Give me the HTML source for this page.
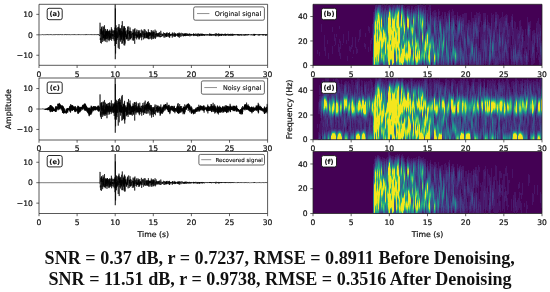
<!DOCTYPE html>
<html><head><meta charset="utf-8"><title>Denoising result</title>
<style>html,body{margin:0;padding:0;background:#fff}svg{display:block}</style></head>
<body>
<svg width="550" height="292" viewBox="0 0 550 292">
<rect width="550" height="292" fill="#fff"/>
<g font-family="'DejaVu Sans', 'Liberation Sans', sans-serif" fill="#111" stroke="#111" stroke-width="0.22" stroke-linejoin="round">
<clipPath id="cl0"><rect x="39" y="4.3" width="228.6" height="61"/></clipPath>
<path clip-path="url(#cl0)" d="M39 34.8 39.08 34.8 39.15 34.8 39.23 34.8 39.3 34.8 39.38 34.8 39.46 34.8 39.53 34.8 39.61 34.8 39.69 34.8 39.76 34.8 39.84 34.8 39.91 34.8 39.99 34.8 40.07 34.8 40.14 34.8 40.22 34.81 40.3 34.81 40.37 34.79 40.45 34.79 40.52 34.81 40.6 34.81 40.68 34.79 40.75 34.8 40.83 34.81 40.91 34.8 40.98 34.77 41.06 34.77 41.13 34.86 41.21 34.87 41.29 34.78 41.36 34.79 41.44 34.85 41.51 34.78 41.59 34.71 41.67 34.76 41.74 34.8 41.82 34.79 41.9 34.83 41.97 34.8 42.05 34.78 42.12 34.89 42.2 34.83 42.28 34.71 42.35 34.85 42.43 34.85 42.51 34.6 42.58 34.63 42.66 34.87 42.73 34.87 42.81 34.75 42.89 34.79 42.96 34.83 43.04 34.9 43.11 34.94 43.19 34.87 43.27 34.89 43.34 34.89 43.42 34.76 43.5 34.7 43.57 34.64 43.65 34.65 43.72 34.82 43.8 34.86 43.88 34.82 43.95 34.82 44.03 34.78 44.11 34.75 44.18 34.73 44.26 34.76 44.33 34.9 44.41 34.95 44.49 34.83 44.56 34.76 44.64 34.79 44.72 34.81 44.79 34.86 44.87 34.86 44.94 34.83 45.02 34.86 45.1 34.74 45.17 34.56 45.25 34.7 45.32 34.87 45.4 34.83 45.48 34.83 45.55 34.87 45.63 34.86 45.71 34.86 45.78 34.84 45.86 34.78 45.93 34.67 46.01 34.67 46.09 34.8 46.16 34.71 46.24 34.66 46.32 34.88 46.39 34.89 46.47 34.7 46.54 34.74 46.62 34.86 46.7 34.88 46.77 34.88 46.85 34.96 46.92 34.91 47 34.73 47.08 34.8 47.15 34.84 47.23 34.65 47.31 34.74 47.38 34.89 47.46 34.73 47.53 34.84 47.61 35.02 47.69 34.75 47.76 34.65 47.84 34.93 47.92 34.9 47.99 34.7 48.07 34.7 48.14 34.77 48.22 34.74 48.3 34.7 48.37 34.75 48.45 34.8 48.52 34.76 48.6 34.78 48.68 34.84 48.75 34.84 48.83 34.84 48.91 34.91 48.98 34.89 49.06 34.7 49.13 34.76 49.21 34.96 49.29 34.86 49.36 34.78 49.44 34.85 49.52 34.8 49.59 34.78 49.67 34.85 49.74 34.86 49.82 34.83 49.9 34.73 49.97 34.55 50.05 34.58 50.13 34.78 50.2 34.82 50.28 34.73 50.35 34.84 50.43 34.99 50.51 34.84 50.58 34.69 50.66 34.78 50.73 34.92 50.81 35.03 50.89 34.93 50.96 34.67 51.04 34.6 51.12 34.67 51.19 34.77 51.27 34.94 51.34 34.92 51.42 34.81 51.5 34.93 51.57 34.91 51.65 34.65 51.73 34.63 51.8 34.79 51.88 34.76 51.95 34.71 52.03 34.83 52.11 34.91 52.18 34.83 52.26 34.75 52.34 34.76 52.41 34.77 52.49 34.75 52.56 34.79 52.64 34.82 52.72 34.83 52.79 34.84 52.87 34.83 52.94 34.82 53.02 34.88 53.1 34.9 53.17 34.81 53.25 34.76 53.33 34.81 53.4 34.82 53.48 34.68 53.55 34.55 53.63 34.66 53.71 34.93 53.78 34.94 53.86 34.77 53.94 34.78 54.01 34.79 54.09 34.76 54.16 34.96 54.24 35.1 54.32 34.89 54.39 34.69 54.47 34.74 54.54 34.74 54.62 34.66 54.7 34.76 54.77 34.78 54.85 34.68 54.93 34.76 55 34.87 55.08 34.88 55.15 34.84 55.23 34.74 55.31 34.86 55.38 34.97 55.46 34.74 55.54 34.71 55.61 34.9 55.69 34.8 55.76 34.73 55.84 34.84 55.92 34.77 55.99 34.72 56.07 34.87 56.14 34.8 56.22 34.65 56.3 34.82 56.37 34.95 56.45 34.79 56.53 34.74 56.6 34.86 56.68 34.94 56.75 34.82 56.83 34.64 56.91 34.66 56.98 34.72 57.06 34.74 57.14 34.92 57.21 34.95 57.29 34.71 57.36 34.71 57.44 34.88 57.52 34.85 57.59 34.78 57.67 34.82 57.75 34.85 57.82 34.83 57.9 34.73 57.97 34.76 58.05 34.85 58.13 34.86 58.2 34.98 58.28 34.99 58.35 34.64 58.43 34.52 58.51 34.79 58.58 34.78 58.66 34.65 58.74 34.81 58.81 34.92 58.89 34.84 58.96 34.79 59.04 34.76 59.12 34.69 59.19 34.74 59.27 34.93 59.35 34.95 59.42 34.78 59.5 34.78 59.57 34.83 59.65 34.74 59.73 34.76 59.8 34.86 59.88 34.84 59.95 34.92 60.03 34.96 60.11 34.7 60.18 34.65 60.26 34.79 60.34 34.66 60.41 34.64 60.49 34.86 60.56 34.94 60.64 34.86 60.72 34.71 60.79 34.66 60.87 34.88 60.95 35 61.02 34.81 61.1 34.65 61.17 34.71 61.25 34.88 61.33 34.92 61.4 34.81 61.48 34.79 61.56 34.81 61.63 34.8 61.71 34.86 61.78 34.91 61.86 34.85 61.94 34.69 62.01 34.64 62.09 34.87 62.16 34.91 62.24 34.64 62.32 34.66 62.39 34.91 62.47 34.9 62.55 34.74 62.62 34.72 62.7 34.72 62.77 34.68 62.85 34.77 62.93 34.83 63 34.84 63.08 34.93 63.16 34.87 63.23 34.73 63.31 34.8 63.38 34.9 63.46 34.83 63.54 34.85 63.61 34.93 63.69 34.82 63.77 34.72 63.84 34.77 63.92 34.73 63.99 34.66 64.07 34.74 64.15 34.82 64.22 34.84 64.3 34.86 64.37 34.92 64.45 34.84 64.53 34.66 64.6 34.72 64.68 34.78 64.76 34.75 64.83 35.01 64.91 35.04 64.98 34.62 65.06 34.59 65.14 34.79 65.21 34.73 65.29 34.86 65.37 34.98 65.44 34.78 65.52 34.85 65.59 35.01 65.67 34.83 65.75 34.65 65.82 34.64 65.9 34.72 65.97 34.78 66.05 34.76 66.13 34.81 66.2 34.74 66.28 34.59 66.36 34.85 66.43 35.05 66.51 34.92 66.58 34.95 66.66 34.91 66.74 34.64 66.81 34.72 66.89 34.9 66.97 34.81 67.04 34.72 67.12 34.69 67.19 34.71 67.27 34.84 67.35 34.84 67.42 34.8 67.5 34.9 67.58 34.84 67.65 34.65 67.73 34.77 67.8 34.99 67.88 34.89 67.96 34.71 68.03 34.69 68.11 34.76 68.18 34.86 68.26 34.84 68.34 34.74 68.41 34.72 68.49 34.72 68.57 34.72 68.64 34.8 68.72 34.9 68.79 34.91 68.87 34.83 68.95 34.68 69.02 34.68 69.1 34.9 69.18 34.89 69.25 34.7 69.33 34.77 69.4 34.94 69.48 35 69.56 34.87 69.63 34.64 69.71 34.71 69.78 34.88 69.86 34.82 69.94 34.84 70.01 34.85 70.09 34.74 70.17 34.76 70.24 34.77 70.32 34.7 70.39 34.72 70.47 34.73 70.55 34.72 70.62 34.84 70.7 34.94 70.78 34.89 70.85 34.84 70.93 34.87 71 34.86 71.08 34.76 71.16 34.74 71.23 34.84 71.31 34.8 71.39 34.63 71.46 34.67 71.54 34.82 71.61 34.86 71.69 34.88 71.77 34.91 71.84 34.83 71.92 34.7 71.99 34.7 72.07 34.87 72.15 34.96 72.22 34.82 72.3 34.72 72.38 34.77 72.45 34.75 72.53 34.74 72.6 34.83 72.68 34.74 72.76 34.59 72.83 34.73 72.91 34.89 72.99 34.87 73.06 34.82 73.14 34.73 73.21 34.75 73.29 34.92 73.37 34.92 73.44 34.79 73.52 34.92 73.59 35.05 73.67 34.87 73.75 34.78 73.82 34.82 73.9 34.71 73.98 34.76 74.05 34.8 74.13 34.56 74.2 34.64 74.28 34.88 74.36 34.77 74.43 34.73 74.51 34.86 74.59 34.94 74.66 34.88 74.74 34.58 74.81 34.55 74.89 34.89 74.97 34.95 75.04 34.83 75.12 34.83 75.19 34.73 75.27 34.67 75.35 34.85 75.42 34.99 75.5 34.92 75.58 34.87 75.65 34.88 75.73 34.8 75.8 34.73 75.88 34.72 75.96 34.71 76.03 34.71 76.11 34.76 76.19 34.85 76.26 34.9 76.34 34.84 76.41 34.76 76.49 34.76 76.57 34.75 76.64 34.71 76.72 34.82 76.8 34.96 76.87 34.96 76.95 34.84 77.02 34.68 77.1 34.7 77.18 34.79 77.25 34.8 77.33 34.89 77.4 34.86 77.48 34.66 77.56 34.66 77.63 34.73 77.71 34.7 77.79 34.77 77.86 34.9 77.94 34.9 78.01 34.81 78.09 34.9 78.17 34.95 78.24 34.87 78.32 34.93 78.4 34.85 78.47 34.53 78.55 34.64 78.62 34.95 78.7 34.89 78.78 34.75 78.85 34.64 78.93 34.6 79 34.82 79.08 34.91 79.16 34.77 79.23 34.83 79.31 34.97 79.39 34.92 79.46 34.77 79.54 34.7 79.61 34.73 79.69 34.77 79.77 34.78 79.84 34.81 79.92 34.78 80 34.86 80.07 34.94 80.15 34.79 80.22 34.65 80.3 34.67 80.38 34.74 80.45 34.85 80.53 34.84 80.61 34.76 80.68 34.84 80.76 34.92 80.83 34.87 80.91 34.83 80.99 34.84 81.06 34.88 81.14 34.88 81.21 34.7 81.29 34.55 81.37 34.65 81.44 34.84 81.52 34.91 81.6 34.85 81.67 34.72 81.75 34.68 81.82 34.85 81.9 34.98 81.98 34.87 82.05 34.8 82.13 34.78 82.21 34.72 82.28 34.78 82.36 34.77 82.43 34.72 82.51 34.9 82.59 34.97 82.66 34.89 82.74 34.86 82.81 34.7 82.89 34.62 82.97 34.74 83.04 34.78 83.12 34.81 83.2 34.89 83.27 34.82 83.35 34.69 83.42 34.69 83.5 34.75 83.58 34.76 83.65 34.73 83.73 34.75 83.81 34.87 83.88 34.98 83.96 35.01 84.03 34.91 84.11 34.78 84.19 34.75 84.26 34.87 84.34 34.89 84.42 34.76 84.49 34.69 84.57 34.71 84.64 34.76 84.72 34.82 84.8 34.79 84.87 34.69 84.95 34.69 85.02 34.84 85.1 34.89 85.18 34.71 85.25 34.62 85.33 34.86 85.41 35.07 85.48 34.88 85.56 34.71 85.63 34.86 85.71 34.87 85.79 34.71 85.86 34.74 85.94 34.85 86.02 34.87 86.09 34.82 86.17 34.73 86.24 34.83 86.32 34.97 86.4 34.74 86.47 34.56 86.55 34.78 86.62 34.88 86.7 34.67 86.78 34.69 86.85 34.89 86.93 34.85 87.01 34.79 87.08 34.92 87.16 34.86 87.23 34.61 87.31 34.67 87.39 34.87 87.46 34.86 87.54 34.9 87.62 34.87 87.69 34.77 87.77 34.83 87.84 34.84 87.92 34.74 88 34.82 88.07 34.82 88.15 34.68 88.23 34.78 88.3 34.98 88.38 34.86 88.45 34.67 88.53 34.74 88.61 34.72 88.68 34.68 88.76 34.87 88.83 34.91 88.91 34.79 88.99 34.82 89.06 34.86 89.14 34.8 89.22 34.77 89.29 34.83 89.37 34.84 89.44 34.72 89.52 34.74 89.6 34.9 89.67 34.85 89.75 34.76 89.83 34.81 89.9 34.72 89.98 34.62 90.05 34.82 90.13 34.95 90.21 34.82 90.28 34.75 90.36 34.77 90.44 34.88 90.51 34.97 90.59 34.86 90.66 34.83 90.74 34.8 90.82 34.61 90.89 34.73 90.97 34.89 91.04 34.78 91.12 34.88 91.2 34.91 91.27 34.57 91.35 34.53 91.43 34.82 91.5 34.91 91.58 34.84 91.65 34.81 91.73 34.85 91.81 34.91 91.88 34.86 91.96 34.74 92.04 34.79 92.11 34.88 92.19 34.72 92.26 34.58 92.34 34.71 92.42 34.9 92.49 34.87 92.57 34.85 92.64 34.9 92.72 34.82 92.8 34.74 92.87 34.75 92.95 34.83 93.03 34.89 93.1 34.68 93.18 34.6 93.25 34.87 93.33 34.89 93.41 34.76 93.48 34.86 93.56 34.85 93.64 34.8 93.71 34.93 93.79 34.9 93.86 34.74 93.94 34.74 94.02 34.8 94.09 34.76 94.17 34.73 94.25 34.86 94.32 34.92 94.4 34.77 94.47 34.82 94.55 34.85 94.63 34.56 94.7 34.6 94.78 34.9 94.85 34.88 94.93 34.83 95.01 34.9 95.08 34.79 95.16 34.62 95.24 34.74 95.31 34.88 95.39 34.72 95.46 34.68 95.54 34.93 95.62 34.94 95.69 34.75 95.77 34.77 95.85 34.86 95.92 34.8 96 34.78 96.07 34.8 96.15 34.82 96.23 34.88 96.3 34.95 96.38 34.85 96.45 34.64 96.53 34.61 96.61 34.74 96.68 34.85 96.76 34.95 96.84 34.96 96.91 34.74 96.99 34.66 97.06 34.8 97.14 34.9 97.22 34.86 97.29 34.7 97.37 34.66 97.45 34.79 97.52 34.85 97.6 34.78 97.67 34.88 97.75 34.82 97.83 34.64 97.9 34.8 97.98 34.96 98.06 34.57 98.13 34.49 98.21 34.94 98.28 34.96 98.36 34.67 98.44 34.77 98.51 34.98 98.59 34.74 98.66 34.67 98.74 34.8 98.82 35.02 98.89 35.09 98.97 35.11 99.05 35.03 99.12 35.09 99.2 35.24 99.27 35.23 99.35 35.14 99.43 34.83 99.5 35.56 99.58 35.48 99.66 35.2 99.73 35.67 99.81 35.28 99.88 34.78 99.96 30.3 100.04 22.74 100.11 24.25 100.19 34.29 100.26 40 100.34 39.32 100.42 38.3 100.49 37.97 100.57 38.49 100.65 42.93 100.72 41.79 100.8 31 100.87 29.18 100.95 34.17 101.03 33.68 101.1 34.17 101.18 31.64 101.26 28.91 101.33 34.9 101.41 43.51 101.48 37.95 101.56 26.73 101.64 33.77 101.71 32.84 101.79 27.61 101.87 35.63 101.94 36.49 102.02 37.1 102.09 39.91 102.17 37.85 102.25 37.85 102.32 37.07 102.4 32.21 102.47 30.74 102.55 33.76 102.63 41.94 102.7 40.09 102.78 32.15 102.86 34.92 102.93 28.62 103.01 26.21 103.08 34.39 103.16 36.4 103.24 38.25 103.31 36.01 103.39 30.86 103.47 30.11 103.54 37.62 103.62 37.7 103.69 27.13 103.77 35.49 103.85 38.26 103.92 34.46 104 41.08 104.07 36.79 104.15 40.44 104.23 39.26 104.3 34.85 104.38 37.09 104.46 25.28 104.53 25.69 104.61 33.37 104.68 35.06 104.76 39.18 104.84 39.59 104.91 35.28 104.99 32.1 105.07 31.05 105.14 30.74 105.22 32.21 105.29 40.29 105.37 41.64 105.45 28.93 105.52 35.17 105.6 39.36 105.68 33.84 105.75 37.93 105.83 33.02 105.9 32.07 105.98 36.12 106.06 36.22 106.13 35.13 106.21 32.26 106.28 31.02 106.36 37.11 106.44 39.02 106.51 31.4 106.59 30.75 106.67 34.63 106.74 35.75 106.82 31.16 106.89 35.48 106.97 42.25 107.05 38.74 107.12 37.35 107.2 30.43 107.28 29.21 107.35 39.36 107.43 35.75 107.5 29.49 107.58 34.73 107.66 33.36 107.73 31.64 107.81 37.42 107.88 36.97 107.96 37.86 108.04 38.19 108.11 32.49 108.19 33.23 108.27 35.8 108.34 36.59 108.42 34.66 108.49 31.95 108.57 31.57 108.65 30.91 108.72 35.86 108.8 40.1 108.88 36.94 108.95 30.8 109.03 33.37 109.1 41.2 109.18 38.05 109.26 32.37 109.33 32.87 109.41 37.73 109.49 39.55 109.56 33.43 109.64 30.91 109.71 33.73 109.79 32.15 109.87 29.71 109.94 30.74 110.02 34.91 110.09 38.23 110.17 33.94 110.25 33.87 110.32 37.79 110.4 36.45 110.48 37.27 110.55 33.6 110.63 33.25 110.7 39.86 110.78 36.15 110.86 30.87 110.93 32.73 111.01 36.81 111.09 37.73 111.16 38.64 111.24 38.06 111.31 32.18 111.39 27.29 111.47 28.57 111.54 36.28 111.62 40.74 111.69 39.39 111.77 31.86 111.85 28.9 111.92 34.57 112 34.92 112.08 35.57 112.15 35.47 112.23 33.99 112.3 36.41 112.38 36.28 112.46 35.84 112.53 35.27 112.61 33.81 112.69 38.88 112.76 37.55 112.84 30.32 112.91 33.14 112.99 32.58 113.07 30.98 113.14 34.83 113.22 36.1 113.3 35.96 113.37 34.84 113.45 35.03 113.52 34.45 113.6 35.11 113.68 39.38 113.75 38.18 113.83 32.31 113.9 30.46 113.98 31.68 114.06 32.9 114.13 36.9 114.21 41.14 114.29 38 114.36 36.18 114.44 36.94 114.51 31.43 114.59 32.49 114.67 33.45 114.74 30.06 114.82 35.68 114.9 30.26 114.97 27.58 115.05 46.02 115.12 17.84 115.2 4.3 115.28 59.2 115.35 55.63 115.43 8.5 115.5 36.49 115.58 53.47 115.66 36.39 115.73 32.5 115.81 40.06 115.89 37.61 115.96 25.25 116.04 27.32 116.11 32.16 116.19 40.05 116.27 40.72 116.34 32.93 116.42 44 116.5 42.71 116.57 28.64 116.65 28.17 116.72 30.49 116.8 33.22 116.88 31.09 116.95 32.17 117.03 39.98 117.11 37.76 117.18 33.03 117.26 36.04 117.33 38.21 117.41 36.86 117.49 35.31 117.56 35.33 117.64 31.25 117.71 27.31 117.79 35.56 117.87 37.79 117.94 36.38 118.02 36.22 118.1 31.78 118.17 44.44 118.25 47.85 118.32 32.26 118.4 29.05 118.48 26.92 118.55 26.75 118.63 31.58 118.71 30.1 118.78 29.49 118.86 36.73 118.93 36.44 119.01 24.13 119.09 32.76 119.16 49.11 119.24 49.05 119.31 42.22 119.39 31.3 119.47 30 119.54 34.77 119.62 32.58 119.7 27.8 119.77 33.36 119.85 35.27 119.92 30.52 120 40.29 120.08 38.26 120.15 29.09 120.23 34.96 120.31 33.61 120.38 31.58 120.46 41.65 120.53 37.77 120.61 28.22 120.69 32.78 120.76 36.66 120.84 37.52 120.92 35.42 120.99 35.4 121.07 33.2 121.14 34.69 121.22 39.57 121.3 30.8 121.37 32.65 121.45 39.41 121.52 36.97 121.6 31.94 121.68 25.33 121.75 35.6 121.83 43.76 121.91 36.73 121.98 35.23 122.06 31.08 122.13 34.25 122.21 34.37 122.29 21.18 122.36 27.26 122.44 36.84 122.52 40.52 122.59 43.39 122.67 40.71 122.74 35.24 122.82 32.87 122.9 36.58 122.97 32.54 123.05 32.13 123.12 37.56 123.2 34.74 123.28 29.39 123.35 32.67 123.43 32.8 123.51 34.44 123.58 40.75 123.66 28.35 123.73 35.49 123.81 39.38 123.89 26.46 123.96 45.22 124.04 41.58 124.12 26.06 124.19 31.4 124.27 30.04 124.34 38.51 124.42 41.95 124.5 32.65 124.57 26.8 124.65 30.62 124.73 45.48 124.8 40.6 124.88 31.25 124.95 37.54 125.03 43.59 125.11 42.64 125.18 29.72 125.26 27.99 125.33 35.02 125.41 34.73 125.49 31.78 125.56 32.64 125.64 37.21 125.72 32.6 125.79 32.52 125.87 34.47 125.94 31.13 126.02 32.59 126.1 34.64 126.17 35.82 126.25 38.16 126.33 39.15 126.4 35.06 126.48 35.51 126.55 39.31 126.63 35.88 126.71 34.01 126.78 37.13 126.86 37.14 126.93 36.11 127.01 36.61 127.09 33.5 127.16 30.1 127.24 32.37 127.32 29.49 127.39 33.14 127.47 38.46 127.54 26.66 127.62 33.09 127.7 35.35 127.77 30.31 127.85 39.36 127.93 37.5 128 40.99 128.08 40.84 128.15 40.55 128.23 40.53 128.31 32.32 128.38 33.84 128.46 32.45 128.54 29.6 128.61 27.51 128.69 26.45 128.76 29.32 128.84 33.21 128.92 37.69 128.99 38.48 129.07 38.43 129.14 39.12 129.22 40.38 129.3 40.15 129.37 32.54 129.45 31.69 129.53 36.55 129.6 30.87 129.68 33.82 129.75 35.84 129.83 31.37 129.91 39.16 129.98 36.93 130.06 27.47 130.14 32.15 130.21 38.42 130.29 37.19 130.36 37.87 130.44 39.35 130.52 35.01 130.59 31.26 130.67 31.21 130.74 31.87 130.82 31.13 130.9 32.37 130.97 37.51 131.05 37.46 131.13 34.08 131.2 34.7 131.28 35.88 131.35 36.67 131.43 38.18 131.51 37.19 131.58 33.75 131.66 33.77 131.74 33.34 131.81 31.63 131.89 33.95 131.96 34.72 132.04 34.15 132.12 33.53 132.19 34.54 132.27 39.49 132.35 40.39 132.42 37.4 132.5 34.5 132.57 33.28 132.65 34.08 132.73 33.34 132.8 33.34 132.88 33.88 132.95 31.98 133.03 29.35 133.11 31.64 133.18 35.16 133.26 33.53 133.34 37.62 133.41 37.64 133.49 32.55 133.56 40.75 133.64 38.01 133.72 32.86 133.79 39.82 133.87 32.22 133.95 30.19 134.02 37.96 134.1 35.1 134.17 35.49 134.25 36.04 134.33 28.98 134.4 31 134.48 38.23 134.55 37.5 134.63 40.46 134.71 43.83 134.78 35.95 134.86 29.7 134.94 28.22 135.01 28.73 135.09 35.2 135.16 36.11 135.24 34.33 135.32 34.96 135.39 32.38 135.47 32.39 135.55 33.75 135.62 35.26 135.7 36.48 135.77 36.75 135.85 38.2 135.93 38.31 136 36.42 136.08 33.88 136.16 32.16 136.23 31.9 136.31 31.28 136.38 32.65 136.46 35.73 136.54 34.6 136.61 36.46 136.69 39.45 136.76 31.71 136.84 29.56 136.92 37.51 136.99 36.23 137.07 34.46 137.15 36.5 137.22 35.78 137.3 35.6 137.37 34.67 137.45 37.35 137.53 37.43 137.6 34.97 137.68 36.92 137.76 35.16 137.83 32.1 137.91 33.69 137.98 37.32 138.06 35.65 138.14 30 138.21 30.54 138.29 35.68 138.36 35.69 138.44 32.8 138.52 33.24 138.59 32.82 138.67 31.38 138.75 33.3 138.82 39.25 138.9 38.08 138.97 31.54 139.05 36.63 139.13 38.11 139.2 34.1 139.28 39.41 139.36 38.53 139.43 34.81 139.51 36.88 139.58 33.42 139.66 31.28 139.74 31.11 139.81 30.25 139.89 37.3 139.97 38.06 140.04 33.79 140.12 36.49 140.19 34.55 140.27 33.08 140.35 34.92 140.42 33.5 140.5 34.45 140.57 35.7 140.65 34.93 140.73 34.23 140.8 33.97 140.88 36.19 140.96 37.34 141.03 33.4 141.11 33.44 141.18 36.34 141.26 33.05 141.34 31.46 141.41 29.59 141.49 30.38 141.57 38.34 141.64 40.24 141.72 39.9 141.79 37.72 141.87 34.65 141.95 35.74 142.02 35.53 142.1 36.58 142.17 37.1 142.25 36.02 142.33 33.51 142.4 31.36 142.48 32.57 142.56 32.86 142.63 34.73 142.71 34.72 142.78 30.44 142.86 30.87 142.94 32.59 143.01 33.6 143.09 36.4 143.17 36.27 143.24 36.21 143.32 37.55 143.39 37.94 143.47 38.77 143.55 39.36 143.62 35.63 143.7 31.56 143.78 31.47 143.85 33.8 143.93 35.36 144 34.02 144.08 36.73 144.16 31.91 144.23 29.12 144.31 35.17 144.38 33.35 144.46 37.71 144.54 37.84 144.61 34.8 144.69 38.39 144.77 36.37 144.84 35.56 144.92 33.67 144.99 33.21 145.07 34.33 145.15 29.71 145.22 30.33 145.3 35.66 145.38 35.78 145.45 35.75 145.53 37.81 145.6 38.18 145.68 36.96 145.76 35.24 145.83 34.17 145.91 33.25 145.98 34.37 146.06 34.03 146.14 35.09 146.21 36.03 146.29 31.15 146.37 33.89 146.44 34.15 146.52 32.32 146.59 37.75 146.67 33.66 146.75 32.92 146.82 38.16 146.9 35.28 146.98 35.08 147.05 38.17 147.13 35.9 147.2 35.38 147.28 36.75 147.36 33.73 147.43 32.87 147.51 33.15 147.59 33.6 147.66 32.26 147.74 33.78 147.81 38.36 147.89 33.54 147.97 33.83 148.04 37.1 148.12 33.55 148.19 38.09 148.27 38.94 148.35 29.33 148.42 31.6 148.5 36.69 148.58 33.48 148.65 32.54 148.73 33.25 148.8 36.74 148.88 39.32 148.96 36.47 149.03 32.82 149.11 35.1 149.19 35.87 149.26 32.17 149.34 34.81 149.41 34.22 149.49 33.36 149.57 35.74 149.64 32.54 149.72 33.3 149.79 36.41 149.87 36.69 149.95 38.87 150.02 39.03 150.1 36.6 150.18 34.1 150.25 32.38 150.33 32.36 150.4 32.96 150.48 34.54 150.56 35.35 150.63 33.24 150.71 33 150.79 35.35 150.86 33.28 150.94 35.11 151.01 38.13 151.09 35.92 151.17 36.07 151.24 33 151.32 30.03 151.4 32.05 151.47 36.34 151.55 39.53 151.62 37.86 151.7 33.79 151.78 31.8 151.85 34.58 151.93 37.43 152 37.2 152.08 35.92 152.16 34.7 152.23 33.43 152.31 32.28 152.39 31.43 152.46 33.02 152.54 35.69 152.61 36.23 152.69 34.12 152.77 33.15 152.84 36.54 152.92 39.12 153 38.61 153.07 33.67 153.15 30.36 153.22 35.33 153.3 38.78 153.38 35.94 153.45 33.23 153.53 31.95 153.6 33.54 153.68 35.59 153.76 32.91 153.83 32.42 153.91 35.93 153.99 36.97 154.06 32.94 154.14 31.72 154.21 35.4 154.29 37.05 154.37 37.77 154.44 38.09 154.52 37.51 154.6 35.35 154.67 33.28 154.75 32.85 154.82 32.82 154.9 32.53 154.98 31.59 155.05 29.62 155.13 31.02 155.2 36.8 155.28 38.98 155.36 38.05 155.43 37.8 155.51 37.92 155.59 35.34 155.66 33.58 155.74 35.66 155.81 37.72 155.89 36.18 155.97 34.19 156.04 34.99 156.12 31.09 156.2 30.85 156.27 35.37 156.35 35.76 156.42 35.5 156.5 33.77 156.58 32.85 156.65 33.84 156.73 34.38 156.81 35.52 156.88 36.99 156.96 36.29 157.03 34.6 157.11 33.5 157.19 33.71 157.26 35.79 157.34 35.87 157.41 34.21 157.49 33.58 157.57 33.27 157.64 34.05 157.72 35.94 157.8 35.77 157.87 34.88 157.95 36.21 158.02 37.11 158.1 35.76 158.18 34.33 158.25 33.11 158.33 33.68 158.41 35.54 158.48 35.47 158.56 35.01 158.63 33.82 158.71 33.12 158.79 35.04 158.86 36.43 158.94 35.94 159.02 34.33 159.09 32.54 159.17 32.61 159.24 34.82 159.32 36.6 159.4 35.71 159.47 34.3 159.55 33.63 159.62 32.25 159.7 32.69 159.78 33.64 159.85 34.61 159.93 36.98 160.01 36.94 160.08 36.39 160.16 37.36 160.23 37.14 160.31 36.08 160.39 36.83 160.46 36.98 160.54 34.02 160.62 34.22 160.69 34.88 160.77 30.8 160.84 31.1 160.92 34.26 161 33.64 161.07 33.79 161.15 34.36 161.22 34.4 161.3 34.94 161.38 35.24 161.45 36.49 161.53 36.97 161.61 35.68 161.68 34.72 161.76 34.85 161.83 34.59 161.91 33.83 161.99 33.91 162.06 33.68 162.14 34.11 162.22 35.64 162.29 35.75 162.37 35.31 162.44 34.57 162.52 34.49 162.6 36.24 162.67 35.82 162.75 34.02 162.82 34.34 162.9 34.86 162.98 34.54 163.05 35 163.13 35.83 163.21 35.24 163.28 34.28 163.36 34.05 163.43 33.47 163.51 32.48 163.59 32.76 163.66 34.1 163.74 35.32 163.82 37.08 163.89 37.51 163.97 36.53 164.04 36.08 164.12 35.24 164.2 35.37 164.27 34.75 164.35 33.31 164.43 33.92 164.5 34.04 164.58 34.26 164.65 33.81 164.73 33.17 164.81 35.78 164.88 37.58 164.96 35.8 165.03 33.5 165.11 33.44 165.19 33.29 165.26 33.59 165.34 36.13 165.42 35.96 165.49 34.02 165.57 34.59 165.64 35.15 165.72 34.58 165.8 35.97 165.87 36.59 165.95 34.1 166.03 33.72 166.1 34.83 166.18 34.2 166.25 35.06 166.33 36.84 166.41 34.71 166.48 33.23 166.56 36.59 166.64 36.54 166.71 32.81 166.79 33.68 166.86 36.24 166.94 35.13 167.02 32.75 167.09 32.46 167.17 34.21 167.24 35.49 167.32 35.3 167.4 35.08 167.47 34.93 167.55 34.81 167.63 35.03 167.7 35.27 167.78 35.8 167.85 36.54 167.93 35.43 168.01 33.42 168.08 33.2 168.16 33.39 168.24 34.92 168.31 36.7 168.39 36.34 168.46 36.05 168.54 35.26 168.62 33.75 168.69 33.11 168.77 33.89 168.84 34.94 168.92 34.9 169 34.24 169.07 33.46 169.15 33.13 169.23 33.63 169.3 35.66 169.38 37.66 169.45 36.06 169.53 32.42 169.61 32.76 169.68 36.33 169.76 37.42 169.84 35.77 169.91 34.5 169.99 34.96 170.06 35.52 170.14 34.87 170.22 34.4 170.29 34.56 170.37 34.8 170.44 35.18 170.52 34.34 170.6 34.05 170.67 34.4 170.75 34.22 170.83 36.01 170.9 35.97 170.98 33.9 171.05 34.64 171.13 35.43 171.21 34.77 171.28 34.78 171.36 35.07 171.44 34.99 171.51 34.26 171.59 33.98 171.66 34.31 171.74 33.86 171.82 33.99 171.89 33.97 171.97 34.06 172.05 35.07 172.12 35.31 172.2 36.42 172.27 37.62 172.35 35.23 172.43 32.5 172.5 33.83 172.58 34.9 172.65 34.56 172.73 36.04 172.81 36.26 172.88 34.11 172.96 33.45 173.04 34.48 173.11 33.98 173.19 33.6 173.26 34.88 173.34 35.12 173.42 35.51 173.49 36.38 173.57 36.14 173.65 35.58 173.72 35.37 173.8 35.47 173.87 34.69 173.95 34.35 174.03 35.77 174.1 35.73 174.18 33.68 174.26 32.44 174.33 33.09 174.41 34.25 174.48 33.94 174.56 33.98 174.64 35.3 174.71 34.57 174.79 35.39 174.86 36.97 174.94 34.01 175.02 35.01 175.09 36.78 175.17 33.22 175.25 34.12 175.32 36.04 175.4 34.9 175.47 35.04 175.55 34.31 175.63 33.61 175.7 35.08 175.78 35.84 175.86 34.83 175.93 34.15 176.01 34.66 176.08 35.02 176.16 34.47 176.24 34.41 176.31 35.05 176.39 35.36 176.46 35.58 176.54 35.87 176.62 35.72 176.69 35.13 176.77 34.6 176.85 34.08 176.92 34.03 177 34.01 177.07 33.85 177.15 34.18 177.23 34.26 177.3 33.62 177.38 33.55 177.46 35.8 177.53 36.07 177.61 33.69 177.68 34.83 177.76 36.25 177.84 35.58 177.91 36.41 177.99 36.53 178.06 34.63 178.14 33.08 178.22 33.72 178.29 34.99 178.37 34.57 178.45 34.02 178.52 35.37 178.6 36.78 178.67 34.79 178.75 34.44 178.83 35.7 178.9 33.81 178.98 34.01 179.06 34.33 179.13 32.56 179.21 34.47 179.28 37.77 179.36 37.03 179.44 34.9 179.51 34.45 179.59 33.75 179.67 33.42 179.74 34.31 179.82 34.27 179.89 34.45 179.97 35.98 180.05 35.43 180.12 34.34 180.2 35.11 180.27 34.85 180.35 33.61 180.43 33.36 180.5 33.98 180.58 34.29 180.66 34.57 180.73 35.89 180.81 37.03 180.88 36.85 180.96 36.25 181.04 35.76 181.11 35.65 181.19 35.06 181.27 33.35 181.34 32.81 181.42 33.09 181.49 33.22 181.57 33.87 181.65 34.65 181.72 35.54 181.8 35.65 181.88 35.27 181.95 35.58 182.03 35.86 182.1 35.56 182.18 34.99 182.26 34.86 182.33 34.84 182.41 34.51 182.48 33.84 182.56 33.19 182.64 33.99 182.71 35.15 182.79 35.09 182.87 35.07 182.94 35.06 183.02 35.28 183.09 35.54 183.17 34.23 183.25 34.78 183.32 36.44 183.4 34.8 183.48 33.78 183.55 34.18 183.63 33.82 183.7 34.12 183.78 34.58 183.86 34.58 183.93 34.85 184.01 35.94 184.08 35.94 184.16 34.52 184.24 34.89 184.31 35.64 184.39 34.42 184.47 34.1 184.54 35.81 184.62 35.22 184.69 33.34 184.77 34.84 184.85 35.4 184.92 33.73 185 34.8 185.08 35.92 185.15 34.5 185.23 34.63 185.3 36.18 185.38 35.1 185.46 34.42 185.53 35.21 185.61 33.86 185.69 33.27 185.76 34.43 185.84 34.75 185.91 35.13 185.99 35.22 186.07 33.89 186.14 33.5 186.22 34.41 186.29 34.8 186.37 35.33 186.45 35.91 186.52 36.01 186.6 35.69 186.68 35.28 186.75 35.83 186.83 35.23 186.9 33.4 186.98 34.12 187.06 35.12 187.13 34.03 187.21 34.31 187.29 35.67 187.36 35.09 187.44 34.52 187.51 35.18 187.59 34.7 187.67 33.77 187.74 34.28 187.82 34.57 187.89 34.11 187.97 34.72 188.05 35 188.12 35.06 188.2 36.02 188.28 35.3 188.35 34.61 188.43 35.6 188.5 35.61 188.58 34.66 188.66 34.29 188.73 34.72 188.81 34.99 188.89 34.93 188.96 34.5 189.04 33.89 189.11 34.39 189.19 34.43 189.27 33.45 189.34 34.25 189.42 35.15 189.5 34.4 189.57 34.83 189.65 35.16 189.72 34.73 189.8 35.65 189.88 36.38 189.95 35.77 190.03 34.41 190.1 33.75 190.18 34.8 190.26 35.78 190.33 35.58 190.41 35.09 190.49 34.49 190.56 34.73 190.64 35 190.71 34.28 190.79 34.15 190.87 34.03 190.94 34.35 191.02 34.98 191.1 35.11 191.17 35.16 191.25 34.26 191.32 33.99 191.4 35.09 191.48 35.67 191.55 35.25 191.63 34.99 191.7 34.9 191.78 33.94 191.86 34.01 191.93 34.77 192.01 34.35 192.09 34.51 192.16 35.11 192.24 35.44 192.31 35.45 192.39 35.27 192.47 35.19 192.54 34.72 192.62 34.86 192.7 34.99 192.77 34.92 192.85 35.05 192.92 34.81 193 34.87 193.08 34.6 193.15 34.02 193.23 34.11 193.31 35.12 193.38 35.31 193.46 33.92 193.53 33.56 193.61 35.06 193.69 36.09 193.76 34.63 193.84 33.65 193.91 34.75 193.99 35.49 194.07 35.56 194.14 35.19 194.22 34.64 194.3 34.15 194.37 34.67 194.45 35.37 194.52 34.37 194.6 34.1 194.68 34.88 194.75 34.99 194.83 34.94 194.91 35.1 194.98 34.97 195.06 34.53 195.13 35.2 195.21 35.83 195.29 35.1 195.36 34.6 195.44 34.76 195.51 35.32 195.59 35.49 195.67 34.69 195.74 34.07 195.82 33.42 195.9 33.5 195.97 34.64 196.05 34.79 196.12 34.71 196.2 35.14 196.28 35.33 196.35 34.85 196.43 34.82 196.51 35.89 196.58 35.82 196.66 34.8 196.73 34.22 196.81 34.46 196.89 34.69 196.96 34.07 197.04 33.99 197.12 33.96 197.19 34.51 197.27 36 197.34 35.8 197.42 34.98 197.5 34.63 197.57 34.14 197.65 33.76 197.72 34.44 197.8 36.14 197.88 36.57 197.95 35.93 198.03 34.86 198.11 33.75 198.18 33.64 198.26 34.04 198.33 34.96 198.41 35.56 198.49 35.28 198.56 35.3 198.64 35.24 198.72 34.3 198.79 33.66 198.87 34.14 198.94 34.43 199.02 34.69 199.1 34.77 199.17 34.1 199.25 34.91 199.32 36.08 199.4 35.17 199.48 34 199.55 35.08 199.63 36.08 199.71 34.82 199.78 35.09 199.86 36.02 199.93 34.83 200.01 34.16 200.09 34.51 200.16 34.38 200.24 33.68 200.32 33.62 200.39 34.37 200.47 34.72 200.54 35.14 200.62 35.51 200.7 35.49 200.77 35.5 200.85 35.09 200.93 34.49 201 34.33 201.08 35.1 201.15 35.26 201.23 33.96 201.31 34.28 201.38 34.87 201.46 33.99 201.53 34.77 201.61 35.49 201.69 34.49 201.76 34.81 201.84 35.51 201.92 33.85 201.99 33.45 202.07 35.42 202.14 35.78 202.22 35.64 202.3 35.81 202.37 35.98 202.45 35.54 202.53 34.26 202.6 34.43 202.68 34.87 202.75 34.38 202.83 34.14 202.91 34.83 202.98 35.11 203.06 34.16 203.13 33.98 203.21 34.86 203.29 35.09 203.36 34.34 203.44 34.75 203.52 35.27 203.59 34.34 203.67 34.52 203.74 34.39 203.82 34.05 203.9 34.53 203.97 34.02 204.05 34.96 204.13 35.94 204.2 34.83 204.28 34.83 204.35 35.59 204.43 35.47 204.51 35.29 204.58 35.11 204.66 34.76 204.74 35.05 204.81 34.82 204.89 34.31 204.96 34.96 205.04 34.7 205.12 34.61 205.19 35.29 205.27 34.95 205.34 35.15 205.42 35.26 205.5 34.83 205.57 34.8 205.65 34.64 205.73 34.59 205.8 34.37 205.88 33.96 205.95 34.07 206.03 34.19 206.11 34.21 206.18 34.44 206.26 34.71 206.34 35.28 206.41 34.99 206.49 34.52 206.56 35.11 206.64 35.2 206.72 35.33 206.79 35.34 206.87 34.88 206.94 34.74 207.02 34.64 207.1 35.11 207.17 35.2 207.25 34.89 207.33 35.05 207.4 34.85 207.48 34.73 207.55 34.79 207.63 34.42 207.71 34.01 207.78 34.59 207.86 35.47 207.94 35.13 208.01 34.54 208.09 34.32 208.16 34.36 208.24 34.7 208.32 34.83 208.39 34.73 208.47 34.56 208.55 34.69 208.62 34.8 208.7 34.77 208.77 34.95 208.85 35.16 208.93 35.41 209 35.12 209.08 35.09 209.15 35.37 209.23 34.85 209.31 35.26 209.38 35.25 209.46 33.74 209.54 33.55 209.61 34.67 209.69 35.1 209.76 34.79 209.84 35.36 209.92 35.08 209.99 33.84 210.07 34.56 210.15 35.37 210.22 35.21 210.3 35.4 210.37 34.84 210.45 33.93 210.53 34.38 210.6 35.19 210.68 34.73 210.75 33.99 210.83 35.2 210.91 35.41 210.98 34.08 211.06 34.39 211.14 34.04 211.21 33.9 211.29 35.07 211.36 35.32 211.44 35.41 211.52 35.76 211.59 35.12 211.67 34.49 211.75 35.26 211.82 35.34 211.9 34.76 211.97 34.53 212.05 34.34 212.13 34.38 212.2 34.41 212.28 34.72 212.36 35.21 212.43 35.44 212.51 35.24 212.58 34.93 212.66 34.56 212.74 34.28 212.81 34.51 212.89 34.91 212.96 35.2 213.04 34.39 213.12 34.04 213.19 35.26 213.27 35.09 213.35 34.37 213.42 34.57 213.5 34.36 213.57 34.52 213.65 35.33 213.73 35.46 213.8 34.99 213.88 34.99 213.96 35.09 214.03 34.66 214.11 34.76 214.18 35.12 214.26 35.03 214.34 34.72 214.41 34.83 214.49 35.29 214.56 34.66 214.64 34.21 214.72 35.04 214.79 35.28 214.87 34.49 214.95 34.09 215.02 34 215.1 33.92 215.17 33.66 215.25 34.07 215.33 35.25 215.4 35.39 215.48 35.38 215.56 35.84 215.63 36 215.71 34.84 215.78 34.36 215.86 35.62 215.94 36.24 216.01 35.27 216.09 33.37 216.17 33.02 216.24 33.99 216.32 35.04 216.39 35.16 216.47 35.04 216.55 35.1 216.62 34.9 216.7 35.29 216.77 35.2 216.85 35.07 216.93 34.48 217 34.23 217.08 34.91 217.16 34.13 217.23 33.97 217.31 35.39 217.38 35.26 217.46 34.47 217.54 34.61 217.61 34.57 217.69 34.72 217.77 35.23 217.84 35.29 217.92 34.9 217.99 34.5 218.07 33.88 218.15 33.68 218.22 35.08 218.3 36.17 218.37 36.34 218.45 35.81 218.53 34.29 218.6 33.57 218.68 33.54 218.76 34.25 218.83 35.27 218.91 35.29 218.98 35.34 219.06 35.33 219.14 34.92 219.21 34.2 219.29 34.52 219.37 36.06 219.44 35.9 219.52 34.57 219.59 33.88 219.67 33.87 219.75 34.59 219.82 34.87 219.9 34.29 219.98 34.68 220.05 35.52 220.13 35.07 220.2 34.36 220.28 34.68 220.36 35.34 220.43 35 220.51 34.21 220.58 33.93 220.66 34.12 220.74 34.54 220.81 34.9 220.89 35.33 220.97 35.26 221.04 34.93 221.12 35.24 221.19 35.01 221.27 34.4 221.35 35.4 221.42 35.47 221.5 34.62 221.58 35.63 221.65 34.63 221.73 33.87 221.8 35.63 221.88 35.13 221.96 34.5 222.03 34.6 222.11 33.87 222.18 34.25 222.26 34.81 222.34 34.56 222.41 34.89 222.49 35.01 222.57 34.45 222.64 34.3 222.72 34.66 222.79 34.92 222.87 34.71 222.95 34.92 223.02 35.28 223.1 35.38 223.18 35.13 223.25 34.44 223.33 34.9 223.4 35.54 223.48 35.27 223.56 35.05 223.63 34.48 223.71 34.6 223.79 35.21 223.86 34.5 223.94 34.09 224.01 34.36 224.09 34.64 224.17 35.07 224.24 34.85 224.32 34.7 224.39 34.47 224.47 34.12 224.55 34.61 224.62 35.23 224.7 35.45 224.78 35.6 224.85 35.28 224.93 34.01 225 33.83 225.08 35.31 225.16 35.2 225.23 33.71 225.31 33.95 225.39 35.17 225.46 35.6 225.54 35.5 225.61 34.91 225.69 34.51 225.77 35.05 225.84 35.46 225.92 35.24 225.99 34.91 226.07 34.42 226.15 34.11 226.22 34.83 226.3 35.14 226.38 34.21 226.45 34.19 226.53 34.75 226.6 34.59 226.68 35.07 226.76 35.52 226.83 34.8 226.91 34.69 226.99 35.09 227.06 34.89 227.14 34.79 227.21 34.74 227.29 34.44 227.37 34.56 227.44 34.83 227.52 34.76 227.59 34.67 227.67 34.96 227.75 35.1 227.82 33.83 227.9 33.73 227.98 35.31 228.05 35.4 228.13 35.1 228.2 34.74 228.28 34.63 228.36 35.44 228.43 35.67 228.51 35.38 228.59 34.53 228.66 34 228.74 34.31 228.81 34.64 228.89 34.9 228.97 34.91 229.04 34.88 229.12 34.86 229.2 34.9 229.27 35.39 229.35 35.49 229.42 34.37 229.5 34.24 229.58 35.29 229.65 34.65 229.73 33.99 229.8 34.9 229.88 35.18 229.96 34.75 230.03 34.43 230.11 34.26 230.19 34.43 230.26 34.37 230.34 34.66 230.41 35.36 230.49 35.36 230.57 35.56 230.64 35.7 230.72 34.55 230.8 33.8 230.87 34.67 230.95 34.89 231.02 34.75 231.1 35.37 231.18 34.73 231.25 34.08 231.33 34.57 231.41 34.73 231.48 35.15 231.56 35.28 231.63 34.4 231.71 34.31 231.79 34.7 231.86 34.6 231.94 35.16 232.01 35.36 232.09 35.03 232.17 35.6 232.24 34.89 232.32 33.77 232.4 34.68 232.47 34.73 232.55 34.59 232.62 35.49 232.7 35.06 232.78 34.77 232.85 35.05 232.93 34.46 233.01 34.34 233.08 34.84 233.16 34.69 233.23 33.95 233.31 34.22 233.39 35.4 233.46 35.34 233.54 34.83 233.61 34.98 233.69 34.97 233.77 34.89 233.84 35.07 233.92 35.31 234 35.01 234.07 34.35 234.15 34.25 234.22 34.55 234.3 34.97 234.38 34.92 234.45 34.31 234.53 34.64 234.61 35.17 234.68 34.87 234.76 34.54 234.83 34.64 234.91 35.04 234.99 34.84 235.06 34.65 235.14 34.89 235.22 34.88 235.29 34.83 235.37 34.8 235.44 35.18 235.52 35.15 235.6 34.42 235.67 34.57 235.75 34.92 235.82 34.91 235.9 34.9 235.98 34.53 236.05 34.46 236.13 34.68 236.21 34.82 236.28 34.89 236.36 34.93 236.43 35.07 236.51 34.67 236.59 34.42 236.66 34.8 236.74 34.68 236.82 34.41 236.89 34.77 236.97 35.2 237.04 35.2 237.12 35.34 237.2 35.3 237.27 34.92 237.35 35.05 237.42 34.7 237.5 34.4 237.58 35.01 237.65 34.47 237.73 34.26 237.81 35.18 237.88 34.38 237.96 34.18 238.03 35.3 238.11 34.8 238.19 34.51 238.26 34.75 238.34 34.31 238.42 34.7 238.49 35.32 238.57 35.14 238.64 34.8 238.72 34.91 238.8 35.31 238.87 34.99 238.95 34.34 239.03 34.06 239.1 34.27 239.18 34.48 239.25 34.41 239.33 35.03 239.41 35.5 239.48 35.68 239.56 35.59 239.63 35.09 239.71 35.19 239.79 34.88 239.86 34.58 239.94 34.91 240.02 34.58 240.09 34.17 240.17 34.44 240.24 34.78 240.32 34.82 240.4 34.61 240.47 34.28 240.55 34.16 240.63 34.48 240.7 34.98 240.78 35.22 240.85 35.44 240.93 35.65 241.01 35.31 241.08 34.61 241.16 34.05 241.23 34.08 241.31 34.12 241.39 34.45 241.46 35.16 241.54 34.72 241.62 34.56 241.69 35.12 241.77 35.17 241.84 35.21 241.92 35.15 242 35.36 242.07 35.57 242.15 35.15 242.23 34.78 242.3 34.73 242.38 34.79 242.45 34.72 242.53 34.61 242.61 34.5 242.68 34.31 242.76 34.24 242.84 34.28 242.91 34.22 242.99 34.35 243.06 34.88 243.14 35.31 243.22 34.97 243.29 34.7 243.37 35.15 243.44 35.32 243.52 35.23 243.6 34.86 243.67 34.37 243.75 34.59 243.83 34.76 243.9 34.61 243.98 34.5 244.05 34.6 244.13 35.16 244.21 35.27 244.28 35.01 244.36 35.17 244.44 35.35 244.51 35.48 244.59 35.03 244.66 34.14 244.74 34.06 244.82 34.39 244.89 34.45 244.97 34.59 245.04 35.12 245.12 35.42 245.2 34.99 245.27 34.61 245.35 34.42 245.43 34.74 245.5 35.05 245.58 34.28 245.65 34.05 245.73 34.76 245.81 34.88 245.88 34.85 245.96 35.37 246.04 35.37 246.11 34.74 246.19 34.82 246.26 35.21 246.34 35.03 246.42 34.88 246.49 34.53 246.57 34.3 246.65 34.4 246.72 34.21 246.8 34.46 246.87 34.98 246.95 35.1 247.03 34.66 247.1 34.37 247.18 34.87 247.25 35.16 247.33 35.24 247.41 35.36 247.48 35.27 247.56 35.13 247.64 34.96 247.71 34.7 247.79 34.57 247.86 34.9 247.94 35.1 248.02 34.6 248.09 34.14 248.17 34.43 248.25 35.1 248.32 35.14 248.4 34.48 248.47 34.18 248.55 34.56 248.63 34.93 248.7 34.94 248.78 34.7 248.85 34.65 248.93 34.92 249.01 34.84 249.08 34.85 249.16 35.05 249.24 34.84 249.31 34.81 249.39 34.89 249.46 35 249.54 35.06 249.62 34.81 249.69 34.75 249.77 34.64 249.85 34.43 249.92 34.53 250 34.67 250.07 34.72 250.15 34.76 250.23 34.72 250.3 34.78 250.38 35.01 250.46 35.2 250.53 35.24 250.61 35.15 250.68 34.85 250.76 34.6 250.84 34.53 250.91 34.49 250.99 34.73 251.06 34.9 251.14 34.86 251.22 34.56 251.29 34.43 251.37 34.92 251.45 34.82 251.52 34.44 251.6 34.6 251.67 34.95 251.75 35.27 251.83 35.27 251.9 35.16 251.98 35.06 252.06 35.18 252.13 35.23 252.21 34.91 252.28 34.66 252.36 34.42 252.44 34.33 252.51 34.38 252.59 34.41 252.66 34.31 252.74 34.37 252.82 34.71 252.89 34.72 252.97 35.16 253.05 35.41 253.12 34.76 253.2 34.69 253.27 34.95 253.35 35.08 253.43 34.96 253.5 34.67 253.58 35 253.66 34.93 253.73 34.3 253.81 34.72 253.88 35.35 253.96 34.51 254.04 33.87 254.11 34.82 254.19 35.42 254.27 34.91 254.34 34.84 254.42 35.4 254.49 34.83 254.57 34.03 254.65 34.93 254.72 35.46 254.8 34.68 254.87 34.5 254.95 35.05 255.03 34.93 255.1 34.41 255.18 34.7 255.26 34.94 255.33 34.59 255.41 34.67 255.48 35.06 255.56 34.84 255.64 34.48 255.71 34.73 255.79 34.99 255.87 35.06 255.94 34.93 256.02 34.44 256.09 34.55 256.17 34.85 256.25 34.64 256.32 34.82 256.4 34.94 256.47 34.82 256.55 34.89 256.63 34.92 256.7 34.92 256.78 34.74 256.86 34.87 256.93 35.06 257.01 34.9 257.08 34.98 257.16 34.76 257.24 34.35 257.31 34.51 257.39 34.64 257.47 34.61 257.54 34.61 257.62 34.68 257.69 34.83 257.77 34.8 257.85 34.9 257.92 35.14 258 35.35 258.08 35.18 258.15 34.51 258.23 34.2 258.3 34.43 258.38 35.01 258.46 35.27 258.53 35.09 258.61 35.24 258.68 35.19 258.76 34.7 258.84 34.31 258.91 34.27 258.99 34.6 259.07 34.92 259.14 35.03 259.22 34.76 259.29 34.56 259.37 34.78 259.45 34.49 259.52 34.29 259.6 34.88 259.68 35.41 259.75 35.59 259.83 35.05 259.9 34.37 259.98 34.62 260.06 35.05 260.13 34.94 260.21 34.44 260.28 34.34 260.36 34.7 260.44 34.82 260.51 34.91 260.59 34.83 260.67 34.65 260.74 34.72 260.82 34.84 260.89 34.94 260.97 34.94 261.05 34.82 261.12 34.85 261.2 35 261.28 34.77 261.35 34.63 261.43 34.86 261.5 34.9 261.58 34.84 261.66 34.68 261.73 34.62 261.81 34.97 261.88 35.15 261.96 34.6 262.04 34.41 262.11 34.96 262.19 34.85 262.27 34.46 262.34 34.67 262.42 34.96 262.49 34.78 262.57 34.58 262.65 35.01 262.72 35.29 262.8 35.05 262.88 34.78 262.95 34.36 263.03 34.44 263.1 35.22 263.18 35.4 263.26 34.67 263.33 34.26 263.41 34.68 263.49 34.86 263.56 34.88 263.64 34.88 263.71 34.43 263.79 34.9 263.87 35.27 263.94 34.74 264.02 34.82 264.09 34.89 264.17 34.64 264.25 34.58 264.32 34.74 264.4 34.99 264.48 34.91 264.55 34.5 264.63 34.45 264.7 34.82 264.78 34.7 264.86 34.51 264.93 34.82 265.01 35.18 265.09 35.03 265.16 34.77 265.24 34.71 265.31 34.71 265.39 35.14 265.47 35.54 265.54 35.08 265.62 34.48 265.7 34.92 265.77 35.45 265.85 34.85 265.92 34.29 266 34.39 266.08 34.44 266.15 34.26 266.23 34.52 266.3 35.21 266.38 35.33 266.46 34.79 266.53 34.39 266.61 34.31 266.69 34.41 266.76 34.71 266.84 35.2 266.91 35.42 266.99 35.32 267.07 34.96 267.14 34.47 267.22 34.32 267.3 34.24 267.37 34.21 267.45 34.48 267.52 34.77" fill="none" stroke="#000" stroke-width="0.62" stroke-linejoin="round"/>
<rect x="39" y="4.3" width="228.6" height="61" fill="none" stroke="#222" stroke-width="0.75"/>
<line x1="39" x2="39" y1="65.3" y2="68" stroke="#222" stroke-width="0.7"/>
<text x="39" y="76.7" font-size="7.6" text-anchor="middle">0</text>
<line x1="77.1" x2="77.1" y1="65.3" y2="68" stroke="#222" stroke-width="0.7"/>
<text x="77.1" y="76.7" font-size="7.6" text-anchor="middle">5</text>
<line x1="115.2" x2="115.2" y1="65.3" y2="68" stroke="#222" stroke-width="0.7"/>
<text x="115.2" y="76.7" font-size="7.6" text-anchor="middle">10</text>
<line x1="153.3" x2="153.3" y1="65.3" y2="68" stroke="#222" stroke-width="0.7"/>
<text x="153.3" y="76.7" font-size="7.6" text-anchor="middle">15</text>
<line x1="191.4" x2="191.4" y1="65.3" y2="68" stroke="#222" stroke-width="0.7"/>
<text x="191.4" y="76.7" font-size="7.6" text-anchor="middle">20</text>
<line x1="229.5" x2="229.5" y1="65.3" y2="68" stroke="#222" stroke-width="0.7"/>
<text x="229.5" y="76.7" font-size="7.6" text-anchor="middle">25</text>
<line x1="267.6" x2="267.6" y1="65.3" y2="68" stroke="#222" stroke-width="0.7"/>
<text x="267.6" y="76.7" font-size="7.6" text-anchor="middle">30</text>
<line x1="36.3" x2="39" y1="14.35" y2="14.35" stroke="#222" stroke-width="0.7"/>
<text x="32.8" y="17.05" font-size="7.6" text-anchor="end">10</text>
<line x1="36.3" x2="39" y1="34.8" y2="34.8" stroke="#222" stroke-width="0.7"/>
<text x="32.8" y="37.5" font-size="7.6" text-anchor="end">0</text>
<line x1="36.3" x2="39" y1="55.25" y2="55.25" stroke="#222" stroke-width="0.7"/>
<text x="32.8" y="57.95" font-size="7.6" text-anchor="end">−10</text>
<rect x="47.2" y="8.3" width="15" height="11.4" rx="1.9" fill="#fff" stroke="#111" stroke-width="0.9"/>
<text x="54.7" y="16.3" font-size="6.7" font-weight="bold" stroke-width="0.1" text-anchor="middle">(a)</text>
<rect x="193.7" y="6.9" width="70.7" height="13.3" rx="1.5" fill="#fff" fill-opacity="0.85" stroke="#333" stroke-width="0.75"/>
<line x1="197" x2="209.4" y1="13.55" y2="13.55" stroke="#222" stroke-width="0.5"/>
<text x="261.4" y="15.89" font-size="6.5" stroke-width="0.12" text-anchor="end">Original signal</text>
<clipPath id="cl1"><rect x="39" y="78" width="228.6" height="62"/></clipPath>
<path clip-path="url(#cl1)" d="M39 109 39.08 109 39.15 109 39.23 109 39.3 109 39.38 109 39.46 109 39.53 109 39.61 109 39.69 109 39.76 109 39.84 109 39.91 109 39.99 109 40.07 109 40.14 109 40.22 109.01 40.3 109.01 40.37 108.99 40.45 108.99 40.52 109.01 40.6 109.01 40.68 108.99 40.75 109 40.83 109.01 40.91 109 40.98 108.97 41.06 108.97 41.13 109.06 41.21 109.07 41.29 108.98 41.36 108.99 41.44 109.05 41.51 108.98 41.59 108.91 41.67 108.96 41.74 109 41.82 108.99 41.9 109.03 41.97 109 42.05 108.98 42.12 109.09 42.2 109.03 42.28 108.91 42.35 109.05 42.43 109.05 42.51 108.8 42.58 108.83 42.66 109.07 42.73 109.07 42.81 108.95 42.89 108.99 42.96 109.03 43.04 109.1 43.11 109.14 43.19 109.07 43.27 109.09 43.34 109.09 43.42 108.96 43.5 108.9 43.57 108.84 43.65 108.85 43.72 109.02 43.8 109.06 43.88 109.02 43.95 109.02 44.03 108.98 44.11 108.95 44.18 108.93 44.26 108.96 44.33 109.1 44.41 109.2 44.49 109.12 44.56 108.98 44.64 109.06 44.72 109.23 44.79 109.34 44.87 109.03 44.94 109.03 45.02 109.6 45.1 109.04 45.17 108.67 45.25 109.25 45.32 109.52 45.4 109.13 45.48 108.98 45.55 109.77 45.63 109.33 45.71 109.03 45.78 109.51 45.86 109.26 45.93 108.99 46.01 108.74 46.09 109.43 46.16 109.26 46.24 108.51 46.32 109.7 46.39 109.81 46.47 108.76 46.54 108.98 46.62 109.45 46.7 109.23 46.77 108.97 46.85 109.11 46.92 109.16 47 109.25 47.08 109.25 47.15 108.85 47.23 108.33 47.31 109.07 47.38 109.71 47.46 108.11 47.53 108.24 47.61 110.05 47.69 110.02 47.76 107.87 47.84 108.19 47.92 110.26 47.99 108.97 48.07 108.51 48.14 109.53 48.22 109.42 48.3 107.42 48.37 108.2 48.45 109.84 48.52 107.7 48.6 107.9 48.68 109.32 48.75 109.08 48.83 107.21 48.91 108.52 48.98 109.77 49.06 107.99 49.13 108.54 49.21 108.78 49.29 109.55 49.36 108.88 49.44 107.3 49.52 108.1 49.59 110.17 49.67 109.8 49.74 106.62 49.82 109.12 49.9 111.44 49.97 107.36 50.05 105.91 50.13 110.24 50.2 110.23 50.28 105.15 50.35 108.1 50.43 112.16 50.51 107.08 50.58 105.23 50.66 110.36 50.73 109.23 50.81 105.45 50.89 108.92 50.96 110.26 51.04 106.06 51.12 107.64 51.19 111.93 51.27 107.75 51.34 105.5 51.42 109.71 51.5 110.43 51.57 106.96 51.65 108.66 51.73 111.14 51.8 106.86 51.88 108.34 51.95 110.41 52.03 108.25 52.11 106.72 52.18 109.21 52.26 111.33 52.34 106.31 52.41 108.6 52.49 111.95 52.56 107.92 52.64 107.38 52.72 111.11 52.79 111.44 52.87 107.77 52.94 107.37 53.02 110.93 53.1 109.53 53.17 107.3 53.25 110.74 53.33 110.67 53.4 109.4 53.48 108.02 53.55 109.29 53.63 110.88 53.71 108.53 53.78 109.37 53.86 110.53 53.94 110.17 54.01 108.46 54.09 109.02 54.16 110.53 54.24 110.39 54.32 108.97 54.39 109.64 54.47 111.07 54.54 109.4 54.62 110.44 54.7 110.02 54.77 109.48 54.85 109.71 54.93 109.77 55 111.01 55.08 109.12 55.15 108.97 55.23 111.71 55.31 110.43 55.38 107.35 55.46 108.89 55.54 111.66 55.61 109.71 55.69 106.48 55.76 109.69 55.84 111.83 55.92 107.62 55.99 106.64 56.07 110.68 56.14 111.73 56.22 107.52 56.3 106.19 56.37 109.32 56.45 110.47 56.53 107.77 56.6 108.02 56.68 109.79 56.75 108.57 56.83 107.84 56.91 107.44 56.98 108.4 57.06 108.87 57.14 107.92 57.21 107.1 57.29 106.81 57.36 108.27 57.44 108.29 57.52 107.25 57.59 107.04 57.67 108.82 57.75 108.48 57.82 103.87 57.9 105.69 57.97 110.31 58.05 106.95 58.13 103.72 58.2 108.15 58.28 109.8 58.35 105.07 58.43 104.07 58.51 107.88 58.58 108.47 58.66 105.63 58.74 104.84 58.81 105.25 58.89 107.22 58.96 106.67 59.04 103.77 59.12 104.96 59.19 108.64 59.27 107.57 59.35 102.93 59.42 105.62 59.5 108.91 59.57 106.54 59.65 104.02 59.73 107.13 59.8 109.62 59.88 103.91 59.95 104.77 60.03 109.1 60.11 106.39 60.18 104.63 60.26 106.98 60.34 108.18 60.41 105.22 60.49 105.13 60.56 107.77 60.64 106.76 60.72 105.14 60.79 105.72 60.87 107.35 60.95 107.14 61.02 105.21 61.1 107.07 61.17 108.25 61.25 106.95 61.33 106.39 61.4 106.46 61.48 109.08 61.56 107.75 61.63 105.81 61.71 107.24 61.78 108.92 61.86 110.02 61.94 107.9 62.01 106.27 62.09 108.29 62.16 111 62.24 107.89 62.32 105.32 62.39 110.51 62.47 112.75 62.55 106.15 62.62 106.16 62.7 112.81 62.77 110.58 62.85 107.19 62.93 108.91 63 112.21 63.08 110.96 63.16 106.88 63.23 108.7 63.31 112.86 63.38 111 63.46 106.46 63.54 110.25 63.61 113.58 63.69 109.6 63.77 107.75 63.84 111.54 63.92 113.3 63.99 109.58 64.07 108.03 64.15 111.43 64.22 113.06 64.3 109.12 64.37 109.7 64.45 112.64 64.53 111.86 64.6 110.47 64.68 109.59 64.76 111.95 64.83 112.57 64.91 111.76 64.98 111.65 65.06 111.4 65.14 112.24 65.21 111.43 65.29 110.93 65.37 111.43 65.44 111.72 65.52 112.55 65.59 111.54 65.67 111.44 65.75 112.65 65.82 111.36 65.9 110.49 65.97 111.68 66.05 113.49 66.13 111.26 66.2 108.83 66.28 112.36 66.36 113.51 66.43 109.58 66.51 109.49 66.58 112.59 66.66 112.89 66.74 110.08 66.81 109.13 66.89 112.78 66.97 111.83 67.04 108.18 67.12 109.6 67.19 112.29 67.27 110.64 67.35 108.67 67.42 110.64 67.5 111.61 67.58 110.06 67.65 107.98 67.73 110.85 67.8 112.44 67.88 108.83 67.96 108.76 68.03 110.13 68.11 109.18 68.18 109.16 68.26 110.49 68.34 109.94 68.41 109.02 68.49 108.93 68.57 109.59 68.64 109.32 68.72 108.34 68.79 109.43 68.87 108.84 68.95 107.86 69.02 109.03 69.1 108.54 69.18 108.47 69.25 109.47 69.33 108.34 69.4 108.6 69.48 110.82 69.56 109.08 69.63 106.98 69.71 109.29 69.78 109.66 69.86 106.04 69.94 107.68 70.01 111.94 70.09 107.81 70.17 105.71 70.24 109.75 70.32 109.7 70.39 106.28 70.47 108.06 70.55 112.69 70.62 107.02 70.7 104.09 70.78 111.32 70.85 109.92 70.93 105.95 71 109 71.08 110.34 71.16 107.03 71.23 104.91 71.31 109.31 71.39 109.03 71.46 105.54 71.54 109.49 71.61 109.11 71.69 106.11 71.77 108.33 71.84 109.71 71.92 106.48 71.99 105.95 72.07 110.86 72.15 108.1 72.22 105.52 72.3 110.72 72.38 109.11 72.45 105.1 72.53 107.83 72.6 110.08 72.68 106.73 72.76 106.54 72.83 110.3 72.91 108.12 72.99 105.76 73.06 109.17 73.14 110.01 73.21 106.45 73.29 107.88 73.37 109.79 73.44 107.22 73.52 107.92 73.59 109.77 73.67 107.96 73.75 106.81 73.82 108.43 73.9 109.33 73.98 109.43 74.05 107.49 74.13 107.01 74.2 109.77 74.28 109.35 74.36 108.05 74.43 107.68 74.51 109.89 74.59 110.8 74.66 106.92 74.74 108.15 74.81 111.5 74.89 109.88 74.97 106.32 75.04 107.49 75.12 112.14 75.19 109.46 75.27 106.23 75.35 109.79 75.42 111.67 75.5 109.24 75.58 107.77 75.65 109.64 75.73 109.94 75.8 108.23 75.88 108.66 75.96 110.51 76.03 109.57 76.11 107.14 76.19 109.23 76.26 111.61 76.34 109.4 76.41 109.49 76.49 110.62 76.57 108.73 76.64 108.74 76.72 109.09 76.8 109.31 76.87 109.74 76.95 109.25 77.02 109.36 77.1 109.96 77.18 109.89 77.25 109.04 77.33 109.36 77.4 110.91 77.48 110.61 77.56 107.35 77.63 109.39 77.71 112.75 77.79 108.44 77.86 105.68 77.94 111.7 78.01 113.87 78.09 106.14 78.17 107.09 78.24 113.58 78.32 110.72 78.4 106.23 78.47 109.54 78.55 113.18 78.62 109.04 78.7 106.9 78.78 109.37 78.85 110.38 78.93 110.07 79 109.55 79.08 108.9 79.16 110.53 79.23 111.67 79.31 108.64 79.39 107.96 79.46 111.61 79.54 112.33 79.61 107.2 79.69 107.31 79.77 112.27 79.84 110.72 79.92 106.73 80 108.06 80.07 111.94 80.15 109.91 80.22 107.16 80.3 109.93 80.38 111.01 80.45 108.51 80.53 107.82 80.61 108.23 80.68 110.09 80.76 110.73 80.83 107.02 80.91 107.49 80.99 110.75 81.06 109.94 81.14 107.68 81.21 108.17 81.29 108.44 81.37 108.56 81.44 108.08 81.52 106.86 81.6 109.01 81.67 109.36 81.75 107.96 81.82 106.87 81.9 108 81.98 109.07 82.05 107.53 82.13 107.06 82.21 107.18 82.28 108.68 82.36 107.37 82.43 105.71 82.51 108.36 82.59 108.5 82.66 105.38 82.74 106.08 82.81 110.09 82.89 107.76 82.97 105.07 83.04 107.38 83.12 108.11 83.2 106.6 83.27 104.49 83.35 108.04 83.42 108.53 83.5 104.93 83.58 106.18 83.65 107.4 83.73 108.41 83.81 106.62 83.88 105.86 83.96 107.59 84.03 108.33 84.11 105.94 84.19 104.68 84.26 109.25 84.34 108.61 84.42 103.75 84.49 105.04 84.57 109.61 84.64 106.97 84.72 103.77 84.8 107.6 84.87 110.78 84.95 106.09 85.02 103.54 85.1 109.82 85.18 108.97 85.25 104.96 85.33 107.55 85.41 110.51 85.48 107.21 85.56 104.12 85.63 108.89 85.71 110.28 85.79 105.5 85.86 106.49 85.94 110.47 86.02 107.53 86.09 105.66 86.17 109.56 86.24 110.01 86.32 106.54 86.4 107.21 86.47 109.95 86.55 108.18 86.62 106.49 86.7 110.04 86.78 111.55 86.85 108.32 86.93 107.3 87.01 109.77 87.08 111.28 87.16 107.49 87.23 107.37 87.31 111.39 87.39 111.41 87.46 109.95 87.54 108.81 87.62 111.1 87.69 112.37 87.77 108.75 87.84 108.6 87.92 112.91 88 111.82 88.07 107.9 88.15 109.62 88.23 113.46 88.3 111.34 88.38 108.17 88.45 112.66 88.53 112.71 88.61 108.46 88.68 111.63 88.76 113.93 88.83 109.63 88.91 110.2 88.99 115.53 89.06 111.98 89.14 107.47 89.22 113.26 89.29 116.2 89.37 109.19 89.44 108.1 89.52 114.74 89.6 114.17 89.67 108.5 89.75 110.38 89.83 115.06 89.9 112.59 89.98 108.49 90.05 109.04 90.13 112.96 90.21 112.6 90.28 109.09 90.36 108.92 90.44 112.09 90.51 114.39 90.59 110.16 90.66 108.65 90.74 113.05 90.82 113.84 90.89 108.45 90.97 106.84 91.04 114.67 91.12 114.14 91.2 105.69 91.27 106.9 91.35 112.46 91.43 111.77 91.5 106.32 91.58 107.55 91.65 113.33 91.73 110.29 91.81 106.95 91.88 110.27 91.96 112.31 92.04 109.23 92.11 106.74 92.19 109.64 92.26 111.25 92.34 109.16 92.42 107.23 92.49 108.73 92.57 109.83 92.64 108.71 92.72 109.45 92.8 108.41 92.87 107.89 92.95 109.78 93.03 109.85 93.1 107.93 93.18 107.2 93.25 110.03 93.33 109.21 93.41 106.02 93.48 108.8 93.56 111.16 93.64 107.36 93.71 106.46 93.79 109.62 93.86 109.52 93.94 108.55 94.02 109.03 94.09 109.12 94.17 108.06 94.25 108.69 94.32 108.21 94.4 107.47 94.47 109.74 94.55 108.1 94.63 106.19 94.7 108.65 94.78 109.96 94.85 107.28 94.93 106.6 95.01 110.56 95.08 109.37 95.16 106.92 95.24 110.02 95.31 110.05 95.39 106.32 95.46 107.34 95.54 109.67 95.62 106.85 95.69 106.75 95.77 110.01 95.85 110.08 95.92 107.66 96 108.02 96.07 109.92 96.15 108.06 96.23 107.52 96.3 108.78 96.38 108.54 96.45 107.9 96.53 107.94 96.61 107.19 96.68 107.48 96.76 108.84 96.84 109.29 96.91 108.66 96.99 106.75 97.06 109.2 97.14 109.65 97.22 106.82 97.29 108.2 97.37 110.2 97.45 108.89 97.52 107.03 97.6 108.26 97.67 109.03 97.75 108.64 97.83 106.12 97.9 106.62 97.98 110.78 98.06 108.57 98.13 105.58 98.21 107.86 98.28 111.22 98.36 109.42 98.44 105.87 98.51 109.04 98.59 111.2 98.66 107.1 98.74 105.92 98.82 110.51 98.89 111.44 98.97 106.61 99.05 107.27 99.12 111.37 99.2 109.43 99.27 106.96 99.35 108.78 99.43 110.04 99.5 109.36 99.58 109.14 99.66 109.22 99.73 109.82 99.81 110.76 99.88 109.83 99.96 102.51 100.04 94.39 100.11 99.44 100.19 109.57 100.26 112.5 100.34 113.77 100.42 115.55 100.49 113.1 100.57 111.41 100.65 117.18 100.72 116.67 100.8 105.49 100.87 102.75 100.95 107.9 101.03 109.45 101.1 109.1 101.18 105.16 101.26 103.68 101.33 111.76 101.41 119.03 101.48 110.8 101.56 102.67 101.64 110.78 101.71 106.9 101.79 102.25 101.87 110.96 101.94 111.74 102.02 112.8 102.09 114.73 102.17 112.31 102.25 113.56 102.32 113.14 102.4 106.31 102.47 105.71 102.55 111.11 102.63 116.83 102.7 113.56 102.78 107.96 102.86 110.58 102.93 102.91 103.01 101.72 103.08 110.41 103.16 111.85 103.24 112.92 103.31 111.54 103.39 108.12 103.47 105.31 103.54 113.49 103.62 114.4 103.69 101.64 103.77 110.75 103.85 113.74 103.92 109.44 104 115.32 104.07 110.96 104.15 115.74 104.23 114.18 104.3 109.66 104.38 112.41 104.46 100.19 104.53 99.98 104.61 108.35 104.68 110.44 104.76 113.87 104.84 113.98 104.91 109.71 104.99 106.21 105.07 105.6 105.14 106.15 105.22 107.63 105.29 115.49 105.37 115.77 105.45 102.66 105.52 110.12 105.6 114.05 105.68 107.49 105.75 113.16 105.83 109.85 105.9 106.76 105.98 109.1 106.06 111.54 106.13 111.28 106.21 106.22 106.28 104.91 106.36 113.35 106.44 114.58 106.51 104.3 106.59 105.88 106.67 111.64 106.74 109.03 106.82 103.93 106.89 112.89 106.97 118.22 107.05 110.31 107.12 110.99 107.2 107.62 107.28 103.62 107.35 110.75 107.43 111.2 107.5 106.26 107.58 107.35 107.66 105.78 107.73 108.59 107.81 112.47 107.88 106.99 107.96 111.67 108.04 114.74 108.11 106.49 108.19 106.14 108.27 109.65 108.34 111.43 108.42 109.15 108.49 104.92 108.57 103.01 108.65 105.65 108.72 111.35 108.8 111.22 108.88 109.91 108.95 106.45 109.03 107.01 109.1 112.29 109.18 111.51 109.26 108.83 109.33 105.4 109.41 109.35 109.49 114.39 109.56 107.07 109.64 102.41 109.71 106.82 109.79 106.98 109.87 103.04 109.94 103.26 110.02 108.35 110.09 111.64 110.17 106.87 110.25 107.36 110.32 112.03 110.4 109.03 110.48 109.77 110.55 108.88 110.63 106.69 110.7 110.74 110.78 108.67 110.86 105.63 110.93 107.02 111.01 107.81 111.09 109.95 111.16 114.09 111.24 112.07 111.31 103.98 111.39 100.35 111.47 104.24 111.54 108.82 111.62 111.24 111.69 112.49 111.77 106.89 111.85 103.82 111.92 105.15 112 107.54 112.08 111.5 112.15 109.02 112.23 107.43 112.3 109.05 112.38 109.83 112.46 109.85 112.53 107.92 112.61 106.82 112.69 111.73 112.76 112.44 112.84 104.31 112.91 103.26 112.99 107.16 113.07 108.64 113.14 105.86 113.22 106.43 113.3 113.14 113.37 110.48 113.45 104.29 113.52 106.83 113.6 112.04 113.68 112.4 113.75 107.74 113.83 106.2 113.9 107.13 113.98 103.66 114.06 103.97 114.13 111.25 114.21 115.98 114.29 110.68 114.36 109.21 114.44 111.97 114.51 105.13 114.59 105.37 114.67 106.83 114.74 103.53 114.82 108.95 114.9 104.19 114.97 102.13 115.05 119.48 115.12 91.91 115.2 78 115.28 132.74 115.35 128.1 115.43 84.11 115.5 111.61 115.58 126.32 115.66 110.5 115.73 107.84 115.81 113.2 115.89 110.67 115.96 99.69 116.04 100.56 116.11 105.95 116.19 115.23 116.27 113.71 116.34 104.82 116.42 119.61 116.5 118.47 116.57 100.51 116.65 101.31 116.72 107.37 116.8 107.46 116.88 103.14 116.95 107.9 117.03 117.03 117.11 110.13 117.18 105.61 117.26 112.66 117.33 112.82 117.41 111.1 117.49 109.87 117.56 110.43 117.64 106.14 117.71 101.17 117.79 108.69 117.87 110.45 117.94 112.51 118.02 110.41 118.1 102.86 118.17 119.31 118.25 125.63 118.32 105.3 118.4 99.53 118.48 103.33 118.55 103.76 118.63 102.8 118.71 102.3 118.78 105.3 118.86 109.53 118.93 108.23 119.01 99 119.09 107.05 119.16 121.25 119.24 122.3 119.31 115.83 119.39 102.18 119.47 102.59 119.54 111.65 119.62 106.2 119.7 98.03 119.77 108.32 119.85 111.62 119.92 102.1 120 112.01 120.08 112.64 120.15 102.36 120.23 106.23 120.31 105.22 120.38 105.75 120.46 115.65 120.53 109.63 120.61 99.67 120.69 106.39 120.76 112.08 120.84 109.81 120.92 107.06 120.99 110.88 121.07 107.79 121.14 105.22 121.22 112.54 121.3 107.84 121.37 105.45 121.45 110.53 121.52 112.59 121.6 106.99 121.68 96.35 121.75 109.26 121.83 120.71 121.91 108.93 121.98 107.19 122.06 107.93 122.13 110.18 122.21 105.39 122.29 94.95 122.36 105.9 122.44 110.82 122.52 113.27 122.59 119.87 122.67 117.09 122.74 108.31 122.82 106.85 122.9 113.68 122.97 108.02 123.05 107.11 123.12 111.78 123.2 108.79 123.28 105.66 123.35 107.33 123.43 106.2 123.51 110.93 123.58 118.73 123.66 103.86 123.73 109.28 123.81 116.79 123.89 104.49 123.96 119.02 124.04 116.25 124.12 104.09 124.19 108.19 124.27 102.64 124.34 113.14 124.42 120.52 124.5 108.65 124.57 100.85 124.65 108.19 124.73 123.56 124.8 114.48 124.88 106.02 124.95 116.4 125.03 119.59 125.11 116.23 125.18 107.81 125.26 105.38 125.33 109.11 125.41 109.88 125.49 108.89 125.56 107.79 125.64 112 125.72 110.48 125.79 107.75 125.87 107.61 125.94 107.44 126.02 110.72 126.1 107.53 126.17 108.33 126.25 116.3 126.33 115.87 126.4 108.08 126.48 108.59 126.55 115.19 126.63 111.01 126.71 106.83 126.78 109.9 126.86 112.1 126.93 112.93 127.01 110.39 127.09 105.35 127.16 105.6 127.24 108.89 127.32 101.9 127.39 105.64 127.47 115.17 127.54 102.8 127.62 104.09 127.7 107.6 127.77 106.57 127.85 113.89 127.93 108.32 128 112.56 128.08 116.95 128.15 115.53 128.23 111.29 128.31 103.93 128.38 110.46 128.46 107.21 128.54 98.98 128.61 101.25 128.69 104.11 128.76 103.36 128.84 104.1 128.92 111.38 128.99 113.7 129.07 111.46 129.14 113.24 129.22 114.8 129.3 112.91 129.37 105.58 129.45 106.1 129.53 110.14 129.6 103.38 129.68 108.37 129.75 111.1 129.83 104.25 129.91 113.31 129.98 113.83 130.06 100.54 130.14 105.05 130.21 114.66 130.29 111.71 130.36 111.62 130.44 114.26 130.52 110.92 130.59 105.68 130.67 105.15 130.74 108.48 130.82 106.19 130.9 106.44 130.97 114.62 131.05 112.05 131.13 106.87 131.2 111.36 131.28 112.34 131.35 110.43 131.43 113.02 131.51 114.59 131.58 108.46 131.66 106.75 131.74 109.9 131.81 107.91 131.89 107.18 131.96 109.61 132.04 112.24 132.12 107.73 132.19 106.28 132.27 115.82 132.35 115.5 132.42 108.45 132.5 109.17 132.57 111.86 132.65 109.28 132.73 105.91 132.8 110.55 132.88 111.53 132.95 103.92 133.03 103.38 133.11 109.46 133.18 109.37 133.26 105.9 133.34 113.47 133.41 114.77 133.49 106.09 133.56 113.48 133.64 114.07 133.72 106.23 133.79 112.56 133.87 108.98 133.95 104.36 134.02 111.15 134.1 110.98 134.17 110.86 134.25 107.33 134.33 102.03 134.4 108.47 134.48 111.13 134.55 107.7 134.63 116.69 134.71 120.59 134.78 106.81 134.86 102.49 134.94 104.01 135.01 102.48 135.09 107.66 135.16 110.54 135.24 108.26 135.32 107.86 135.39 108.22 135.47 106.35 135.55 105.24 135.62 108.75 135.7 112.66 135.77 109.17 135.85 108.01 135.93 114.51 136 111.72 136.08 103.5 136.16 105.17 136.23 110.15 136.31 104.91 136.38 101.8 136.46 110.07 136.54 112.44 136.61 109.75 136.69 108.61 136.76 106.6 136.84 106.96 136.92 109.66 136.99 107.78 137.07 108.59 137.15 111.84 137.22 108.84 137.3 107.8 137.37 108.77 137.45 112.51 137.53 110.8 137.6 107.61 137.68 110.6 137.76 108.92 137.83 107.36 137.91 105.91 137.98 109.45 138.06 112.12 138.14 105.24 138.21 103.11 138.29 108.63 138.36 111.96 138.44 107.56 138.52 104.32 138.59 107.02 138.67 107.68 138.75 107.44 138.82 113.51 138.9 113.05 138.97 105.8 139.05 110.2 139.13 112.24 139.2 108.05 139.28 113.51 139.36 115.22 139.43 109.61 139.51 109.28 139.58 108.03 139.66 107.08 139.74 104.63 139.81 102.68 139.89 113.51 139.97 114.12 140.04 106.64 140.12 110.57 140.19 111.04 140.27 108.87 140.35 108.3 140.42 108.71 140.5 111.62 140.57 110.48 140.65 107.71 140.73 109.27 140.8 110.3 140.88 110.89 140.96 111.88 141.03 108.51 141.11 110.09 141.18 111.26 141.26 105.95 141.34 106.87 141.41 106.42 141.49 105.89 141.57 111.59 141.64 114.67 141.72 115.68 141.79 111.48 141.87 108.67 141.95 112.92 142.02 111.33 142.1 109.69 142.17 112.09 142.25 110.89 142.33 106.49 142.4 105.3 142.48 108.33 142.56 106.75 142.63 108.26 142.71 110.42 142.78 104.31 142.86 102.98 142.94 107.3 143.01 109.19 143.09 108.52 143.17 109.63 143.24 112.09 143.32 111.15 143.39 110.3 143.47 115 143.55 114.85 143.62 106.99 143.7 105.44 143.78 107.3 143.85 107.32 143.93 106.51 144 109.48 144.08 112.84 144.16 102.99 144.23 102.32 144.31 111.34 144.38 107.15 144.46 108.9 144.54 113.3 144.61 110.1 144.69 109.59 144.77 109.91 144.84 110.13 144.92 106.07 144.99 104.92 145.07 109.02 145.15 102.37 145.22 100.63 145.3 109.55 145.38 110.06 145.45 107.2 145.53 109.34 145.6 113.42 145.68 109.89 145.76 105.23 145.83 105.97 145.91 106.37 145.98 107.03 146.06 105.76 146.14 107.75 146.21 108.86 146.29 104.75 146.37 104.52 146.44 104.73 146.52 107.18 146.59 110.53 146.67 103.99 146.75 105.14 146.82 113.99 146.9 106.45 146.98 103.41 147.05 113.21 147.13 110.05 147.2 104.49 147.28 108.5 147.36 108.7 147.43 103.2 147.51 101.98 147.59 107.98 147.66 104.94 147.74 102.29 147.81 110.74 147.89 108.03 147.97 104.42 148.04 106.59 148.12 106.87 148.19 111.5 148.27 109.47 148.35 101.25 148.42 105.01 148.5 108.93 148.58 104.39 148.65 105.37 148.73 106.71 148.8 108.85 148.88 113.49 148.96 109.34 149.03 104.4 149.11 108.92 149.19 109.26 149.26 102.9 149.34 106.64 149.41 109.98 149.49 105.89 149.57 105.95 149.64 106.89 149.72 108.52 149.79 107.68 149.87 108.51 149.95 115.49 150.02 113.82 150.1 108.39 150.18 108.21 150.25 107.68 150.33 104.86 150.4 107.07 150.48 110.33 150.56 108.82 150.63 107.4 150.71 109.64 150.79 110.35 150.86 105.5 150.94 111.91 151.01 114.47 151.09 109.09 151.17 111.28 151.24 109.51 151.32 105.27 151.4 105.17 151.47 113.32 151.55 117.59 151.62 111.87 151.7 107.35 151.78 110.01 151.85 111.73 151.93 110.62 152 113.73 152.08 114.27 152.16 111.17 152.23 107.35 152.31 108.51 152.39 109.34 152.46 108.68 152.54 110.53 152.61 111.57 152.69 110.24 152.77 108.96 152.84 113.67 152.92 114.9 153 114.69 153.07 112.25 153.15 107.06 153.22 111.85 153.3 116.94 153.38 113.84 153.45 108.78 153.53 107.41 153.6 110.75 153.68 112.61 153.76 108.97 153.83 108.57 153.91 112.81 153.99 113.65 154.06 109.54 154.14 107.85 154.21 111.59 154.29 113.77 154.37 113.46 154.44 112.88 154.52 113.87 154.6 113.3 154.67 108.41 154.75 106.44 154.82 109.82 154.9 109.33 154.98 104.95 155.05 104.46 155.13 108.99 155.2 111.92 155.28 111.63 155.36 114.81 155.43 115.21 155.51 112 155.59 110.03 155.66 110.25 155.74 111.45 155.81 111 155.89 110.33 155.97 110.1 156.04 110.02 156.12 105 156.2 104.92 156.27 111.03 156.35 110.73 156.42 107.94 156.5 107.31 156.58 108.45 156.65 107.98 156.73 107.41 156.81 109.49 156.88 112.36 156.96 111.33 157.03 108.11 157.11 106.79 157.19 108.54 157.26 111.5 157.34 108.1 157.41 106.44 157.49 109.5 157.57 108.48 157.64 105.57 157.72 108.14 157.8 112.7 157.87 110.35 157.95 107.93 158.02 111.43 158.1 112.45 158.18 107.38 158.25 105.72 158.33 109.78 158.41 111.28 158.48 108.18 158.56 108.05 158.63 109.04 158.71 107.68 158.79 108.28 158.86 110.13 158.94 110.64 159.02 107.46 159.09 106.5 159.17 108.39 159.24 109.62 159.32 111.19 159.4 110.79 159.47 107.55 159.55 107.12 159.62 109.45 159.7 107.84 159.78 106.58 159.85 109.94 159.93 113.27 160.01 109.7 160.08 109.78 160.16 115.77 160.23 113.14 160.31 108.25 160.39 111.67 160.46 114.69 160.54 107.08 160.62 106.85 160.69 112.88 160.77 107.43 160.84 104.51 160.92 109.05 161 111.39 161.07 108.85 161.15 107.28 161.22 110.47 161.3 113.33 161.38 111.93 161.45 110.2 161.53 113.23 161.61 113.09 161.68 110.86 161.76 110.11 161.83 109.11 161.91 111.09 161.99 110.33 162.06 107.81 162.14 108 162.22 112.49 162.29 113.98 162.37 108.01 162.44 108.55 162.52 112.63 162.6 112.42 162.67 108.22 162.75 107.27 162.82 111.98 162.9 110.01 162.98 106.68 163.05 108.79 163.13 112.38 163.21 110.44 163.28 106.32 163.36 108.03 163.43 108.9 163.51 106.53 163.59 104.72 163.66 107.12 163.74 110.31 163.82 111.19 163.89 109.73 163.97 108.71 164.04 110.15 164.12 108.5 164.2 106.73 164.27 105.96 164.35 107.64 164.43 108.08 164.5 104.96 164.58 108.06 164.65 108.44 164.73 105.08 164.81 107.26 164.88 110.64 164.96 109.18 165.03 104.75 165.11 106.17 165.19 107.12 165.26 104.04 165.34 106.08 165.42 109.58 165.49 105.33 165.57 104.07 165.64 108.49 165.72 107.24 165.8 107.19 165.87 107.39 165.95 106.83 166.03 106.2 166.1 104.39 166.18 106.64 166.25 107.84 166.33 108.24 166.41 107.99 166.48 105.94 166.56 108.27 166.64 109.26 166.71 106.06 166.79 105.97 166.86 107.15 166.94 107.86 167.02 105.35 167.09 102.59 167.17 107.08 167.24 108.97 167.32 107.08 167.4 108.43 167.47 109.98 167.55 108.15 167.63 106.2 167.7 109.01 167.78 109.39 167.85 108.2 167.93 110.45 168.01 108.72 168.08 105.45 168.16 107.68 168.24 111.77 168.31 109.88 168.39 107.28 168.46 112.04 168.54 111.26 168.62 104.96 168.69 106.93 168.77 111.91 168.84 109.61 168.92 106.3 169 110.19 169.07 109.72 169.15 104.79 169.23 107.66 169.3 112.34 169.38 110.55 169.45 108.1 169.53 108.95 169.61 108.99 169.68 108.25 169.76 111.72 169.84 114.11 169.91 107.52 169.99 106.47 170.06 112.78 170.14 111.08 170.22 106.19 170.29 106.72 170.37 110.24 170.44 110.68 170.52 107.24 170.6 107.48 170.67 109.55 170.75 108.26 170.83 109.02 170.9 109.54 170.98 108.43 171.05 109.75 171.13 108.01 171.21 107.85 171.28 110.21 171.36 108.07 171.44 107.07 171.51 105.84 171.59 108.07 171.66 109.26 171.74 106.18 171.82 107.19 171.89 107.67 171.97 107.92 172.05 107.92 172.12 109.24 172.2 110.56 172.27 111.08 172.35 109.2 172.43 105.98 172.5 108.6 172.58 110.26 172.65 108.81 172.73 108.61 172.81 110.36 172.88 109.33 172.96 105.92 173.04 106.89 173.11 109.87 173.19 108.54 173.26 106.83 173.34 108.11 173.42 110.54 173.49 111.92 173.57 108.62 173.65 108.42 173.72 110.98 173.8 110.89 173.87 108.96 173.95 107.63 174.03 111.01 174.1 110.94 174.18 106.52 174.26 105.83 174.33 109.37 174.41 109.75 174.48 106.4 174.56 109.07 174.64 111.63 174.71 108.23 174.79 109.31 174.86 113.21 174.94 109.5 175.02 108.04 175.09 111.79 175.17 110.02 175.25 108.89 175.32 109.93 175.4 110.2 175.47 110.54 175.55 108.94 175.63 108.34 175.7 110.19 175.78 110.33 175.86 108 175.93 108.9 176.01 110.15 176.08 108.52 176.16 109.29 176.24 110.74 176.31 109.13 176.39 109.87 176.46 111.88 176.54 110.1 176.62 109.66 176.69 110.54 176.77 108.97 176.85 107.24 176.92 109.69 177 109.26 177.07 106.47 177.15 109.64 177.23 110.69 177.3 106.64 177.38 105.86 177.46 112.91 177.53 112.06 177.61 104.2 177.68 109.64 177.76 113.11 177.84 108.07 177.91 108.8 177.99 113.16 178.06 110.72 178.14 103.01 178.22 107.15 178.29 112.99 178.37 108.68 178.45 106.16 178.52 111.06 178.6 113.94 178.67 107.36 178.75 106.76 178.83 110.39 178.9 109.48 178.98 108.53 179.06 107.6 179.13 107.68 179.21 111.32 179.28 113.26 179.36 108.54 179.44 108.65 179.51 112.2 179.59 108.38 179.67 104.14 179.74 108.69 179.82 112.79 179.89 109.49 179.97 107.21 180.05 109.99 180.12 112.33 180.2 109.16 180.27 106.5 180.35 107.95 180.43 109.97 180.5 107.97 180.58 106.07 180.66 108.94 180.73 112.24 180.81 111.68 180.88 108.31 180.96 110.27 181.04 112.39 181.11 109.84 181.19 107.85 181.27 108.91 181.34 109.91 181.42 106.18 181.49 106.06 181.57 110.36 181.65 110.8 181.72 109.38 181.8 110.16 181.88 110.48 181.95 109.7 182.03 111.04 182.1 111.84 182.18 109.96 182.26 109.89 182.33 110.74 182.41 108.25 182.48 108.05 182.56 109.39 182.64 109.11 182.71 109.97 182.79 110.97 182.87 111.08 182.94 108.44 183.02 108.89 183.09 114.24 183.17 110.62 183.25 106.42 183.32 112.17 183.4 112.72 183.48 108.51 183.55 107.01 183.63 108.97 183.7 111.65 183.78 109.03 183.86 108.23 183.93 112.43 184.01 113.56 184.08 108.71 184.16 107.11 184.24 112.31 184.31 112.4 184.39 106.98 184.47 108.24 184.54 114.18 184.62 110.27 184.69 104.4 184.77 109.25 184.85 112.52 184.92 108.03 185 107.37 185.08 111.75 185.15 109.6 185.23 107.6 185.3 109.86 185.38 109.45 185.46 108.95 185.53 108.34 185.61 106.38 185.69 105.8 185.76 108.22 185.84 108.76 185.91 106.86 185.99 108.07 186.07 109.16 186.14 106 186.22 104.93 186.29 107.99 186.37 109.86 186.45 107.04 186.52 106.72 186.6 108.94 186.68 106.39 186.75 107.12 186.83 107.19 186.9 105.27 186.98 106.09 187.06 107.55 187.13 106.1 187.21 103.94 187.29 107.7 187.36 107.84 187.44 105.09 187.51 104.84 187.59 106.32 187.67 106.95 187.74 104.18 187.82 104.09 187.89 106.98 187.97 107.79 188.05 104.43 188.12 104.21 188.2 110.98 188.28 109.29 188.35 103.31 188.43 107.06 188.5 109.4 188.58 105.8 188.66 103.9 188.73 107.53 188.81 107.99 188.89 106.56 188.96 108.44 189.04 106.98 189.11 104.58 189.19 106.55 189.27 108.3 189.34 104.69 189.42 105.94 189.5 109.92 189.57 108.56 189.65 105.08 189.72 106.81 189.8 112.27 189.88 109.84 189.95 105.78 190.03 107.74 190.1 110.06 190.18 108.14 190.26 107.91 190.33 110.62 190.41 110.22 190.49 107.3 190.56 107.6 190.64 110.17 190.71 109.2 190.79 108.96 190.87 108.94 190.94 107.37 191.02 109.41 191.1 112.51 191.17 109.85 191.25 106.31 191.32 109.35 191.4 113.73 191.48 110.82 191.55 108.12 191.63 113.44 191.7 113.31 191.78 107.44 191.86 107.97 191.93 112.9 192.01 111.68 192.09 108.63 192.16 110.98 192.24 112.7 192.31 112.19 192.39 110.27 192.47 111.24 192.54 111.81 192.62 111.05 192.7 111.48 192.77 111.2 192.85 112.25 192.92 112.37 193 110.12 193.08 110.52 193.15 112.36 193.23 109.8 193.31 111.88 193.38 114.28 193.46 110.64 193.53 109.42 193.61 112.04 193.69 114.03 193.76 110.47 193.84 110.51 193.91 113.71 193.99 113 194.07 112.19 194.14 111.63 194.22 112.01 194.3 110.5 194.37 109.7 194.45 112.12 194.52 112.03 194.6 110.45 194.68 109.49 194.75 111.54 194.83 113.51 194.91 111.34 194.98 109.52 195.06 110.87 195.13 113.3 195.21 112.17 195.29 110.16 195.36 111.83 195.44 111.77 195.51 108.83 195.59 109.63 195.67 111.97 195.74 110.11 195.82 107.85 195.9 108.97 195.97 110.94 196.05 111.44 196.12 109.15 196.2 109.01 196.28 111.42 196.35 109.53 196.43 108.81 196.51 111.76 196.58 110.95 196.66 108.6 196.73 108.41 196.81 109.7 196.89 110.43 196.96 107.56 197.04 107.13 197.12 109.21 197.19 108.91 197.27 108.99 197.34 110.54 197.42 111.26 197.5 107.96 197.57 106.91 197.65 109.82 197.72 108.81 197.8 108.22 197.88 111.24 197.95 111.73 198.03 107.89 198.11 107.05 198.18 109.26 198.26 107.84 198.33 109.22 198.41 109.9 198.49 107.44 198.56 108.47 198.64 110.42 198.72 109.2 198.79 104.75 198.87 107.74 198.94 110.69 199.02 107.69 199.1 107.28 199.17 109.3 199.25 111.57 199.32 108.67 199.4 108.02 199.48 109.46 199.55 110.12 199.63 110.26 199.71 106.43 199.78 108.12 199.86 111.13 199.93 108.7 200.01 106.21 200.09 107.95 200.16 109.4 200.24 106.08 200.32 105.42 200.39 109.79 200.47 109.37 200.54 105.88 200.62 108.44 200.7 109.96 200.77 108.43 200.85 107.25 200.93 106.87 201 108.18 201.08 110.28 201.15 109.36 201.23 105.79 201.31 106.89 201.38 109.07 201.46 106.98 201.53 106.07 201.61 109.38 201.69 109.38 201.76 107.16 201.84 107.97 201.92 108.09 201.99 106.76 202.07 106.78 202.14 108.96 202.22 110.42 202.3 108.59 202.37 106.8 202.45 109.13 202.53 109.86 202.6 108.12 202.68 107.45 202.75 108.43 202.83 108.77 202.91 106.05 202.98 108.09 203.06 110.56 203.13 106.96 203.21 105.84 203.29 109.8 203.36 110.02 203.44 106.25 203.52 108.22 203.59 111.1 203.67 107.64 203.74 105.4 203.82 109.1 203.9 110.31 203.97 105.81 204.05 106.71 204.13 112.68 204.2 109.71 204.28 106.6 204.35 108.73 204.43 108.74 204.51 109.46 204.58 108.19 204.66 108.46 204.74 110.1 204.81 109.38 204.89 108.11 204.96 108.93 205.04 109.87 205.12 108.14 205.19 108.27 205.27 108.66 205.34 109.19 205.42 109.02 205.5 107.75 205.57 108.33 205.65 108.6 205.73 108.39 205.8 108.48 205.88 106.72 205.95 108.57 206.03 109.13 206.11 107.1 206.18 109.29 206.26 108.7 206.34 109.31 206.41 108.58 206.49 108.18 206.56 110.59 206.64 107.89 206.72 108.91 206.79 111.41 206.87 109.21 206.94 108.33 207.02 110.11 207.1 109.51 207.17 107.7 207.25 109.92 207.33 110.54 207.4 107.01 207.48 107.06 207.55 111.1 207.63 109.41 207.71 104.61 207.78 108.97 207.86 113.4 207.94 108.23 208.01 105.93 208.09 110.07 208.16 110.98 208.24 107.89 208.32 107.78 208.39 110.72 208.47 109.4 208.55 106.14 208.62 108.66 208.7 110.46 208.77 107.95 208.85 109.26 208.93 110.78 209 109.57 209.08 109.53 209.15 109.14 209.23 108.72 209.31 109.11 209.38 108.9 209.46 107.74 209.54 106.63 209.61 107.46 209.69 110.61 209.76 108.09 209.84 106.94 209.92 110.85 209.99 107.48 210.07 106.97 210.15 110.33 210.22 110.13 210.3 108.05 210.37 107.68 210.45 109.03 210.53 107.31 210.6 108.22 210.68 108.9 210.75 105.97 210.83 107.5 210.91 110.87 210.98 107.63 211.06 104.06 211.14 107.62 211.21 110.22 211.29 106.86 211.36 106.7 211.44 112.1 211.52 110.86 211.59 104.37 211.67 106.62 211.75 111.83 211.82 108.09 211.9 105.96 211.97 109.64 212.05 108.48 212.13 106.35 212.2 107.37 212.28 107.56 212.36 109.04 212.43 110.21 212.51 107.5 212.58 106.59 212.66 109.77 212.74 110.22 212.81 106.38 212.89 105.94 212.96 111.63 213.04 109.27 213.12 102.81 213.19 108.53 213.27 111.83 213.35 106.89 213.42 105.61 213.5 109.61 213.57 110.38 213.65 107.31 213.73 108.03 213.8 109.78 213.88 110.47 213.96 108.86 214.03 107.25 214.11 108.24 214.18 109.97 214.26 109.83 214.34 106.8 214.41 107.71 214.49 111.47 214.56 108.86 214.64 104.35 214.72 109.7 214.79 113.55 214.87 106.68 214.95 105.71 215.02 111.15 215.1 110.63 215.17 106.07 215.25 107.82 215.33 112.73 215.4 109.32 215.48 107.09 215.56 111.24 215.63 111.9 215.71 108.5 215.78 108.87 215.86 111.87 215.94 110.74 216.01 108.75 216.09 108.97 216.17 108.98 216.24 107.42 216.32 108.77 216.39 109.97 216.47 109.05 216.55 109.18 216.62 108.94 216.7 111.68 216.77 111.59 216.85 108.5 216.93 108.7 217 111.25 217.08 112.28 217.16 107.15 217.23 106.26 217.31 113.48 217.38 112.29 217.46 105.49 217.54 109.08 217.61 112.96 217.69 108.86 217.77 107.09 217.84 111.79 217.92 112.54 217.99 107.2 218.07 106.77 218.15 110.92 218.22 111.67 218.3 108.37 218.37 111.23 218.45 114.43 218.53 109.6 218.6 106.77 218.68 110.43 218.76 112.35 218.83 108.13 218.91 108.45 218.98 112.38 219.06 110.51 219.14 107.26 219.21 110.54 219.29 112.5 219.37 108.49 219.44 109.45 219.52 111.69 219.59 108.91 219.67 105.78 219.75 108.08 219.82 111.63 219.9 108.56 219.98 107.46 220.05 111.05 220.13 111.37 220.2 107.51 220.28 107.77 220.36 112.64 220.43 109.97 220.51 106.9 220.58 109.78 220.66 110.6 220.74 107.87 220.81 107.84 220.89 112.3 220.97 111.87 221.04 108.06 221.12 109.98 221.19 112.27 221.27 107.87 221.35 107.99 221.42 111.76 221.5 110.1 221.58 108.7 221.65 108.5 221.73 109.34 221.8 109.62 221.88 108.17 221.96 109.25 222.03 110.63 222.11 108.25 222.18 107.1 222.26 109.17 222.34 110.26 222.41 108.42 222.49 106.81 222.57 110.25 222.64 110.89 222.72 106.35 222.79 107.62 222.87 112.66 222.95 110.17 223.02 106.51 223.1 110.57 223.18 112.33 223.25 108.95 223.33 107.9 223.4 110.25 223.48 111.63 223.56 109.91 223.63 107.49 223.71 109.03 223.79 111.65 223.86 109.71 223.94 107.47 224.01 108.49 224.09 112.14 224.17 109.86 224.24 106.49 224.32 109.88 224.39 109.08 224.47 106.82 224.55 108.44 224.62 110.97 224.7 110.49 224.78 109.48 224.85 110.91 224.93 109.05 225 107.92 225.08 110.56 225.16 111.6 225.23 106.18 225.31 105.3 225.39 111.4 225.46 110.53 225.54 108.5 225.61 108.91 225.69 110.87 225.77 110.29 225.84 107.04 225.92 110.32 225.99 112 226.07 107.73 226.15 106.29 226.22 110.86 226.3 111.85 226.38 105.42 226.45 107.07 226.53 113.09 226.6 109.21 226.68 106.12 226.76 109.93 226.83 111.81 226.91 106.94 226.99 106.51 227.06 112.78 227.14 110.52 227.21 105.9 227.29 108.28 227.37 112.03 227.44 109.38 227.52 105.99 227.59 109.6 227.67 110.34 227.75 107.19 227.82 108.05 227.9 109.51 227.98 108.36 228.05 108.72 228.13 110.16 228.2 109.38 228.28 106.78 228.36 110.06 228.43 112.31 228.51 106.85 228.59 106.96 228.66 109.68 228.74 108.61 228.81 105.93 228.89 107.58 228.97 110.79 229.04 107.9 229.12 106.83 229.2 108.79 229.27 109.05 229.35 107.61 229.42 107.35 229.5 107.58 229.58 107.84 229.65 110.08 229.73 108.93 229.8 106.63 229.88 108.39 229.96 111.09 230.03 108.29 230.11 103.82 230.19 108.66 230.26 112.16 230.34 107.14 230.41 105.69 230.49 110.04 230.57 111.93 230.64 107.49 230.72 105.86 230.8 109.58 230.87 109.2 230.95 106.88 231.02 107.21 231.1 109.57 231.18 109.77 231.25 107.24 231.33 107.14 231.41 109.04 231.48 110.02 231.56 107.75 231.63 106.55 231.71 108.23 231.79 109.03 231.86 107.36 231.94 107.75 232.01 109.96 232.09 108.98 232.17 108.79 232.24 108.93 232.32 107.2 232.4 107.09 232.47 109.87 232.55 109.29 232.62 107.57 232.7 108.22 232.78 109.85 232.85 109.24 232.93 105.82 233.01 109.26 233.08 111.18 233.16 106.71 233.23 106.21 233.31 110.42 233.39 110.39 233.46 105.83 233.54 106.76 233.61 109.5 233.69 108.84 233.77 106.91 233.84 108.31 233.92 110.75 234 109.09 234.07 106.75 234.15 107.64 234.22 110.98 234.3 109.1 234.38 106.15 234.45 108.33 234.53 110.24 234.61 108.15 234.68 105.83 234.76 110.39 234.83 111.24 234.91 105.95 234.99 107.14 235.06 110.14 235.14 108.72 235.22 106.65 235.29 107.86 235.37 110.18 235.44 108.69 235.52 107.18 235.6 108.03 235.67 107.24 235.75 107.81 235.82 108.86 235.9 107.33 235.98 108.38 236.05 110.44 236.13 107.24 236.21 106.65 236.28 111.42 236.36 110.08 236.43 105.46 236.51 107.14 236.59 111.37 236.66 109 236.74 105.92 236.82 109.47 236.89 111.15 236.97 107.83 237.04 108.55 237.12 111.76 237.2 110.11 237.27 108.59 237.35 109.15 237.42 109.54 237.5 108.59 237.58 108.23 237.65 109.07 237.73 109.52 237.81 110.27 237.88 109.32 237.96 109.61 238.03 110.78 238.11 109.77 238.19 109.08 238.26 110.58 238.34 110.83 238.42 109.15 238.49 109.9 238.57 110.52 238.64 109.53 238.72 109.93 238.8 111.93 238.87 111.27 238.95 109.99 239.03 111.09 239.1 111.38 239.18 110.78 239.25 109.77 239.33 111.38 239.41 112.35 239.48 112.04 239.56 111.81 239.63 110.05 239.71 112.61 239.79 113.9 239.86 111.23 239.94 111.02 240.02 111.69 240.09 112.16 240.17 111.16 240.24 110.6 240.32 113.44 240.4 113.34 240.47 109.24 240.55 109.14 240.63 113.7 240.7 113.38 240.78 110.1 240.85 111.4 240.93 114.38 241.01 113.37 241.08 109.03 241.16 111.17 241.23 113.07 241.31 110.13 241.39 109.53 241.46 111.03 241.54 111.82 241.62 112.2 241.69 111.03 241.77 107.46 241.84 112.47 241.92 114.41 242 107.91 242.07 108.45 242.15 113.48 242.23 113.6 242.3 107.96 242.38 109.41 242.45 114.09 242.53 110.28 242.61 106.01 242.68 109.47 242.76 111.9 242.84 108.35 242.91 107.93 242.99 110 243.06 109.79 243.14 108.55 243.22 108.44 243.29 108.18 243.37 108.9 243.44 109.02 243.52 107.81 243.6 108.59 243.67 107.72 243.75 107.54 243.83 107.92 243.9 107.14 243.98 107.15 244.05 107.94 244.13 108.72 244.21 106.22 244.28 106.77 244.36 110.14 244.44 108.17 244.51 105.16 244.59 107.03 244.66 108.39 244.74 104.52 244.82 104.44 244.89 108.74 244.97 107.6 245.04 104.81 245.12 107.51 245.2 110.25 245.27 107.85 245.35 104.31 245.43 106.33 245.5 108.51 245.58 106.02 245.65 105.1 245.73 105.19 245.81 106.81 245.88 108.67 245.96 106.97 246.04 104.23 246.11 106.56 246.19 109.37 246.26 105.34 246.34 105.27 246.42 109.77 246.49 107.98 246.57 102.61 246.65 104.65 246.72 109.4 246.8 106.69 246.87 105.49 246.95 108.02 247.03 107.37 247.1 107.08 247.18 106.88 247.25 107.03 247.33 108.78 247.41 108.89 247.48 107.2 247.56 105.69 247.64 109.46 247.71 109.59 247.79 105.55 247.86 107.23 247.94 109.78 248.02 108.07 248.09 104.37 248.17 107.95 248.25 110.15 248.32 106.48 248.4 107.55 248.47 108.98 248.55 106.52 248.63 106.2 248.7 109.7 248.78 108.66 248.85 105.85 248.93 108.68 249.01 110.77 249.08 107.12 249.16 106.38 249.24 110.45 249.31 109.38 249.39 106.98 249.46 109.42 249.54 111.23 249.62 109.67 249.69 108.79 249.77 109.37 249.85 110.13 249.92 108.52 250 107.16 250.07 111.45 250.15 111.06 250.23 107.51 250.3 108.78 250.38 110.62 250.46 111.02 250.53 108.69 250.61 109.1 250.68 111.99 250.76 110.73 250.84 107.71 250.91 108.88 250.99 110.96 251.06 110.26 251.14 109.84 251.22 107.39 251.29 109.31 251.37 111.57 251.45 106.87 251.52 107.55 251.6 111.72 251.67 110 251.75 106.61 251.83 110.45 251.9 113.31 251.98 108.36 252.06 107.87 252.13 112.34 252.21 111.2 252.28 107.24 252.36 108.88 252.44 111.15 252.51 109.42 252.59 108.05 252.66 110.69 252.74 109.81 252.82 107.76 252.89 111.3 252.97 109.52 253.05 107.7 253.12 109.92 253.2 110.43 253.27 108.49 253.35 109.23 253.43 111.98 253.5 107.61 253.58 106.69 253.66 109.79 253.73 109.32 253.81 108.74 253.88 108.98 253.96 109.55 254.04 109.14 254.11 108.02 254.19 109.09 254.27 110.46 254.34 109.1 254.42 109.17 254.49 108.27 254.57 108.36 254.65 110.7 254.72 108.66 254.8 107.67 254.87 110.2 254.95 110.24 255.03 107.56 255.1 107.97 255.18 110.12 255.26 108.82 255.33 108.45 255.41 108.68 255.48 108.9 255.56 109.33 255.64 107.91 255.71 109.26 255.79 109.73 255.87 109.2 255.94 108.09 256.02 106.85 256.09 110.46 256.17 108.42 256.25 105.44 256.32 109.68 256.4 110.25 256.47 107.16 256.55 106.31 256.63 110.1 256.7 110.2 256.78 105.92 256.86 108.35 256.93 110.59 257.01 107.33 257.08 107.07 257.16 110.17 257.24 108.13 257.31 106.25 257.39 107.64 257.47 108.27 257.54 109 257.62 107.3 257.69 107.58 257.77 110.39 257.85 109.05 257.92 105.11 258 107.08 258.08 112.09 258.15 107.58 258.23 102.83 258.3 109.73 258.38 113.37 258.46 105.76 258.53 104.89 258.61 112.55 258.68 110.59 258.76 104.24 258.84 105.55 258.91 109.56 258.99 108.36 259.07 105.89 259.14 108.58 259.22 108.72 259.29 107.55 259.37 107.03 259.45 106.79 259.52 109.45 259.6 109.17 259.68 107.93 259.75 108.53 259.83 109.76 259.9 107.58 259.98 106.42 260.06 110.23 260.13 109.1 260.21 105.84 260.28 107.13 260.36 109.13 260.44 108.41 260.51 107.83 260.59 109.76 260.67 109.48 260.74 106.84 260.82 109.01 260.89 109.94 260.97 106.84 261.05 108.11 261.12 110.44 261.2 108.36 261.28 107.41 261.35 110.72 261.43 109.42 261.5 107.43 261.58 109.51 261.66 109.61 261.73 108.88 261.81 109.51 261.88 109.95 261.96 108.18 262.04 108.67 262.11 109.65 262.19 108.87 262.27 109.01 262.34 109.13 262.42 108.91 262.49 109.09 262.57 111.35 262.65 109.97 262.72 108.36 262.8 110.12 262.88 110.41 262.95 109.5 263.03 108.49 263.1 110.19 263.18 110.7 263.26 110.37 263.33 109.88 263.41 109.4 263.49 110.77 263.56 110.56 263.64 110.26 263.71 109.54 263.79 111.01 263.87 112.16 263.94 108.61 264.02 108.71 264.09 112.43 264.17 111.48 264.25 107.45 264.32 108.96 264.4 113.97 264.48 111.35 264.55 106.51 264.63 111.48 264.7 113.69 264.78 108.21 264.86 108.11 264.93 112.41 265.01 113.02 265.09 107.34 265.16 107.96 265.24 113.1 265.31 110.45 265.39 108.31 265.47 111.07 265.54 112.16 265.62 109.16 265.7 108.11 265.77 110.05 265.85 110.79 265.92 109.28 266 108.87 266.08 109.59 266.15 110.14 266.23 110.75 266.3 110.43 266.38 109.59 266.46 110.62 266.53 111.82 266.61 107.13 266.69 107.62 266.76 112.23 266.84 110.42 266.91 106.82 266.99 108.71 267.07 113.33 267.14 107.42 267.22 103.89 267.3 111.2 267.37 110.46 267.45 104.63 267.52 109.08" fill="none" stroke="#000" stroke-width="0.62" stroke-linejoin="round"/>
<rect x="39" y="78" width="228.6" height="62" fill="none" stroke="#222" stroke-width="0.75"/>
<line x1="39" x2="39" y1="140" y2="142.7" stroke="#222" stroke-width="0.7"/>
<text x="39" y="150.8" font-size="7.6" text-anchor="middle">0</text>
<line x1="77.1" x2="77.1" y1="140" y2="142.7" stroke="#222" stroke-width="0.7"/>
<text x="77.1" y="150.8" font-size="7.6" text-anchor="middle">5</text>
<line x1="115.2" x2="115.2" y1="140" y2="142.7" stroke="#222" stroke-width="0.7"/>
<text x="115.2" y="150.8" font-size="7.6" text-anchor="middle">10</text>
<line x1="153.3" x2="153.3" y1="140" y2="142.7" stroke="#222" stroke-width="0.7"/>
<text x="153.3" y="150.8" font-size="7.6" text-anchor="middle">15</text>
<line x1="191.4" x2="191.4" y1="140" y2="142.7" stroke="#222" stroke-width="0.7"/>
<text x="191.4" y="150.8" font-size="7.6" text-anchor="middle">20</text>
<line x1="229.5" x2="229.5" y1="140" y2="142.7" stroke="#222" stroke-width="0.7"/>
<text x="229.5" y="150.8" font-size="7.6" text-anchor="middle">25</text>
<line x1="267.6" x2="267.6" y1="140" y2="142.7" stroke="#222" stroke-width="0.7"/>
<text x="267.6" y="150.8" font-size="7.6" text-anchor="middle">30</text>
<line x1="36.3" x2="39" y1="88.55" y2="88.55" stroke="#222" stroke-width="0.7"/>
<text x="32.8" y="91.25" font-size="7.6" text-anchor="end">10</text>
<line x1="36.3" x2="39" y1="109" y2="109" stroke="#222" stroke-width="0.7"/>
<text x="32.8" y="111.7" font-size="7.6" text-anchor="end">0</text>
<line x1="36.3" x2="39" y1="129.45" y2="129.45" stroke="#222" stroke-width="0.7"/>
<text x="32.8" y="132.15" font-size="7.6" text-anchor="end">−10</text>
<rect x="47.2" y="82" width="15" height="11.4" rx="1.9" fill="#fff" stroke="#111" stroke-width="0.9"/>
<text x="54.7" y="90" font-size="6.7" font-weight="bold" stroke-width="0.1" text-anchor="middle">(c)</text>
<rect x="201.4" y="80.9" width="63" height="13.3" rx="1.5" fill="#fff" fill-opacity="0.85" stroke="#333" stroke-width="0.75"/>
<line x1="204.3" x2="217" y1="87.55" y2="87.55" stroke="#222" stroke-width="0.5"/>
<text x="261.4" y="89.85" font-size="6.4" stroke-width="0.12" text-anchor="end">Noisy signal</text>
<clipPath id="cl2"><rect x="39" y="151.5" width="228.6" height="62"/></clipPath>
<path clip-path="url(#cl2)" d="M39 182.7 39.08 182.7 39.15 182.7 39.23 182.7 39.3 182.7 39.38 182.7 39.46 182.7 39.53 182.7 39.61 182.7 39.69 182.7 39.76 182.7 39.84 182.7 39.91 182.7 39.99 182.7 40.07 182.7 40.14 182.7 40.22 182.7 40.3 182.7 40.37 182.7 40.45 182.7 40.52 182.7 40.6 182.7 40.68 182.7 40.75 182.7 40.83 182.7 40.91 182.7 40.98 182.7 41.06 182.7 41.13 182.7 41.21 182.7 41.29 182.7 41.36 182.7 41.44 182.7 41.51 182.7 41.59 182.7 41.67 182.7 41.74 182.7 41.82 182.7 41.9 182.7 41.97 182.7 42.05 182.7 42.12 182.7 42.2 182.7 42.28 182.7 42.35 182.7 42.43 182.7 42.51 182.7 42.58 182.7 42.66 182.7 42.73 182.7 42.81 182.7 42.89 182.7 42.96 182.7 43.04 182.7 43.11 182.7 43.19 182.7 43.27 182.7 43.34 182.7 43.42 182.7 43.5 182.7 43.57 182.7 43.65 182.7 43.72 182.7 43.8 182.7 43.88 182.7 43.95 182.7 44.03 182.7 44.11 182.7 44.18 182.7 44.26 182.7 44.33 182.7 44.41 182.7 44.49 182.7 44.56 182.7 44.64 182.7 44.72 182.7 44.79 182.7 44.87 182.7 44.94 182.7 45.02 182.7 45.1 182.7 45.17 182.7 45.25 182.7 45.32 182.7 45.4 182.7 45.48 182.7 45.55 182.7 45.63 182.7 45.71 182.7 45.78 182.7 45.86 182.7 45.93 182.7 46.01 182.7 46.09 182.7 46.16 182.7 46.24 182.7 46.32 182.7 46.39 182.7 46.47 182.7 46.54 182.7 46.62 182.7 46.7 182.7 46.77 182.7 46.85 182.7 46.92 182.7 47 182.7 47.08 182.7 47.15 182.7 47.23 182.7 47.31 182.7 47.38 182.7 47.46 182.7 47.53 182.7 47.61 182.7 47.69 182.7 47.76 182.7 47.84 182.7 47.92 182.7 47.99 182.7 48.07 182.7 48.14 182.7 48.22 182.7 48.3 182.7 48.37 182.7 48.45 182.7 48.52 182.7 48.6 182.7 48.68 182.7 48.75 182.7 48.83 182.7 48.91 182.7 48.98 182.7 49.06 182.7 49.13 182.7 49.21 182.7 49.29 182.7 49.36 182.7 49.44 182.7 49.52 182.7 49.59 182.7 49.67 182.7 49.74 182.7 49.82 182.7 49.9 182.7 49.97 182.7 50.05 182.7 50.13 182.7 50.2 182.7 50.28 182.7 50.35 182.7 50.43 182.7 50.51 182.7 50.58 182.7 50.66 182.7 50.73 182.7 50.81 182.7 50.89 182.7 50.96 182.7 51.04 182.7 51.12 182.7 51.19 182.7 51.27 182.7 51.34 182.7 51.42 182.7 51.5 182.7 51.57 182.7 51.65 182.7 51.73 182.7 51.8 182.7 51.88 182.7 51.95 182.7 52.03 182.7 52.11 182.7 52.18 182.7 52.26 182.7 52.34 182.7 52.41 182.7 52.49 182.7 52.56 182.7 52.64 182.7 52.72 182.7 52.79 182.7 52.87 182.7 52.94 182.7 53.02 182.7 53.1 182.7 53.17 182.7 53.25 182.7 53.33 182.7 53.4 182.7 53.48 182.7 53.55 182.7 53.63 182.7 53.71 182.7 53.78 182.7 53.86 182.7 53.94 182.7 54.01 182.7 54.09 182.7 54.16 182.7 54.24 182.7 54.32 182.7 54.39 182.7 54.47 182.7 54.54 182.7 54.62 182.7 54.7 182.7 54.77 182.7 54.85 182.7 54.93 182.7 55 182.7 55.08 182.7 55.15 182.7 55.23 182.7 55.31 182.7 55.38 182.7 55.46 182.7 55.54 182.7 55.61 182.7 55.69 182.7 55.76 182.7 55.84 182.7 55.92 182.7 55.99 182.7 56.07 182.7 56.14 182.7 56.22 182.7 56.3 182.7 56.37 182.7 56.45 182.7 56.53 182.7 56.6 182.7 56.68 182.7 56.75 182.7 56.83 182.7 56.91 182.7 56.98 182.7 57.06 182.7 57.14 182.7 57.21 182.7 57.29 182.7 57.36 182.7 57.44 182.7 57.52 182.7 57.59 182.7 57.67 182.7 57.75 182.7 57.82 182.7 57.9 182.7 57.97 182.7 58.05 182.7 58.13 182.7 58.2 182.7 58.28 182.7 58.35 182.7 58.43 182.7 58.51 182.7 58.58 182.7 58.66 182.7 58.74 182.7 58.81 182.7 58.89 182.7 58.96 182.7 59.04 182.7 59.12 182.7 59.19 182.7 59.27 182.7 59.35 182.7 59.42 182.7 59.5 182.7 59.57 182.7 59.65 182.7 59.73 182.7 59.8 182.7 59.88 182.7 59.95 182.7 60.03 182.7 60.11 182.7 60.18 182.7 60.26 182.7 60.34 182.7 60.41 182.7 60.49 182.7 60.56 182.7 60.64 182.7 60.72 182.7 60.79 182.7 60.87 182.7 60.95 182.7 61.02 182.7 61.1 182.7 61.17 182.7 61.25 182.7 61.33 182.7 61.4 182.7 61.48 182.7 61.56 182.7 61.63 182.7 61.71 182.7 61.78 182.7 61.86 182.7 61.94 182.7 62.01 182.7 62.09 182.7 62.16 182.7 62.24 182.7 62.32 182.7 62.39 182.7 62.47 182.7 62.55 182.7 62.62 182.7 62.7 182.7 62.77 182.7 62.85 182.7 62.93 182.7 63 182.7 63.08 182.7 63.16 182.7 63.23 182.7 63.31 182.7 63.38 182.7 63.46 182.7 63.54 182.7 63.61 182.7 63.69 182.7 63.77 182.7 63.84 182.7 63.92 182.7 63.99 182.7 64.07 182.7 64.15 182.7 64.22 182.7 64.3 182.7 64.37 182.7 64.45 182.7 64.53 182.7 64.6 182.7 64.68 182.7 64.76 182.7 64.83 182.7 64.91 182.7 64.98 182.7 65.06 182.7 65.14 182.7 65.21 182.7 65.29 182.7 65.37 182.7 65.44 182.7 65.52 182.7 65.59 182.7 65.67 182.7 65.75 182.7 65.82 182.7 65.9 182.7 65.97 182.7 66.05 182.7 66.13 182.7 66.2 182.7 66.28 182.7 66.36 182.7 66.43 182.7 66.51 182.7 66.58 182.7 66.66 182.7 66.74 182.7 66.81 182.7 66.89 182.7 66.97 182.7 67.04 182.7 67.12 182.7 67.19 182.7 67.27 182.7 67.35 182.7 67.42 182.7 67.5 182.7 67.58 182.7 67.65 182.7 67.73 182.7 67.8 182.7 67.88 182.7 67.96 182.7 68.03 182.7 68.11 182.7 68.18 182.7 68.26 182.7 68.34 182.7 68.41 182.7 68.49 182.7 68.57 182.7 68.64 182.7 68.72 182.7 68.79 182.7 68.87 182.7 68.95 182.7 69.02 182.7 69.1 182.7 69.18 182.7 69.25 182.7 69.33 182.7 69.4 182.7 69.48 182.7 69.56 182.7 69.63 182.7 69.71 182.7 69.78 182.7 69.86 182.7 69.94 182.7 70.01 182.7 70.09 182.7 70.17 182.7 70.24 182.7 70.32 182.7 70.39 182.7 70.47 182.7 70.55 182.7 70.62 182.7 70.7 182.7 70.78 182.7 70.85 182.7 70.93 182.7 71 182.7 71.08 182.7 71.16 182.7 71.23 182.7 71.31 182.7 71.39 182.7 71.46 182.7 71.54 182.7 71.61 182.7 71.69 182.7 71.77 182.7 71.84 182.7 71.92 182.7 71.99 182.7 72.07 182.7 72.15 182.7 72.22 182.7 72.3 182.7 72.38 182.7 72.45 182.7 72.53 182.7 72.6 182.7 72.68 182.7 72.76 182.7 72.83 182.7 72.91 182.7 72.99 182.7 73.06 182.7 73.14 182.7 73.21 182.7 73.29 182.7 73.37 182.7 73.44 182.7 73.52 182.7 73.59 182.7 73.67 182.7 73.75 182.7 73.82 182.7 73.9 182.7 73.98 182.7 74.05 182.7 74.13 182.7 74.2 182.7 74.28 182.7 74.36 182.7 74.43 182.7 74.51 182.7 74.59 182.7 74.66 182.7 74.74 182.7 74.81 182.7 74.89 182.7 74.97 182.7 75.04 182.7 75.12 182.7 75.19 182.7 75.27 182.7 75.35 182.7 75.42 182.7 75.5 182.7 75.58 182.7 75.65 182.7 75.73 182.7 75.8 182.7 75.88 182.7 75.96 182.7 76.03 182.7 76.11 182.7 76.19 182.7 76.26 182.7 76.34 182.7 76.41 182.7 76.49 182.7 76.57 182.7 76.64 182.7 76.72 182.7 76.8 182.7 76.87 182.7 76.95 182.7 77.02 182.7 77.1 182.7 77.18 182.7 77.25 182.7 77.33 182.7 77.4 182.7 77.48 182.7 77.56 182.7 77.63 182.7 77.71 182.7 77.79 182.7 77.86 182.7 77.94 182.7 78.01 182.7 78.09 182.7 78.17 182.7 78.24 182.7 78.32 182.7 78.4 182.7 78.47 182.7 78.55 182.7 78.62 182.7 78.7 182.7 78.78 182.7 78.85 182.7 78.93 182.7 79 182.7 79.08 182.7 79.16 182.7 79.23 182.7 79.31 182.7 79.39 182.7 79.46 182.7 79.54 182.7 79.61 182.7 79.69 182.7 79.77 182.7 79.84 182.7 79.92 182.7 80 182.7 80.07 182.7 80.15 182.7 80.22 182.7 80.3 182.7 80.38 182.7 80.45 182.7 80.53 182.7 80.61 182.7 80.68 182.7 80.76 182.7 80.83 182.7 80.91 182.7 80.99 182.7 81.06 182.7 81.14 182.7 81.21 182.7 81.29 182.7 81.37 182.7 81.44 182.7 81.52 182.7 81.6 182.7 81.67 182.7 81.75 182.7 81.82 182.7 81.9 182.7 81.98 182.7 82.05 182.7 82.13 182.7 82.21 182.7 82.28 182.7 82.36 182.7 82.43 182.7 82.51 182.7 82.59 182.7 82.66 182.7 82.74 182.7 82.81 182.7 82.89 182.7 82.97 182.7 83.04 182.7 83.12 182.7 83.2 182.7 83.27 182.7 83.35 182.7 83.42 182.7 83.5 182.7 83.58 182.7 83.65 182.7 83.73 182.7 83.81 182.7 83.88 182.7 83.96 182.7 84.03 182.7 84.11 182.7 84.19 182.7 84.26 182.7 84.34 182.7 84.42 182.7 84.49 182.7 84.57 182.7 84.64 182.7 84.72 182.7 84.8 182.7 84.87 182.7 84.95 182.7 85.02 182.7 85.1 182.7 85.18 182.7 85.25 182.7 85.33 182.7 85.41 182.7 85.48 182.7 85.56 182.7 85.63 182.7 85.71 182.7 85.79 182.7 85.86 182.7 85.94 182.7 86.02 182.7 86.09 182.7 86.17 182.7 86.24 182.7 86.32 182.7 86.4 182.7 86.47 182.7 86.55 182.7 86.62 182.7 86.7 182.7 86.78 182.7 86.85 182.7 86.93 182.7 87.01 182.7 87.08 182.7 87.16 182.7 87.23 182.7 87.31 182.7 87.39 182.7 87.46 182.7 87.54 182.7 87.62 182.7 87.69 182.7 87.77 182.7 87.84 182.7 87.92 182.7 88 182.7 88.07 182.7 88.15 182.7 88.23 182.7 88.3 182.7 88.38 182.7 88.45 182.7 88.53 182.7 88.61 182.7 88.68 182.7 88.76 182.7 88.83 182.7 88.91 182.7 88.99 182.7 89.06 182.7 89.14 182.7 89.22 182.7 89.29 182.7 89.37 182.7 89.44 182.7 89.52 182.7 89.6 182.7 89.67 182.7 89.75 182.7 89.83 182.7 89.9 182.7 89.98 182.7 90.05 182.7 90.13 182.7 90.21 182.7 90.28 182.7 90.36 182.7 90.44 182.7 90.51 182.7 90.59 182.7 90.66 182.7 90.74 182.7 90.82 182.7 90.89 182.7 90.97 182.7 91.04 182.7 91.12 182.7 91.2 182.7 91.27 182.7 91.35 182.7 91.43 182.7 91.5 182.7 91.58 182.7 91.65 182.7 91.73 182.7 91.81 182.7 91.88 182.7 91.96 182.7 92.04 182.7 92.11 182.7 92.19 182.7 92.26 182.7 92.34 182.7 92.42 182.7 92.49 182.7 92.57 182.7 92.64 182.7 92.72 182.7 92.8 182.7 92.87 182.7 92.95 182.7 93.03 182.7 93.1 182.7 93.18 182.7 93.25 182.7 93.33 182.7 93.41 182.7 93.48 182.7 93.56 182.7 93.64 182.7 93.71 182.7 93.79 182.7 93.86 182.7 93.94 182.7 94.02 182.7 94.09 182.7 94.17 182.7 94.25 182.7 94.32 182.7 94.4 182.7 94.47 182.7 94.55 182.7 94.63 182.7 94.7 182.7 94.78 182.7 94.85 182.7 94.93 182.7 95.01 182.7 95.08 182.7 95.16 182.7 95.24 182.7 95.31 182.7 95.39 182.7 95.46 182.7 95.54 182.7 95.62 182.7 95.69 182.7 95.77 182.7 95.85 182.7 95.92 182.7 96 182.7 96.07 182.7 96.15 182.7 96.23 182.7 96.3 182.7 96.38 182.7 96.45 182.7 96.53 182.7 96.61 182.7 96.68 182.7 96.76 182.7 96.84 182.7 96.91 182.7 96.99 182.7 97.06 182.7 97.14 182.7 97.22 182.7 97.29 182.7 97.37 182.7 97.45 182.7 97.52 182.7 97.6 182.7 97.67 182.7 97.75 182.7 97.83 182.7 97.9 182.7 97.98 182.7 98.06 182.7 98.13 182.7 98.21 182.7 98.28 182.7 98.36 182.7 98.44 182.7 98.51 182.7 98.59 182.7 98.66 182.7 98.74 182.7 98.82 182.7 98.89 182.7 98.97 182.7 99.05 182.7 99.12 182.7 99.2 182.7 99.27 182.7 99.35 182.7 99.43 182.7 99.5 182.7 99.58 182.7 99.66 182.7 99.73 183.4 99.81 183.19 99.88 182.69 99.96 178.56 100.04 171.92 100.11 173.23 100.19 182.18 100.26 187.4 100.34 186.75 100.42 185.9 100.49 185.49 100.57 186.03 100.65 190.14 100.72 188.75 100.8 179.44 100.87 177.74 100.95 181.83 101.03 182.06 101.1 181.85 101.18 179.99 101.26 177.4 101.33 182.7 101.41 190.84 101.48 184.91 101.56 176.2 101.64 181.3 101.71 180.83 101.79 176.8 101.87 182.79 101.94 184.64 102.02 184.7 102.09 187.15 102.17 185.61 102.25 185.43 102.32 184.56 102.4 180.68 102.47 178.71 102.55 181.99 102.63 189.2 102.7 186.96 102.78 181.11 102.86 182.1 102.93 177.42 103.01 175.19 103.08 181.79 103.16 184.74 103.24 185.32 103.31 184.08 103.39 179.06 103.47 178.32 103.54 185.79 103.62 184.37 103.69 176.76 103.77 182.9 103.85 185.41 103.92 183.52 104 186.94 104.07 185.67 104.15 187.25 104.23 186.43 104.3 183.7 104.38 183.54 104.46 175.09 104.53 174.09 104.61 181.33 104.68 183.24 104.76 186.36 104.84 187.14 104.91 183.14 104.99 180.18 105.07 179.43 105.14 179.01 105.22 180.18 105.29 188.22 105.37 187.92 105.45 178.31 105.52 182.69 105.6 186.41 105.68 182.74 105.75 184.54 105.83 181.8 105.9 179.95 105.98 183.89 106.06 184.07 106.13 182.93 106.21 180.4 106.28 179.32 106.36 184.9 106.44 186.16 106.51 180.08 106.59 178.63 106.67 182.94 106.74 183.23 106.82 179.53 106.89 183.57 106.97 188.83 107.05 186.87 107.12 184.59 107.2 178.78 107.28 178 107.35 186.44 107.43 183.62 107.5 178.16 107.58 182.39 107.66 181.39 107.73 180.16 107.81 184.65 107.88 184.91 107.96 185.51 108.04 185.43 108.11 181.04 108.19 180.95 108.27 183.78 108.34 184.29 108.42 182.44 108.49 180.4 108.57 179.46 108.65 179.51 108.72 183.45 108.8 187.55 108.88 184.61 108.95 179 109.03 181.68 109.1 188.13 109.18 185.85 109.26 180.45 109.33 180.92 109.41 185.47 109.49 186.8 109.56 181.55 109.64 179.27 109.71 181.59 109.79 180.4 109.87 178.15 109.94 178.89 110.02 183.05 110.09 185.53 110.17 182.01 110.25 182.07 110.32 184.95 110.4 184.67 110.48 184.6 110.55 181.62 110.63 181.61 110.7 186.83 110.78 184.24 110.86 178.98 110.93 180.96 111.01 184.42 111.09 185.36 111.16 186.23 111.24 185.48 111.31 180.53 111.39 175.72 111.47 177.36 111.54 183.77 111.62 188.23 111.69 186.77 111.77 179.91 111.85 177.77 111.92 182.05 112 183.13 112.08 183.3 112.15 183.16 112.23 182.23 112.3 183.92 112.38 184.1 112.46 183.76 112.53 182.84 112.61 182.08 112.69 186.34 112.76 184.87 112.84 179.16 112.91 180.79 112.99 180.84 113.07 179.39 113.14 182.46 113.22 184.15 113.3 183.51 113.37 182.89 113.45 182.86 113.52 182.31 113.6 183.14 113.68 186.69 113.75 185.77 113.83 180.49 113.9 178.76 113.98 179.93 114.06 180.91 114.13 184.74 114.21 188.29 114.29 185.53 114.36 184.22 114.44 184.25 114.51 179.91 114.59 180.69 114.67 181.16 114.74 178.74 114.82 183.61 114.9 177.89 114.97 177.29 115.05 192.18 115.12 167.06 115.2 154.07 115.28 205.19 115.35 201.89 115.43 161.46 115.5 182.25 115.58 200.45 115.66 183.98 115.73 180.38 115.81 188 115.89 184.35 115.96 175.08 116.04 175.24 116.11 180.57 116.19 187.79 116.27 187.11 116.34 182.1 116.42 190.29 116.5 189.82 116.57 177.67 116.65 176.08 116.72 179.38 116.8 180.96 116.88 179.36 116.95 180.6 117.03 187.05 117.11 185.49 117.18 181.19 117.26 183.65 117.33 185.91 117.41 184.47 117.49 183.15 117.56 183.38 117.64 179.06 117.71 176.51 117.79 183.03 117.87 185.29 117.94 184.7 118.02 183.1 118.1 180.75 118.17 191.17 118.25 193.98 118.32 181.21 118.4 176.84 118.48 175.95 118.55 175.44 118.63 179.63 118.71 178.67 118.78 177.68 118.86 184.87 118.93 183.54 119.01 173.63 119.09 180.78 119.16 195.22 119.24 196.09 119.31 188.8 119.39 180.01 119.47 178.12 119.54 182.82 119.62 180.57 119.7 176.43 119.77 181.69 119.85 182.46 119.92 179.64 120 187.16 120.08 185.72 120.15 178.02 120.23 182.46 120.31 181.6 120.38 180.18 120.46 188.51 120.53 185.35 120.61 177.18 120.69 180.32 120.76 184.93 120.84 184.68 120.92 183.57 120.99 183.19 121.07 180.91 121.14 183.35 121.22 186.07 121.3 179.79 121.37 180.61 121.45 186.48 121.52 185.34 121.6 179.35 121.68 174.72 121.75 183.43 121.83 190.15 121.91 185.35 121.98 182.28 122.06 179.7 122.13 182.51 122.21 181.43 122.29 171.48 122.36 175.18 122.44 184.82 122.52 187.91 122.59 190.17 122.67 188.38 122.74 182.63 122.82 181.52 122.9 183.79 122.97 180.98 123.05 180.19 123.12 185.23 123.2 182.51 123.28 177.95 123.35 180.97 123.43 180.16 123.51 183.67 123.58 186.61 123.66 177.76 123.73 183.67 123.81 185.23 123.89 177.31 123.96 190.53 124.04 189.09 124.12 175.73 124.19 178.21 124.27 179.73 124.34 185.31 124.42 189.18 124.5 181.25 124.57 174.67 124.65 179.93 124.73 191.52 124.8 188.16 124.88 179.84 124.95 184.51 125.03 191.4 125.11 188.98 125.18 178.67 125.26 176.43 125.33 182.71 125.41 183 125.49 179.49 125.56 181.38 125.64 184.25 125.72 181.12 125.79 180.6 125.87 182.16 125.94 179.75 126.02 180.4 126.1 182.77 126.17 183.45 126.25 185.88 126.33 186.48 126.4 182.96 126.48 183.48 126.55 186.53 126.63 183.82 126.71 181.98 126.78 184.73 126.86 184.87 126.93 183.8 127.01 184.51 127.09 181.18 127.16 178.89 127.24 180.27 127.32 177.66 127.39 182.14 127.47 184.58 127.54 176.67 127.62 180.6 127.7 182.74 127.77 179.93 127.85 185.22 127.93 186.54 128 187.38 128.08 188.36 128.15 188.29 128.23 186.98 128.31 181.47 128.38 181.01 128.46 181.07 128.54 177.86 128.61 176.05 128.69 175.42 128.76 177.48 128.84 181.55 128.92 185.09 128.99 186.09 129.07 186.03 129.14 186.4 129.22 187.98 129.3 187.33 129.37 180.58 129.45 180.38 129.53 183.58 129.6 179.69 129.68 181.77 129.75 183.17 129.83 180.31 129.91 186.11 129.98 184.72 130.06 176.27 130.14 180.16 130.21 185.99 130.29 184.84 130.36 185.54 130.44 186.65 130.52 183.01 130.59 179.46 130.67 179.47 130.74 180.1 130.82 179.28 130.9 180.68 130.97 185.02 131.05 185.09 131.13 182.15 131.2 182.52 131.28 183.73 131.35 184.34 131.43 185.82 131.51 184.74 131.58 181.85 131.66 181.78 131.74 181.24 131.81 180.07 131.89 181.73 131.96 182.73 132.04 182.14 132.12 181.42 132.19 182.68 132.27 186.73 132.35 187.82 132.42 185.05 132.5 182.34 132.57 181.48 132.65 181.89 132.73 181.51 132.8 181.34 132.88 181.88 132.95 180.21 133.03 177.65 133.11 180.14 133.18 182.68 133.26 181.75 133.34 185.43 133.41 184.64 133.49 181.44 133.56 187.6 133.64 185.42 133.72 181.68 133.79 186.38 133.87 180.85 133.95 178.64 134.02 185.12 134.1 183.35 134.17 183.21 134.25 183.7 134.33 177.58 134.4 179.34 134.48 185.6 134.55 185.24 134.63 187.9 134.71 190.57 134.78 183.91 134.86 178.16 134.94 176.52 135.01 177.6 135.09 182.78 135.16 183.93 135.24 182.46 135.32 182.54 135.39 180.82 135.47 180.34 135.55 181.83 135.62 183.14 135.7 184.11 135.77 184.58 135.85 185.67 135.93 185.9 136 184.16 136.08 181.83 136.16 180.37 136.23 180.07 136.31 179.47 136.38 180.89 136.46 183.43 136.54 182.5 136.61 184.39 136.69 186.66 136.76 179.93 136.84 178.27 136.92 184.74 136.99 184.23 137.07 182.42 137.15 183.99 137.22 183.93 137.3 183.06 137.37 182.85 137.45 184.91 137.53 184.93 137.6 183.14 137.68 184.33 137.76 183.19 137.83 180.2 137.91 181.73 137.98 184.99 138.06 183.4 138.14 178.44 138.21 178.87 138.29 183.47 138.36 183.44 138.44 181.03 138.52 181.15 138.59 181.03 138.67 179.55 138.75 181.35 138.82 186.86 138.9 185.29 138.97 180.15 139.05 184.22 139.13 185.44 139.2 182.52 139.28 186.51 139.36 186.07 139.43 182.98 139.51 184.22 139.58 181.65 139.66 179.63 139.74 179.05 139.81 179 139.89 184.75 139.97 185.49 140.04 182.18 140.12 183.82 140.19 182.67 140.27 181.21 140.35 182.59 140.42 181.76 140.5 182.25 140.57 183.54 140.65 182.85 140.73 182.14 140.8 181.95 140.88 184.02 140.96 184.89 141.03 181.43 141.11 181.68 141.18 183.75 141.26 181.41 141.34 179.6 141.41 177.84 141.49 179.13 141.57 185.44 141.64 187.92 141.72 187.19 141.79 185.19 141.87 182.85 141.95 183.21 142.02 183.63 142.1 184.14 142.17 184.82 142.25 183.87 142.33 181.37 142.4 179.84 142.48 180.48 142.56 181.06 142.63 182.7 142.71 182.43 142.78 179 142.86 179.05 142.94 180.67 143.01 181.77 143.09 183.96 143.17 184.14 143.24 183.93 143.32 185.19 143.39 185.49 143.47 186.36 143.55 186.71 143.62 183.47 143.7 179.87 143.78 179.49 143.85 182.16 143.93 182.71 144 182.5 144.08 184.16 144.16 179.91 144.23 178.26 144.31 182.12 144.38 182.21 144.46 184.89 144.54 185.34 144.61 183.2 144.69 185.26 144.77 184.69 144.84 183.05 144.92 181.72 144.99 181.48 145.07 181.96 145.15 178.33 145.22 178.66 145.3 183.35 145.38 183.7 145.45 183.51 145.53 185.38 145.6 185.81 145.68 184.53 145.76 183.26 145.83 181.94 145.91 181.48 145.98 182.25 146.06 181.87 146.14 183.34 146.21 183.26 146.29 179.9 146.37 181.74 146.44 181.84 146.52 181.07 146.59 184.73 146.67 182 146.75 181.08 146.82 185.43 146.9 183.35 146.98 182.92 147.05 185.62 147.13 183.73 147.2 183.33 147.28 184.18 147.36 182.03 147.43 180.74 147.51 181.36 147.59 181.65 147.66 180.2 147.74 182.23 147.81 185.4 147.89 181.82 147.97 181.96 148.04 184.37 148.12 181.93 148.19 185.58 148.27 186.07 148.35 178.21 148.42 179.73 148.5 184.22 148.58 181.82 148.65 180.41 148.73 181.55 148.8 184.29 148.88 186.76 148.96 184.13 149.03 180.94 149.11 183.14 149.19 183.28 149.26 180.81 149.34 182.42 149.41 182.2 149.49 181.69 149.57 183.15 149.64 181.01 149.72 181.3 149.79 184.01 149.87 184.55 149.95 186.11 150.02 186.49 150.1 184.26 150.18 182.05 150.25 180.63 150.33 180.52 150.4 181.11 150.48 182.47 150.56 183.21 150.63 181.22 150.71 181.36 150.79 182.91 150.86 181.52 150.94 183.05 151.01 185.31 151.09 184.05 151.17 183.5 151.24 181.29 151.32 178.54 151.4 180.24 151.47 184.15 151.55 186.69 151.62 185.46 151.7 181.74 151.78 180.17 151.85 182.48 151.93 184.97 152 184.8 152.08 183.66 152.16 182.6 152.23 181.56 152.31 180.46 152.39 179.84 152.46 181.14 152.54 183.46 152.61 183.97 152.69 182.02 152.77 181.41 152.84 184.07 152.92 186.51 153 185.97 153.07 181.65 153.15 179.01 153.22 183.1 153.3 186.07 153.38 183.78 153.45 181.28 153.53 180.25 153.6 181.72 153.68 183.22 153.76 181.21 153.83 180.58 153.91 183.73 153.99 184.5 154.06 181.1 154.14 180.17 154.21 183.06 154.29 184.76 154.37 185.15 154.44 185.56 154.52 184.99 154.6 183.17 154.67 181.42 154.75 181.03 154.82 181 154.9 180.79 154.98 179.96 155.05 178.25 155.13 179.6 155.2 184.27 155.28 186.34 155.36 185.39 155.43 185.33 155.51 185.27 155.59 183.19 155.66 181.68 155.74 183.37 155.81 185.28 155.89 183.66 155.97 182.47 156.04 182.59 156.12 179.69 156.2 179.45 156.27 182.95 156.35 183.75 156.42 183.11 156.5 181.92 156.58 181.06 156.65 181.85 156.73 182.37 156.81 183.31 156.88 184.52 156.96 183.95 157.03 182.56 157.11 181.55 157.19 181.86 157.26 183.48 157.34 183.59 157.41 182.24 157.49 181.65 157.57 181.42 157.64 182.09 157.72 183.63 157.8 183.51 157.87 182.79 157.95 183.89 158.02 184.59 158.1 183.56 158.18 182.27 158.25 181.28 158.33 181.83 158.41 183.23 158.48 183.33 158.56 182.84 158.63 181.86 158.71 181.37 158.79 182.85 158.86 184.08 158.94 183.65 159.02 182.29 159.09 180.85 159.17 180.86 159.24 182.74 159.32 184.18 159.4 183.43 159.47 182.36 159.55 181.64 159.62 180.66 159.7 180.94 159.78 181.68 159.85 182.65 159.93 184.4 160.01 184.51 160.08 184.01 160.16 184.79 160.23 184.65 160.31 183.72 160.39 184.45 160.46 184.4 160.54 182.1 160.62 182.3 160.69 182.61 160.77 179.53 160.84 179.68 160.92 182.14 161 181.88 161.07 181.8 161.15 182.34 161.22 182.42 161.3 182.74 161.38 183.13 161.45 184.04 161.53 184.48 161.61 183.43 161.68 182.62 161.76 182.76 161.83 182.49 161.91 181.96 161.99 181.95 162.06 181.78 162.14 182.19 162.22 183.32 162.29 183.51 162.37 183.11 162.44 182.47 162.52 182.52 162.6 183.82 162.67 183.53 162.75 182.1 162.82 182.3 162.9 182.75 162.98 182.48 163.05 182.88 163.13 183.51 163.21 183.06 163.28 182.29 163.36 182.09 163.43 181.63 163.51 180.82 163.59 181.09 163.66 182.09 163.74 183.16 163.82 184.53 163.89 184.83 163.97 184.18 164.04 183.64 164.12 183.11 164.2 183.16 164.27 182.59 164.35 181.62 164.43 181.88 164.5 182.16 164.58 182.27 164.65 181.85 164.73 181.49 164.81 183.41 164.88 184.97 164.96 183.47 165.03 181.69 165.11 181.62 165.19 181.44 165.26 181.82 165.34 183.7 165.42 183.63 165.49 182.11 165.57 182.53 165.64 182.96 165.72 182.54 165.8 183.65 165.87 184.06 165.95 182.2 166.03 181.84 166.1 182.7 166.18 182.24 166.25 182.92 166.33 184.29 166.41 182.59 166.48 181.54 166.56 184.07 166.64 184.04 166.71 181.19 166.79 181.79 166.86 183.82 166.94 182.98 167.02 181.07 167.09 180.87 167.17 182.24 167.24 183.23 167.32 183.12 167.4 182.9 167.47 182.8 167.55 182.71 167.63 182.88 167.7 183.05 167.78 183.5 167.85 184.07 167.93 183.15 168.01 181.69 168.08 181.38 168.16 181.62 168.24 182.82 168.31 184.12 168.39 183.97 168.46 183.63 168.54 183.08 168.62 181.88 168.69 181.37 168.77 182.01 168.84 182.78 168.92 182.8 169 182.25 169.07 181.68 169.15 181.4 169.23 181.79 169.3 183.37 169.38 184.92 169.45 183.66 169.53 180.87 169.61 181.14 169.68 183.85 169.76 184.74 169.84 183.44 169.91 182.47 169.99 182.83 170.06 183.24 170.14 182.76 170.22 182.41 170.29 182.47 170.37 182.76 170.44 182.95 170.52 182.35 170.6 182.18 170.67 182.3 170.75 182.34 170.83 183.6 170.9 183.56 170.98 182.09 171.05 182.52 171.13 183.19 171.21 182.71 171.28 182.65 171.36 182.94 171.44 182.83 171.51 182.27 171.59 182.12 171.66 182.27 171.74 182.03 171.82 182.06 171.89 182.05 171.97 182.18 172.05 182.85 172.12 183.11 172.2 183.94 172.27 184.83 172.35 183 172.43 181 172.5 181.94 172.58 182.75 172.65 182.58 172.73 183.6 172.81 183.81 172.88 182.17 172.96 181.7 173.04 182.44 173.11 182.06 173.19 181.85 173.26 182.7 173.34 182.97 173.42 183.24 173.49 183.87 173.57 183.75 173.65 183.26 173.72 183.16 173.8 183.19 173.87 182.6 173.95 182.4 174.03 183.4 174.1 183.4 174.18 181.87 174.26 180.91 174.33 181.43 174.41 182.29 174.48 182.01 174.56 182.16 174.64 183.02 174.71 182.5 174.79 183.27 174.86 184.14 174.94 182.22 175.02 182.9 175.09 184 175.17 181.71 175.25 182.11 175.32 183.59 175.4 182.87 175.47 182.79 175.55 182.37 175.63 181.82 175.7 182.89 175.78 183.48 175.86 182.72 175.93 182.22 176.01 182.6 176.08 182.85 176.16 182.46 176.24 182.41 176.31 182.87 176.39 183.12 176.46 183.27 176.54 183.49 176.62 183.36 176.69 182.96 176.77 182.53 176.85 182.19 176.92 182.13 177 182.11 177.07 182.03 177.15 182.21 177.23 182.34 177.3 181.79 177.38 181.81 177.46 183.45 177.53 183.55 177.61 181.98 177.68 182.69 177.76 183.73 177.84 183.34 177.91 183.82 177.99 183.99 178.06 182.56 178.14 181.45 178.22 181.93 178.29 182.8 178.37 182.57 178.45 182.08 178.52 183.19 178.6 184.07 178.67 182.71 178.75 182.52 178.83 183.22 178.9 182.1 178.98 182.1 179.06 182.32 179.13 181.14 179.21 182.43 179.28 184.84 179.36 184.31 179.44 182.8 179.51 182.42 179.59 181.94 179.67 181.73 179.74 182.33 179.82 182.3 179.89 182.5 179.97 183.51 180.05 183.15 180.12 182.41 180.2 182.88 180.27 182.76 180.35 181.84 180.43 181.67 180.5 182.11 180.58 182.32 180.66 182.55 180.73 183.48 180.81 184.28 180.88 184.18 180.96 183.73 181.04 183.38 181.11 183.33 181.19 182.85 181.27 181.7 181.34 181.27 181.42 181.47 181.49 181.6 181.57 182 181.65 182.62 181.72 183.22 181.8 183.3 181.88 183.05 181.95 183.23 182.03 183.47 182.1 183.23 182.18 182.84 182.26 182.74 182.33 182.72 182.41 182.51 182.48 182 182.56 181.57 182.64 182.14 182.71 182.92 182.79 182.93 182.87 182.89 182.94 182.86 183.02 183.09 183.09 183.17 183.17 182.31 183.25 182.74 183.32 183.77 183.4 182.76 183.48 181.97 183.55 182.23 183.63 182.06 183.7 182.19 183.78 182.57 183.86 182.53 183.93 182.74 184.01 183.51 184.08 183.46 184.16 182.54 184.24 182.75 184.31 183.28 184.39 182.44 184.47 182.23 184.54 183.4 184.62 182.94 184.69 181.75 184.77 182.7 184.85 183.08 184.92 182.01 185 182.68 185.08 183.47 185.15 182.49 185.23 182.61 185.3 183.61 185.38 182.91 185.46 182.48 185.53 182.92 185.61 182.09 185.69 181.65 185.76 182.42 185.84 182.69 185.91 182.93 185.99 182.97 186.07 182.09 186.14 181.82 186.22 182.41 186.29 182.72 186.37 183.06 186.45 183.45 186.52 183.55 186.6 183.28 186.68 183.05 186.75 183.41 186.83 182.96 186.9 181.78 186.98 182.23 187.06 182.89 187.13 182.19 187.21 182.37 187.29 183.27 187.36 182.91 187.44 182.52 187.51 182.94 187.59 182.63 187.67 182.01 187.74 182.35 187.82 182.52 187.89 182.26 187.97 182.64 188.05 182.81 188.12 182.93 188.2 183.48 188.28 183.05 188.35 182.59 188.43 183.21 188.5 183.27 188.58 182.59 188.66 182.37 188.73 182.64 188.81 182.82 188.89 182.8 188.96 182.47 189.04 182.1 189.11 182.43 189.19 182.42 189.27 181.82 189.34 182.34 189.42 182.89 189.5 182.48 189.57 182.7 189.65 182.92 189.72 182.69 189.8 183.24 189.88 183.77 189.95 183.35 190.03 182.43 190.1 182.01 190.18 182.7 190.26 183.34 190.33 183.24 190.41 182.87 190.49 182.51 190.56 182.67 190.64 182.79 190.71 182.41 190.79 182.23 190.87 182.2 190.94 182.42 191.02 182.79 191.1 182.95 191.17 182.9 191.25 182.36 191.32 182.17 191.4 182.88 191.48 183.29 191.55 182.98 191.63 182.86 191.7 182.74 191.78 182.15 191.86 182.2 191.93 182.64 192.01 182.45 192.09 182.48 192.16 182.91 192.24 183.13 192.31 183.1 192.39 183.04 192.47 182.92 192.54 182.68 192.62 182.72 192.7 182.82 192.77 182.8 192.85 182.83 192.92 182.74 193 182.72 193.08 182.58 193.15 182.19 193.23 182.25 193.31 182.92 193.38 183.01 193.46 182.16 193.53 181.88 193.61 182.89 193.69 183.51 193.76 182.6 193.84 181.99 193.91 182.63 193.99 183.18 194.07 183.16 194.14 182.97 194.22 182.59 194.3 182.27 194.37 182.65 194.45 183.02 194.52 182.46 194.6 182.25 194.68 182.74 194.75 182.84 194.83 182.77 194.91 182.91 194.98 182.79 195.06 182.54 195.13 182.96 195.21 183.33 195.29 182.91 195.36 182.56 195.44 182.68 195.51 183.04 195.59 183.11 195.67 182.66 195.74 182.23 195.82 181.82 195.9 181.91 195.97 182.56 196.05 182.72 196.12 182.63 196.2 182.91 196.28 183.04 196.35 182.71 196.43 182.75 196.51 183.35 196.58 183.36 196.66 182.7 196.73 182.32 196.81 182.52 196.89 182.59 196.96 182.28 197.04 182.18 197.12 182.16 197.19 182.56 197.27 183.4 197.34 183.35 197.42 182.8 197.5 182.59 197.57 182.31 197.65 182.03 197.72 182.51 197.8 183.5 197.88 183.81 197.95 183.41 198.03 182.72 198.11 182.08 198.18 181.96 198.26 182.25 198.33 182.8 198.41 183.16 198.49 183.01 198.56 183 198.64 182.97 198.72 182.38 198.79 182.02 198.87 182.28 198.94 182.47 199.02 182.66 199.1 182.65 199.17 182.3 199.25 182.76 199.32 183.48 199.4 182.93 199.48 182.2 199.55 182.9 199.63 183.43 199.71 182.74 199.78 182.88 199.86 183.4 199.93 182.76 200.01 182.29 200.09 182.53 200.16 182.45 200.24 182.01 200.32 182 200.39 182.42 200.47 182.67 200.54 182.9 200.62 183.12 200.7 183.14 200.77 183.1 200.85 182.89 200.93 182.51 201 182.41 201.08 182.91 201.15 182.94 201.23 182.22 201.31 182.4 201.38 182.7 201.46 182.26 201.53 182.66 201.61 183.1 201.69 182.52 201.76 182.72 201.84 183.1 201.92 182.13 201.99 181.94 202.07 183.01 202.14 183.33 202.22 183.18 202.3 183.3 202.37 183.43 202.45 183.1 202.53 182.43 202.6 182.46 202.68 182.75 202.75 182.45 202.83 182.31 202.91 182.73 202.98 182.86 203.06 182.35 203.13 182.2 203.21 182.75 203.29 182.85 203.36 182.43 203.44 182.7 203.52 182.92 203.59 182.49 203.67 182.51 203.74 182.44 203.82 182.32 203.9 182.47 203.97 182.29 204.05 182.79 204.13 183.33 204.2 182.75 204.28 182.7 204.35 183.16 204.43 183.09 204.51 182.99 204.58 182.86 204.66 182.69 204.74 182.85 204.81 182.68 204.89 182.46 204.96 182.76 205.04 182.65 205.12 182.62 205.19 182.93 205.27 182.83 205.34 182.88 205.42 182.96 205.5 182.74 205.57 182.68 205.65 182.62 205.73 182.58 205.8 182.45 205.88 182.23 205.95 182.28 206.03 182.35 206.11 182.38 206.18 182.47 206.26 182.67 206.34 182.97 206.41 182.79 206.49 182.57 206.56 182.84 206.64 182.95 206.72 182.99 206.79 182.99 206.87 182.78 206.94 182.64 207.02 182.64 207.1 182.86 207.17 182.91 207.25 182.77 207.33 182.82 207.4 182.74 207.48 182.65 207.55 182.69 207.63 182.48 207.71 182.25 207.78 182.6 207.86 183.05 207.94 182.9 208.01 182.55 208.09 182.43 208.16 182.47 208.24 182.63 208.32 182.73 208.39 182.65 208.47 182.57 208.55 182.64 208.62 182.69 208.7 182.7 208.77 182.76 208.85 182.92 208.93 183.03 209 182.87 209.08 182.89 209.15 182.97 209.23 182.76 209.31 182.95 209.38 182.93 209.46 182.14 209.54 181.99 209.61 182.65 209.69 182.84 209.76 182.71 209.84 183.01 209.92 182.82 209.99 182.21 210.07 182.55 210.15 183 210.22 182.94 210.3 183.01 210.37 182.72 210.45 182.24 210.53 182.46 210.6 182.93 210.68 182.63 210.75 182.29 210.83 182.92 210.91 182.99 210.98 182.38 211.06 182.43 211.14 182.31 211.21 182.23 211.29 182.82 211.36 183 211.44 183.02 211.52 183.22 211.59 182.86 211.67 182.56 211.75 182.92 211.82 183 211.9 182.69 211.97 182.54 212.05 182.47 212.13 182.46 212.2 182.5 212.28 182.65 212.36 182.92 212.43 183.04 212.51 182.93 212.58 182.77 212.66 182.56 212.74 182.44 212.81 182.53 212.89 182.77 212.96 182.91 213.04 182.47 213.12 182.33 213.19 182.91 213.27 182.86 213.35 182.49 213.42 182.55 213.5 182.49 213.57 182.55 213.65 182.97 213.73 183.05 213.8 182.8 213.88 182.81 213.96 182.84 214.03 182.64 214.11 182.67 214.18 182.87 214.26 182.83 214.34 182.64 214.41 182.73 214.49 182.94 214.56 182.63 214.64 182.4 214.72 182.82 214.79 182.94 214.87 182.55 214.95 182.32 215.02 182.3 215.1 182.24 215.17 182.1 215.25 182.35 215.33 182.9 215.4 183.03 215.48 182.98 215.56 183.25 215.63 183.3 215.71 182.72 215.78 182.5 215.86 183.09 215.94 183.46 216.01 182.91 216.09 182.01 216.17 181.77 216.24 182.31 216.32 182.81 216.39 182.88 216.47 182.84 216.55 182.82 216.62 182.79 216.7 182.91 216.77 182.93 216.85 182.83 216.93 182.52 217 182.45 217.08 182.72 217.16 182.38 217.23 182.3 217.31 182.97 217.38 182.94 217.46 182.54 217.54 182.59 217.61 182.6 217.69 182.65 217.77 182.92 217.84 182.95 217.92 182.75 217.99 182.56 218.07 182.22 218.15 182.17 218.22 182.82 218.3 183.37 218.37 183.48 218.45 183.17 218.53 182.48 218.6 182.07 218.68 182.08 218.76 182.45 218.83 182.9 218.91 182.97 218.98 182.95 219.06 182.97 219.14 182.76 219.21 182.39 219.29 182.59 219.37 183.29 219.44 183.25 219.52 182.6 219.59 182.24 219.67 182.25 219.75 182.6 219.82 182.72 219.9 182.46 219.98 182.65 220.05 183.04 220.13 182.84 220.2 182.48 220.28 182.65 220.36 182.95 220.43 182.8 220.51 182.42 220.58 182.28 220.66 182.38 220.74 182.57 220.81 182.76 220.89 182.96 220.97 182.92 221.04 182.77 221.12 182.92 221.19 182.78 221.27 182.53 221.35 182.99 221.42 182.98 221.5 182.68 221.58 183.05 221.65 182.62 221.73 182.31 221.8 183.03 221.88 182.89 221.96 182.56 222.03 182.58 222.11 182.29 222.18 182.43 222.26 182.7 222.34 182.6 222.41 182.73 222.49 182.8 222.57 182.54 222.64 182.46 222.72 182.65 222.79 182.74 222.87 182.67 222.95 182.76 223.02 182.92 223.1 182.99 223.18 182.83 223.25 182.55 223.33 182.75 223.4 183.02 223.48 182.94 223.56 182.8 223.63 182.55 223.71 182.62 223.79 182.86 223.86 182.58 223.94 182.37 224.01 182.48 224.09 182.65 224.17 182.8 224.24 182.74 224.32 182.65 224.39 182.54 224.47 182.4 224.55 182.6 224.62 182.9 224.7 182.99 224.78 183.07 224.85 182.91 224.93 182.34 225 182.27 225.08 182.92 225.16 182.88 225.23 182.22 225.31 182.31 225.39 182.86 225.46 183.07 225.54 183.01 225.61 182.75 225.69 182.58 225.77 182.81 225.84 183 225.92 182.9 225.99 182.75 226.07 182.53 226.15 182.4 226.22 182.72 226.3 182.84 226.38 182.45 226.45 182.43 226.53 182.66 226.6 182.62 226.68 182.82 226.76 183.01 226.83 182.71 226.91 182.65 226.99 182.82 227.06 182.75 227.14 182.7 227.21 182.67 227.29 182.55 227.37 182.59 227.44 182.71 227.52 182.69 227.59 182.63 227.67 182.79 227.75 182.81 227.82 182.27 227.9 182.26 227.98 182.89 228.05 182.99 228.13 182.82 228.2 182.67 228.28 182.65 228.36 182.95 228.43 183.1 228.51 182.94 228.59 182.59 228.66 182.36 228.74 182.48 228.81 182.64 228.89 182.73 228.97 182.75 229.04 182.73 229.12 182.72 229.2 182.74 229.27 182.96 229.35 182.99 229.42 182.52 229.5 182.48 229.58 182.89 229.65 182.64 229.73 182.37 229.8 182.73 229.88 182.87 229.96 182.68 230.03 182.53 230.11 182.49 230.19 182.53 230.26 182.52 230.34 182.65 230.41 182.92 230.49 182.95 230.57 183.02 230.64 183.08 230.72 182.59 230.8 182.29 230.87 182.64 230.95 182.73 231.02 182.7 231.1 182.91 231.18 182.68 231.25 182.41 231.33 182.58 231.41 182.68 231.48 182.84 231.56 182.89 231.63 182.54 231.71 182.5 231.79 182.64 231.86 182.63 231.94 182.85 232.01 182.91 232.09 182.82 232.17 183.02 232.24 182.72 232.32 182.31 232.4 182.63 232.47 182.67 232.55 182.64 232.62 182.95 232.7 182.82 232.78 182.69 232.85 182.79 232.93 182.58 233.01 182.51 233.08 182.72 233.16 182.66 233.23 182.35 233.31 182.48 233.39 182.93 233.46 182.92 233.54 182.72 233.61 182.76 233.69 182.78 233.77 182.73 233.84 182.81 233.92 182.9 234 182.78 234.07 182.53 234.15 182.47 234.22 182.6 234.3 182.77 234.38 182.73 234.45 182.52 234.53 182.63 234.61 182.84 234.68 182.74 234.76 182.59 234.83 182.65 234.91 182.79 234.99 182.72 235.06 182.65 235.14 182.72 235.22 182.74 235.29 182.7 235.37 182.7 235.44 182.85 235.52 182.82 235.6 182.57 235.67 182.6 235.75 182.74 235.82 182.75 235.9 182.73 235.98 182.61 236.05 182.56 236.13 182.65 236.21 182.71 236.28 182.73 236.36 182.76 236.43 182.8 236.51 182.65 236.59 182.56 236.66 182.69 236.74 182.66 236.82 182.55 236.89 182.69 236.97 182.85 237.04 182.85 237.12 182.91 237.2 182.88 237.27 182.76 237.35 182.79 237.42 182.65 237.5 182.57 237.58 182.76 237.65 182.57 237.73 182.52 237.81 182.82 237.88 182.55 237.96 182.48 238.03 182.86 238.11 182.72 238.19 182.59 238.26 182.67 238.34 182.53 238.42 182.65 238.49 182.9 238.57 182.83 238.64 182.69 238.72 182.75 238.8 182.88 238.87 182.78 238.95 182.53 239.03 182.42 239.1 182.51 239.18 182.56 239.25 182.57 239.33 182.77 239.41 182.96 239.48 183.04 239.56 182.98 239.63 182.83 239.71 182.83 239.79 182.73 239.86 182.63 239.94 182.73 240.02 182.63 240.09 182.47 240.17 182.56 240.24 182.69 240.32 182.71 240.4 182.63 240.47 182.51 240.55 182.46 240.63 182.58 240.7 182.77 240.78 182.85 240.85 182.94 240.93 183.01 241.01 182.9 241.08 182.62 241.16 182.43 241.23 182.43 241.31 182.44 241.39 182.59 241.46 182.81 241.54 182.68 241.62 182.62 241.69 182.8 241.77 182.85 241.84 182.84 241.92 182.83 242 182.91 242.07 182.97 242.15 182.83 242.23 182.69 242.3 182.68 242.38 182.69 242.45 182.67 242.53 182.63 242.61 182.59 242.68 182.52 242.76 182.5 242.84 182.51 242.91 182.49 242.99 182.53 243.06 182.73 243.14 182.88 243.22 182.76 243.29 182.67 243.37 182.82 243.44 182.89 243.52 182.86 243.6 182.71 243.67 182.56 243.75 182.62 243.83 182.69 243.9 182.64 243.98 182.58 244.05 182.64 244.13 182.83 244.21 182.87 244.28 182.78 244.36 182.83 244.44 182.91 244.51 182.94 244.59 182.77 244.66 182.47 244.74 182.43 244.82 182.55 244.89 182.57 244.97 182.62 245.04 182.82 245.12 182.91 245.2 182.78 245.27 182.63 245.35 182.56 245.43 182.69 245.5 182.78 245.58 182.52 245.65 182.43 245.73 182.68 245.81 182.73 245.88 182.72 245.96 182.9 246.04 182.9 246.11 182.68 246.19 182.71 246.26 182.84 246.34 182.79 246.42 182.72 246.49 182.6 246.57 182.53 246.65 182.55 246.72 182.5 246.8 182.57 246.87 182.77 246.95 182.81 247.03 182.64 247.1 182.56 247.18 182.72 247.25 182.83 247.33 182.86 247.41 182.89 247.48 182.87 247.56 182.81 247.64 182.76 247.71 182.66 247.79 182.62 247.86 182.74 247.94 182.8 248.02 182.63 248.09 182.47 248.17 182.57 248.25 182.8 248.32 182.82 248.4 182.59 248.47 182.48 248.55 182.61 248.63 182.75 248.7 182.75 248.78 182.66 248.85 182.66 248.93 182.74 249.01 182.72 249.08 182.72 249.16 182.78 249.24 182.72 249.31 182.7 249.39 182.73 249.46 182.77 249.54 182.78 249.62 182.71 249.69 182.68 249.77 182.64 249.85 182.57 249.92 182.6 250 182.66 250.07 182.67 250.15 182.68 250.23 182.67 250.3 182.69 250.38 182.77 250.46 182.84 250.53 182.85 250.61 182.82 250.68 182.72 250.76 182.64 250.84 182.6 250.91 182.6 250.99 182.67 251.06 182.74 251.14 182.72 251.22 182.61 251.29 182.58 251.37 182.73 251.45 182.71 251.52 182.58 251.6 182.62 251.67 182.76 251.75 182.85 251.83 182.87 251.9 182.82 251.98 182.79 252.06 182.83 252.13 182.84 252.21 182.75 252.28 182.65 252.36 182.58 252.44 182.54 252.51 182.56 252.59 182.57 252.66 182.53 252.74 182.57 252.82 182.66 252.89 182.68 252.97 182.83 253.05 182.89 253.12 182.7 253.2 182.65 253.27 182.75 253.35 182.8 253.43 182.74 253.5 182.67 253.58 182.76 253.66 182.74 253.73 182.53 253.81 182.67 253.88 182.88 253.96 182.6 254.04 182.39 254.11 182.7 254.19 182.91 254.27 182.74 254.34 182.72 254.42 182.9 254.49 182.7 254.57 182.45 254.65 182.73 254.72 182.92 254.8 182.66 254.87 182.6 254.95 182.78 255.03 182.74 255.1 182.58 255.18 182.66 255.26 182.74 255.33 182.63 255.41 182.66 255.48 182.79 255.56 182.71 255.64 182.6 255.71 182.67 255.79 182.76 255.87 182.79 255.94 182.74 256.02 182.59 256.09 182.62 256.17 182.71 256.25 182.66 256.32 182.7 256.4 182.75 256.47 182.71 256.55 182.72 256.63 182.75 256.7 182.73 256.78 182.68 256.86 182.73 256.93 182.78 257.01 182.74 257.08 182.75 257.16 182.68 257.24 182.56 257.31 182.6 257.39 182.65 257.47 182.64 257.54 182.63 257.62 182.67 257.69 182.7 257.77 182.7 257.85 182.73 257.92 182.81 258 182.88 258.08 182.82 258.15 182.61 258.23 182.5 258.3 182.58 258.38 182.77 258.46 182.84 258.53 182.8 258.61 182.84 258.68 182.83 258.76 182.67 258.84 182.54 258.91 182.53 258.99 182.63 259.07 182.74 259.14 182.78 259.22 182.68 259.29 182.63 259.37 182.69 259.45 182.6 259.52 182.54 259.6 182.72 259.68 182.9 259.75 182.95 259.83 182.78 259.9 182.57 259.98 182.64 260.06 182.78 260.13 182.74 260.21 182.58 260.28 182.56 260.36 182.66 260.44 182.71 260.51 182.73 260.59 182.71 260.67 182.65 260.74 182.67 260.82 182.72 260.89 182.74 260.97 182.75 261.05 182.71 261.12 182.72 261.2 182.76 261.28 182.69 261.35 182.65 261.43 182.72 261.5 182.74 261.58 182.71 261.66 182.66 261.73 182.64 261.81 182.76 261.88 182.81 261.96 182.63 262.04 182.58 262.11 182.74 262.19 182.72 262.27 182.6 262.34 182.66 262.42 182.75 262.49 182.69 262.57 182.64 262.65 182.76 262.72 182.85 262.8 182.78 262.88 182.69 262.95 182.56 263.03 182.59 263.1 182.83 263.18 182.89 263.26 182.66 263.33 182.54 263.41 182.66 263.49 182.72 263.56 182.74 263.64 182.71 263.71 182.6 263.79 182.73 263.87 182.83 263.94 182.7 264.02 182.7 264.09 182.73 264.17 182.65 264.25 182.63 264.32 182.68 264.4 182.76 264.48 182.74 264.55 182.61 264.63 182.6 264.7 182.7 264.78 182.67 264.86 182.61 264.93 182.71 265.01 182.81 265.09 182.77 265.16 182.69 265.24 182.67 265.31 182.68 265.39 182.8 265.47 182.93 265.54 182.78 265.62 182.6 265.7 182.74 265.77 182.89 265.85 182.72 265.92 182.54 266 182.58 266.08 182.59 266.15 182.54 266.23 182.62 266.3 182.82 266.38 182.86 266.46 182.7 266.53 182.57 266.61 182.55 266.69 182.58 266.76 182.67 266.84 182.82 266.91 182.89 266.99 182.86 267.07 182.75 267.14 182.61 267.22 182.55 267.3 182.53 267.37 182.52 267.45 182.6 267.52 182.69" fill="none" stroke="#000" stroke-width="0.62" stroke-linejoin="round"/>
<rect x="39" y="151.5" width="228.6" height="62" fill="none" stroke="#222" stroke-width="0.75"/>
<line x1="39" x2="39" y1="213.5" y2="216.2" stroke="#222" stroke-width="0.7"/>
<text x="39" y="225" font-size="7.6" text-anchor="middle">0</text>
<line x1="77.1" x2="77.1" y1="213.5" y2="216.2" stroke="#222" stroke-width="0.7"/>
<text x="77.1" y="225" font-size="7.6" text-anchor="middle">5</text>
<line x1="115.2" x2="115.2" y1="213.5" y2="216.2" stroke="#222" stroke-width="0.7"/>
<text x="115.2" y="225" font-size="7.6" text-anchor="middle">10</text>
<line x1="153.3" x2="153.3" y1="213.5" y2="216.2" stroke="#222" stroke-width="0.7"/>
<text x="153.3" y="225" font-size="7.6" text-anchor="middle">15</text>
<line x1="191.4" x2="191.4" y1="213.5" y2="216.2" stroke="#222" stroke-width="0.7"/>
<text x="191.4" y="225" font-size="7.6" text-anchor="middle">20</text>
<line x1="229.5" x2="229.5" y1="213.5" y2="216.2" stroke="#222" stroke-width="0.7"/>
<text x="229.5" y="225" font-size="7.6" text-anchor="middle">25</text>
<line x1="267.6" x2="267.6" y1="213.5" y2="216.2" stroke="#222" stroke-width="0.7"/>
<text x="267.6" y="225" font-size="7.6" text-anchor="middle">30</text>
<line x1="36.3" x2="39" y1="162.25" y2="162.25" stroke="#222" stroke-width="0.7"/>
<text x="32.8" y="164.95" font-size="7.6" text-anchor="end">10</text>
<line x1="36.3" x2="39" y1="182.7" y2="182.7" stroke="#222" stroke-width="0.7"/>
<text x="32.8" y="185.4" font-size="7.6" text-anchor="end">0</text>
<line x1="36.3" x2="39" y1="203.15" y2="203.15" stroke="#222" stroke-width="0.7"/>
<text x="32.8" y="205.85" font-size="7.6" text-anchor="end">−10</text>
<rect x="47.2" y="155.5" width="15" height="11.4" rx="1.9" fill="#fff" stroke="#111" stroke-width="0.9"/>
<text x="54.7" y="163.5" font-size="6.7" font-weight="bold" stroke-width="0.1" text-anchor="middle">(e)</text>
<rect x="198.9" y="154.4" width="65.6" height="10.6" rx="1.5" fill="#fff" fill-opacity="0.85" stroke="#333" stroke-width="0.75"/>
<line x1="201.2" x2="211.2" y1="159.7" y2="159.7" stroke="#222" stroke-width="0.5"/>
<text x="262.9" y="161.7" font-size="5.55" stroke-width="0.12" text-anchor="end">Recovered signal</text>
<clipPath id="cr0"><rect x="313" y="4.3" width="229" height="61.1"/></clipPath>
<g clip-path="url(#cr0)">
<rect x="313" y="3.3" width="229" height="63.1" fill="#440154" stroke="none"/>
<g transform="translate(313.5 65.4) scale(1 -1)" shape-rendering="crispEdges" fill="none" stroke-width="1">
<path stroke="#481467" d="M4 11v4M6 9v4M8 33v8M11 14v16M12 9v9M14 21v4M15 6v6M19 11v8M19 33v5M21 19v1M21 24v7M22 20v7M23 28v3M25 13v8M26 9v9M26 22v4M26 36v3M27 6v6M27 16v8M29 20v1M30 22v9M33 21v4M34 4v5M35 24v10M36 14v5M37 13v5M38 16v4M39 7v1M39 18v10M40 11v4M42 17v11M43 11v7M44 12v4M45 23v3M46 25v10M47 28v8M51 18v4M52 16v5M52 28v4M55 13v5M55 34v5M56 32v6M57 14v11M58 21v6M59 0v8M59 25v16M60 48v5M61 53v3M62 59v4M63 61v2M64 59v2M65 61v2M68 58v3M69 58v2M70 55v4M71 57v3M72 59v2M73 55v5M74 57v2M75 59v4M76 60v3M77 59v1M78 58v5M79 59v1M80 60v3M82 59v2M83 60v3M85 59v4M86 61v2M87 59v4M90 57v6M91 57v2M92 54v3M93 56v2M94 57v2M95 57v2M96 56v3M97 53v2M98 57v2M99 55v4M100 55v1M101 55v3M102 57v2M103 57v2M104 57v6M105 60v1M106 57v6M107 58v2M108 58v3M109 55v6M110 57v2M111 55v4M112 57v4M113 36v3M113 43v12M114 52v3M115 45v4M115 50v8M116 48v12M117 57v3M118 0v2M118 48v2M119 49v4M120 48v6M121 52v3M122 52v3M123 49v4M124 44v4M125 37v2M125 53v3M126 46v3M126 50v4M127 47v2M128 46v4M129 48v5M130 41v5M131 49v4M132 51v2M133 47v2M134 45v7M135 51v3M136 53v2M137 39v4M138 47v6M139 49v7M140 2v1M140 49v5M141 23v2M141 45v5M142 36v3M142 41v9M143 34v4M143 40v5M144 0v1M144 50v3M145 0v1M145 23v2M145 45v4M146 0v2M146 25v4M146 47v2M147 48v2M148 20v7M148 46v2M149 17v4M149 47v4M150 47v4M151 35v17M152 0v2M152 40v12M153 20v14M153 40v12M154 10v6M154 39v3M155 2v3M155 42v3M156 40v5M157 40v3M158 42v11M159 36v11M160 44v3M161 20v6M161 43v7M162 0v1M162 47v3M163 47v6M164 19v7M164 43v9M165 17v2M165 49v3M166 15v2M166 33v8M166 49v4M167 15v1M167 21v17M167 43v8M168 28v16M169 7v6M169 31v9M170 43v9M171 1v4M171 45v7M172 48v4M173 1v3M173 25v15M174 0v3M174 45v5M175 9v5M175 21v7M175 40v3M176 39v3M177 0v1M177 36v3M178 0v4M178 47v5M179 2v3M179 28v22M180 0v2M180 36v15M181 38v5M182 25v8M182 50v3M183 50v3M184 12v2M184 33v3M184 39v12M185 0v1M185 31v19M186 1v2M186 43v3M187 0v2M187 13v3M187 30v3M187 44v3M188 0v5M188 31v2M188 42v6M189 0v2M189 38v15M190 2v2M190 41v7M191 0v1M191 44v5M192 0v12M192 28v7M192 47v3M193 0v7M193 23v5M193 30v5M193 49v2M194 0v3M194 42v8M195 0v4M195 12v5M195 35v7M196 18v10M196 36v3M197 6v11M197 18v25M198 0v1M198 16v4M198 29v9M198 45v4M199 0v3M199 9v12M199 30v3M199 48v3M200 0v1M200 20v6M200 34v3M201 26v18M202 1v2M202 24v19M203 12v24M204 15v5M204 31v7M205 0v3M205 17v5M205 32v3M206 0v5M206 34v10M207 0v2M207 24v6M207 38v7M208 23v3M208 30v9M209 8v9M209 33v3M210 1v10M210 17v11M210 29v6M211 0v4M211 14v10M212 0v3M212 9v3M212 16v20M213 14v2M213 18v12M214 0v1M214 12v8M214 22v8M214 36v12M215 3v7M215 42v1M216 15v12M216 41v2M217 7v29M217 37v7M218 0v4M218 11v13M219 0v7M219 30v4M220 1v4M220 22v3M220 31v4M221 2v3M221 15v1M221 32v3M222 22v10M223 7v6M223 18v8M223 37v5M224 10v5M224 31v13M225 5v5M225 12v16M225 33v14M226 0v3M226 8v10M226 31v10M227 0v2M227 37v3M228 0v2M228 22v2"/>
<path stroke="#482071" d="M60 43v5M61 51v2M62 58v1M63 58v3M64 58v1M65 60v1M67 60v3M68 56v2M69 57v1M70 54v1M71 56v1M72 57v2M74 55v2M75 56v3M76 59v1M77 58v1M78 56v2M79 58v1M80 59v1M81 59v4M82 58v1M83 59v1M84 60v3M86 60v1M87 56v3M88 60v3M89 61v2M90 56v1M91 55v2M92 49v5M93 54v2M94 56v1M95 56v1M96 55v1M97 52v1M98 56v1M99 52v3M100 54v1M101 54v1M102 56v1M103 55v2M104 53v4M105 59v1M106 55v2M107 57v1M108 56v2M109 0v2M109 54v1M110 56v1M111 52v3M112 55v2M113 39v4M114 51v1M115 43v2M115 49v1M116 44v4M117 54v3M118 2v1M118 46v2M119 32v8M119 47v2M120 32v6M120 44v4M121 48v4M122 49v3M123 0v2M123 38v1M123 45v4M124 26v5M124 41v3M125 35v2M125 39v4M125 49v4M126 0v2M126 45v1M127 0v1M127 46v1M128 41v5M129 31v17M130 39v2M131 38v11M132 43v8M133 0v1M133 46v1M134 43v2M135 49v2M136 0v2M136 52v1M137 0v2M137 19v5M137 36v3M138 15v1M138 45v2M139 47v2M140 3v1M140 47v2M141 20v3M141 25v2M141 43v2M142 24v1M142 35v1M143 0v1M143 32v2M144 1v1M144 47v3M145 1v2M145 19v4M145 25v2M145 44v1M146 2v2M146 23v2M146 29v1M146 46v1M147 28v4M147 42v6M148 18v2M148 27v2M148 44v2M149 15v2M149 21v3M149 34v1M149 44v3M150 14v3M150 45v2M151 33v2M152 2v3M152 27v13M153 0v3M153 18v2M153 34v6M154 0v2M154 8v2M154 16v2M154 37v2M155 5v4M155 10v7M155 41v1M156 0v1M156 12v5M156 29v11M157 0v1M157 37v3M158 0v3M158 31v11M159 0v6M159 27v9M160 0v1M160 18v1M160 43v1M161 0v1M161 18v2M161 26v2M161 41v2M162 1v3M162 21v5M162 27v5M162 45v2M163 22v4M163 42v5M164 7v12M164 26v2M164 39v4M165 14v3M165 19v7M165 35v5M165 47v2M166 0v5M166 13v2M166 41v8M167 13v2M167 16v5M168 0v28M169 0v7M169 13v3M169 25v6M170 0v2M170 25v8M170 41v2M171 5v8M171 30v3M171 43v2M172 0v2M172 25v10M172 46v2M173 4v2M173 22v3M174 3v16M174 30v4M174 40v5M175 0v9M175 14v7M175 28v3M175 37v3M176 22v5M176 37v2M177 1v1M177 35v1M178 4v2M178 12v2M178 22v6M178 42v5M179 5v1M179 26v2M180 2v2M180 34v2M181 0v6M181 35v3M182 9v5M182 22v3M182 33v2M182 47v3M183 0v1M183 8v6M183 23v14M183 47v3M184 0v2M184 9v3M184 14v9M184 31v2M185 1v4M185 7v5M185 25v6M186 3v2M186 41v2M187 2v2M187 11v2M187 16v2M187 28v2M187 33v11M188 5v26M188 33v9M189 2v2M189 32v6M190 4v3M190 14v7M190 37v4M191 1v3M191 21v11M191 38v6M192 12v1M192 26v2M192 35v4M192 44v3M193 7v2M193 21v2M193 28v2M193 35v3M193 47v2M194 3v3M194 14v7M194 25v5M194 40v2M195 4v8M195 17v5M195 26v2M195 31v4M196 28v8M197 17v1M198 1v3M198 14v2M198 38v7M199 3v6M199 21v9M199 33v3M199 45v3M200 1v2M200 18v2M200 26v8M201 0v1M201 16v10M202 3v1M202 21v3M203 11v1M204 0v2M204 13v2M204 20v11M205 3v2M205 15v2M205 22v4M205 29v3M206 5v2M206 21v6M206 31v3M207 2v2M207 13v11M207 30v8M208 0v2M208 11v4M208 20v3M208 26v4M209 0v8M209 17v2M209 31v2M211 4v3M211 10v4M212 3v6M212 12v4M213 0v1M213 13v1M214 1v4M214 9v3M214 20v2M214 30v6M215 10v18M215 40v2M216 27v3M216 39v2M218 4v7M219 7v2M219 21v9M220 5v7M220 20v2M220 25v6M221 5v10M221 16v4M221 29v3M223 26v11M224 15v3M224 30v1M225 28v5M226 3v5M226 18v7M226 27v4M227 2v8M227 22v7M227 34v3M228 2v4M228 20v2"/>
<path stroke="#472d7b" d="M60 36v7M61 49v2M62 57v1M63 55v3M65 59v1M66 59v4M67 59v1M68 0v1M68 53v3M69 0v1M69 55v2M70 53v1M71 55v1M72 56v1M73 54v1M74 54v1M75 55v1M76 58v1M78 55v1M79 57v1M80 58v1M81 56v3M82 57v1M83 58v1M85 58v1M86 59v1M87 48v3M87 54v2M88 59v1M89 60v1M90 55v1M91 53v2M92 47v2M93 38v4M93 51v3M95 54v2M96 53v2M97 51v1M98 55v1M99 51v1M100 53v1M101 53v1M102 54v2M103 32v4M103 54v1M104 51v2M105 58v1M106 54v1M107 56v1M108 54v2M109 53v1M110 0v1M110 55v1M111 27v5M111 51v1M112 53v2M113 35v1M114 49v2M115 42v1M116 42v2M117 52v2M118 32v14M119 31v1M119 40v7M120 31v1M120 38v6M121 23v6M121 47v1M122 47v2M123 2v1M123 35v3M123 39v6M124 22v4M124 31v3M124 39v2M125 33v2M125 43v6M126 2v4M126 28v3M126 44v1M127 1v6M127 45v1M128 39v2M129 0v4M129 26v5M130 38v1M131 0v3M131 36v2M132 0v2M132 12v16M132 40v3M133 1v1M133 44v2M134 20v12M134 42v1M135 43v6M136 2v4M136 8v8M136 51v1M137 2v2M137 18v1M137 24v12M138 13v2M138 16v1M138 43v2M139 0v4M139 45v2M140 4v1M140 46v1M141 19v1M141 27v2M141 41v2M142 19v5M142 25v4M142 32v3M143 1v1M143 17v8M143 30v2M144 2v1M144 21v3M144 44v3M145 3v1M145 15v4M145 27v1M145 43v1M146 4v1M146 17v6M146 30v1M146 45v1M147 25v3M147 32v10M148 0v6M148 17v1M148 29v1M148 43v1M149 0v2M149 13v2M149 24v2M149 31v3M149 35v4M149 41v3M150 12v2M150 17v21M150 41v4M151 0v1M151 31v2M152 5v9M152 26v1M153 3v2M153 16v2M154 2v6M154 18v2M154 35v2M155 9v1M155 17v2M155 30v5M155 38v3M156 1v2M156 10v2M156 17v2M156 27v2M157 1v1M157 24v13M158 3v2M158 26v5M159 6v1M159 24v3M160 1v2M160 12v6M160 19v4M160 41v2M161 1v1M161 17v1M161 28v3M161 38v3M162 4v13M162 18v3M162 26v1M162 32v2M162 43v2M163 21v1M163 26v2M163 39v3M164 3v4M164 28v1M164 37v2M165 0v1M165 12v2M165 26v9M165 40v7M166 5v4M166 10v3M167 11v2M169 16v9M170 2v2M170 14v11M170 33v8M171 13v1M171 26v4M171 33v1M171 41v2M172 2v2M172 22v3M172 35v2M172 43v3M173 6v2M173 19v3M174 19v3M174 26v4M174 34v6M175 31v6M176 20v2M176 27v2M176 36v1M177 2v1M177 32v3M178 6v6M178 14v8M178 28v14M179 6v1M179 25v1M180 4v2M180 32v2M181 6v1M181 15v9M181 33v2M182 0v5M182 6v3M182 14v8M182 35v3M182 44v3M183 1v7M183 14v9M183 37v4M183 44v3M184 2v7M184 23v8M185 5v2M185 12v3M185 23v2M186 5v2M186 14v4M186 36v5M187 4v7M187 18v1M187 27v1M189 4v3M189 12v5M189 30v2M190 7v7M190 21v16M191 4v5M191 19v2M191 32v6M192 13v2M192 24v2M192 39v5M193 9v2M193 20v1M193 38v2M193 44v3M194 6v8M194 21v4M194 30v10M195 22v4M195 28v3M198 4v10M199 36v9M200 3v1M200 16v2M201 1v2M201 10v6M202 4v1M202 19v2M203 0v2M203 10v1M204 2v2M204 11v2M205 5v1M205 13v2M205 26v3M206 7v2M206 15v6M206 27v4M207 4v2M207 10v3M208 2v3M208 8v3M208 15v5M209 19v4M209 28v3M211 7v3M213 1v2M213 11v2M214 5v4M215 28v1M215 39v1M216 30v4M216 35v4M219 9v2M219 18v3M220 12v1M220 18v2M221 20v9M224 18v4M224 27v3M226 25v2M227 10v3M227 19v3M227 29v5M228 6v2M228 18v2"/>
<path stroke="#453882" d="M60 34v2M61 47v2M62 56v1M64 57v1M65 58v1M66 58v1M67 0v1M67 57v2M69 54v1M70 40v1M70 51v2M71 54v1M72 47v9M73 53v1M74 53v1M75 54v1M77 57v1M80 57v1M81 54v2M82 0v3M83 57v1M84 59v1M86 58v1M87 47v1M87 51v3M88 58v1M89 59v1M91 51v2M92 46v1M93 42v9M94 28v2M94 55v1M95 52v2M96 36v2M96 52v1M97 50v1M98 53v2M99 43v2M99 48v3M101 0v5M101 52v1M102 53v1M103 31v1M103 36v2M103 53v1M104 50v1M105 57v1M106 53v1M107 55v1M108 21v5M108 53v1M109 2v1M110 1v1M110 54v1M111 26v1M111 32v1M111 50v1M112 0v4M112 51v2M113 0v1M113 34v1M114 47v2M115 41v1M116 41v1M117 50v2M118 3v1M118 31v1M119 0v3M119 30v1M120 30v1M121 22v1M121 29v1M121 46v1M122 25v3M122 44v3M123 3v1M123 17v1M123 30v5M124 0v1M124 21v1M124 34v5M125 32v1M126 6v1M126 31v1M127 7v2M127 44v1M128 0v2M128 37v2M129 4v1M129 25v1M130 37v1M131 3v2M131 9v5M131 34v2M132 2v2M132 10v2M132 28v4M132 35v5M133 2v1M133 43v1M134 19v1M134 32v1M134 41v1M135 40v3M136 6v2M136 16v3M136 50v1M137 4v1M137 16v2M138 17v2M138 41v2M139 4v1M139 41v4M140 5v1M140 32v1M140 45v1M141 0v2M141 18v1M141 29v2M141 37v4M142 18v1M142 29v3M143 15v2M143 25v5M144 3v1M144 18v3M144 24v2M144 37v7M145 4v2M145 11v4M145 28v2M145 42v1M146 5v3M146 14v3M146 31v1M146 44v1M147 0v1M147 23v2M148 6v1M148 16v1M148 30v1M148 42v1M149 2v2M149 11v2M149 26v5M149 39v2M150 0v1M150 11v1M150 38v3M151 1v10M151 29v2M152 14v2M152 24v2M153 5v2M153 11v5M154 20v1M154 34v1M155 19v1M155 29v1M155 35v3M156 3v7M156 19v2M156 26v1M157 2v2M157 13v11M158 5v3M158 24v2M159 7v1M159 23v1M160 3v1M160 10v2M160 23v3M160 39v2M161 2v1M161 16v1M161 31v7M162 17v1M162 34v2M162 41v2M163 0v2M163 19v2M163 28v1M163 38v1M164 0v3M164 29v3M164 34v3M165 1v2M165 10v2M166 9v1M167 0v2M167 10v1M170 4v10M171 14v2M171 24v2M171 34v3M171 39v2M172 4v4M172 18v4M172 37v6M173 8v11M174 22v4M176 0v1M176 18v2M176 29v7M177 3v1M177 30v2M179 7v1M179 24v1M180 6v2M180 30v2M181 7v4M181 12v3M181 24v3M181 30v3M182 5v1M182 38v6M183 41v3M185 15v8M186 7v7M186 18v1M186 32v4M187 19v3M187 24v3M189 7v5M189 17v2M189 28v2M191 9v4M191 17v2M192 15v1M192 23v1M193 11v2M193 18v2M193 40v4M200 4v2M200 15v1M201 3v7M202 5v1M202 17v2M203 2v1M203 8v2M204 4v3M204 8v3M205 6v3M205 11v2M206 9v6M207 6v4M208 5v3M209 23v5M213 3v3M213 9v2M215 29v2M215 37v2M216 34v1M219 11v7M220 13v5M224 22v5M227 13v6M228 8v3M228 16v2"/>
<path stroke="#414287" d="M60 33v1M61 46v1M62 55v1M63 54v1M66 57v1M67 56v1M68 1v1M68 52v1M69 1v1M69 53v1M70 39v1M70 41v1M70 50v1M71 53v1M72 45v2M74 0v1M74 51v2M75 53v1M76 57v1M78 54v1M79 56v1M81 53v1M82 3v1M82 56v1M84 58v1M85 57v1M86 57v1M89 58v1M90 54v1M91 0v1M91 50v1M92 45v1M93 37v1M94 30v1M94 54v1M95 51v1M96 35v1M96 38v1M96 51v1M97 49v1M99 42v1M99 45v3M100 52v1M101 5v1M102 36v1M102 52v1M103 30v1M103 38v2M103 43v5M103 51v2M104 48v2M105 56v1M106 0v1M106 52v1M107 0v1M107 27v6M107 54v1M108 20v1M108 26v5M108 52v1M109 3v1M109 52v1M110 52v2M111 25v1M111 33v1M111 49v1M112 4v1M112 32v5M112 48v3M114 46v1M116 40v1M117 49v1M118 4v1M118 30v1M119 3v2M119 29v1M120 29v1M121 21v1M121 30v1M121 45v1M122 24v1M122 28v2M122 37v7M123 4v1M123 15v2M123 18v2M123 28v2M124 1v1M124 20v1M125 0v1M125 30v2M126 7v1M126 27v1M126 32v1M126 43v1M127 9v8M128 2v1M128 36v1M129 5v1M129 24v1M130 0v1M130 10v2M130 36v1M131 5v4M131 14v3M131 32v2M132 4v6M132 32v3M133 3v2M133 27v3M133 41v2M134 0v2M134 18v1M134 33v2M134 39v2M135 31v3M135 38v2M136 19v5M136 49v1M137 5v4M137 13v3M138 0v1M138 12v1M138 19v12M138 39v2M139 5v1M139 19v5M139 39v2M140 31v1M140 33v1M140 44v1M141 2v2M141 17v1M141 31v6M142 0v1M142 17v1M143 2v1M143 14v1M144 4v1M144 12v6M144 26v11M145 6v5M145 30v1M145 41v1M146 8v6M146 32v1M147 1v2M147 19v4M148 7v2M148 14v2M148 31v2M148 41v1M149 4v1M149 9v2M150 1v2M150 9v2M151 11v8M151 28v1M152 16v8M153 7v4M154 21v2M154 32v2M155 20v1M155 28v1M156 21v5M157 4v1M157 12v1M158 8v1M158 23v1M159 8v1M159 22v1M160 4v6M160 26v3M160 32v7M161 3v1M161 15v1M162 36v5M163 2v2M163 18v1M163 29v2M163 36v2M164 32v2M165 3v7M167 2v3M167 8v2M171 16v8M171 37v2M172 8v10M176 1v2M176 15v3M177 4v1M177 29v1M179 8v1M180 8v5M180 23v7M181 11v1M181 27v3M186 19v1M186 30v2M187 22v2M189 19v1M189 26v2M191 13v4M192 16v7M193 13v5M200 6v1M200 13v2M202 6v2M202 14v3M203 3v5M204 7v1M205 9v2M213 6v3M215 31v3M215 35v2M228 11v5"/>
<path stroke="#3d4d8a" d="M60 32v1M61 45v1M62 54v1M63 53v1M64 56v1M65 57v1M66 0v1M66 56v1M67 1v1M67 53v3M69 52v1M70 42v3M70 48v2M71 52v1M72 44v1M73 0v1M73 52v1M74 1v1M74 48v3M77 56v1M78 0v1M78 53v1M79 55v1M80 56v1M81 9v1M82 4v2M83 56v1M87 46v1M88 57v1M90 53v1M92 0v1M92 44v1M93 36v1M94 27v1M94 31v1M96 34v1M96 39v1M96 50v1M97 48v1M98 13v1M98 52v1M99 41v1M101 51v1M102 34v2M102 37v2M102 51v1M103 28v2M103 40v3M103 48v3M104 28v9M104 42v6M105 0v1M106 21v3M106 50v2M107 26v1M107 33v1M107 53v1M108 0v1M108 19v1M108 31v1M108 51v1M109 51v1M110 2v1M110 51v1M111 34v2M111 43v2M111 46v3M112 5v1M112 37v2M112 46v2M113 1v1M113 33v1M114 36v2M114 44v2M115 40v1M117 47v2M118 5v1M118 29v1M119 5v1M120 0v1M120 28v1M121 20v1M121 31v1M121 44v1M122 22v2M122 30v2M122 35v2M123 5v2M123 13v2M123 20v2M123 26v2M124 2v1M125 1v1M125 18v6M125 29v1M126 8v1M126 33v1M126 42v1M127 17v4M127 43v1M128 3v1M128 12v2M128 34v2M129 6v1M130 1v2M130 9v1M130 12v1M130 35v1M131 17v5M131 30v2M133 5v1M133 25v2M133 30v2M133 39v2M134 2v1M134 17v1M134 35v4M135 0v1M135 15v9M135 28v3M135 34v4M136 24v3M136 30v4M136 48v1M137 9v4M138 1v1M138 11v1M138 31v8M139 6v1M139 18v1M139 24v5M139 38v1M140 6v1M140 30v1M140 34v1M140 43v1M141 4v1M143 3v1M143 13v1M144 5v2M144 10v2M145 31v1M145 40v1M146 33v1M146 43v1M147 3v1M147 17v2M148 9v2M148 12v2M148 33v2M148 38v3M149 5v4M150 3v2M150 8v1M151 19v2M151 26v2M154 23v3M154 30v2M155 21v2M155 26v2M157 5v1M157 11v1M158 9v1M158 21v2M159 21v1M160 29v3M161 4v1M161 13v2M163 4v3M163 16v2M163 31v5M167 5v3M176 3v1M176 13v2M177 5v2M177 13v3M177 27v2M179 9v1M179 23v1M180 13v1M180 22v1M186 20v2M186 28v2M189 20v6M200 7v6M202 8v6M215 34v1"/>
<path stroke="#39568c" d="M60 30v2M66 1v1M66 55v1M67 52v1M68 51v1M69 2v1M69 43v6M69 50v2M70 38v1M70 45v3M72 0v2M72 43v1M73 1v1M73 51v1M74 2v1M74 44v4M75 52v1M78 1v1M80 55v1M81 0v9M81 10v1M81 52v1M82 55v1M84 57v1M86 56v1M89 57v1M91 1v1M91 49v1M92 43v1M94 32v1M94 53v1M95 50v1M96 32v2M96 40v1M96 49v1M97 0v1M97 47v1M98 12v1M98 51v1M99 13v1M100 51v1M101 6v1M102 39v1M103 27v1M104 37v5M105 55v1M106 20v1M106 24v1M106 48v2M107 1v1M107 12v3M107 24v2M107 34v1M108 17v2M108 32v1M110 49v2M111 24v1M111 36v1M111 40v3M111 45v1M112 6v1M112 31v1M112 39v2M112 43v3M114 0v1M114 11v1M114 35v1M114 38v6M115 0v1M115 39v1M116 39v1M117 26v3M117 39v8M118 6v1M118 28v1M119 6v2M119 28v1M120 1v2M120 5v3M120 27v1M121 18v2M121 32v1M121 43v1M122 15v7M122 32v3M123 7v2M123 12v1M123 22v4M124 19v1M125 17v1M125 24v5M126 9v1M126 26v1M126 34v1M126 41v1M127 21v2M128 4v1M128 10v2M128 14v1M128 33v1M129 7v1M129 23v1M130 3v1M130 7v2M130 13v1M130 34v1M131 22v1M131 29v1M133 6v2M133 24v1M133 32v7M134 3v2M134 16v1M135 1v1M135 13v2M135 24v4M136 27v3M136 34v1M136 47v1M138 2v1M138 10v1M139 17v1M139 29v2M139 37v1M140 29v1M140 35v1M140 42v1M141 5v1M141 16v1M142 1v1M142 16v1M143 4v1M143 12v1M144 7v3M145 32v2M145 39v1M146 34v1M146 42v1M147 4v2M147 8v5M147 14v3M148 11v1M148 35v3M150 5v3M151 21v5M154 26v4M155 23v3M157 6v5M158 10v1M158 19v2M159 9v1M161 5v2M161 12v1M163 7v9M176 4v1M176 11v2M177 7v1M177 11v2M177 16v2M177 26v1M179 10v1M179 22v1M180 14v2M180 21v1M186 22v6"/>
<path stroke="#34608d" d="M60 29v1M61 44v1M62 53v1M63 52v1M65 56v1M66 2v1M66 54v1M67 2v1M67 51v1M68 2v1M69 42v1M69 49v1M71 51v1M72 2v1M72 42v1M73 2v1M74 29v2M74 43v1M76 56v1M77 0v1M78 52v1M79 54v1M80 54v1M81 11v1M82 6v1M83 55v1M85 56v1M86 55v1M88 56v1M90 52v1M91 48v1M92 1v1M92 32v2M92 42v1M93 35v1M94 26v1M95 0v1M96 30v2M96 41v2M96 48v1M97 1v1M97 46v1M98 11v1M98 14v1M98 50v1M99 11v2M101 7v1M101 50v1M102 33v1M102 40v1M102 50v1M103 26v1M104 27v1M105 28v2M105 31v4M106 1v1M106 25v1M106 46v2M107 11v1M107 15v1M107 23v1M107 35v1M107 52v1M108 1v1M108 16v1M108 50v1M109 4v1M109 50v1M110 3v1M110 34v3M111 0v1M111 37v3M112 30v1M112 41v2M113 2v1M114 1v1M114 12v1M115 38v1M116 38v1M117 0v1M117 29v1M117 36v3M118 7v2M118 27v1M119 8v7M120 3v2M120 8v2M120 26v1M121 16v2M121 33v1M121 42v1M122 0v1M122 14v1M123 9v3M124 3v1M124 18v1M125 2v1M125 16v1M126 10v3M126 25v1M126 35v1M126 39v2M127 23v1M127 42v1M128 5v5M128 15v2M128 32v1M130 4v3M130 33v1M131 23v1M131 28v1M133 8v1M134 5v1M134 15v1M135 2v1M135 12v1M136 35v1M136 46v1M139 7v1M139 16v1M139 31v2M139 36v1M140 7v1M140 27v2M140 36v1M140 41v1M141 6v1M145 34v2M145 37v2M146 35v1M146 41v1M147 6v2M147 13v1M158 11v2M158 17v2M159 10v1M159 20v1M161 7v5M176 5v6M177 8v3M177 18v3M177 23v3M179 11v1M179 21v1M180 16v5"/>
<path stroke="#30698e" d="M60 27v2M62 52v1M64 55v1M66 3v1M67 3v1M67 50v1M69 41v1M71 50v1M72 3v1M72 40v2M73 50v1M74 3v1M74 27v2M74 31v1M75 51v1M77 1v1M77 55v1M78 2v1M80 49v5M81 51v1M82 7v1M84 56v1M86 44v3M87 45v1M88 26v3M89 30v2M89 40v3M89 56v1M91 2v1M92 30v2M92 34v2M92 41v1M93 0v1M93 34v1M94 52v1M95 1v1M96 28v2M96 43v5M97 45v1M98 10v1M98 42v3M98 48v2M99 14v1M99 40v1M101 23v2M101 32v3M101 49v1M102 32v1M102 41v1M102 49v1M105 1v1M105 27v1M105 30v1M105 35v1M105 54v1M106 19v1M106 26v1M106 39v7M107 10v1M107 16v1M107 22v1M107 51v1M108 15v1M110 33v1M110 37v1M110 48v1M111 23v1M112 7v1M113 32v1M114 2v1M114 10v1M114 13v1M114 34v1M115 1v1M115 37v1M116 37v1M117 1v1M117 11v1M117 25v1M117 30v2M117 33v3M118 9v5M119 15v1M119 27v1M120 25v1M121 15v1M121 34v2M121 41v1M122 1v1M122 13v1M124 4v1M125 3v1M125 15v1M126 13v1M126 36v3M127 24v6M127 41v1M128 17v2M128 21v5M128 31v1M129 8v1M129 22v1M130 14v1M130 31v2M131 24v4M133 9v1M133 23v1M134 6v2M134 14v1M135 11v1M136 36v1M136 45v1M138 3v1M138 9v1M139 8v1M139 15v1M139 33v3M140 8v1M140 21v6M140 37v4M141 7v1M141 15v1M142 2v1M142 15v1M143 5v1M143 11v1M145 36v1M146 36v5M158 13v4M159 19v1M177 21v2M179 12v1M179 20v1"/>
<path stroke="#2c728e" d="M60 24v3M61 43v1M62 51v1M65 55v1M66 4v2M66 53v1M67 4v1M67 49v1M68 50v1M69 3v1M69 40v1M71 49v1M72 4v3M72 37v3M73 3v1M74 26v1M74 32v1M74 42v1M77 2v1M78 51v1M79 53v1M82 8v1M82 54v1M83 54v1M84 0v1M85 0v1M86 42v2M86 47v1M86 54v1M87 20v4M88 29v1M89 29v1M89 32v1M89 39v1M90 19v2M90 51v1M91 47v1M92 26v4M92 36v5M93 33v1M94 25v1M94 33v1M95 49v1M97 2v1M97 22v4M97 44v1M98 15v1M98 41v1M98 45v3M99 10v1M100 50v1M101 8v1M101 22v1M101 25v1M101 30v2M101 35v4M102 0v1M102 42v1M102 48v1M104 26v1M105 26v1M105 36v1M106 27v1M106 38v1M107 2v1M107 17v2M107 20v2M107 36v1M108 2v1M108 33v1M108 49v1M109 5v1M109 49v1M110 32v1M110 47v1M111 1v1M112 29v1M114 9v1M115 35v2M116 25v2M117 10v1M117 32v1M118 14v2M118 26v1M119 16v1M119 26v1M120 10v1M120 24v1M121 36v5M124 5v1M124 17v1M126 14v1M126 24v1M127 30v2M128 19v2M128 26v5M129 9v1M130 30v1M133 10v1M133 22v1M134 8v6M135 3v1M135 10v1M136 37v2M136 43v2M138 4v2M138 8v1M139 9v1M139 14v1M140 19v2M141 14v1M143 6v5M159 11v1M159 18v1M179 13v1M179 19v1"/>
<path stroke="#297b8e" d="M60 22v2M62 50v1M63 51v1M64 54v1M66 6v1M67 5v1M67 9v1M67 47v2M68 3v1M70 0v1M70 37v1M71 18v1M71 48v1M72 7v1M72 36v1M73 39v3M73 49v1M74 4v1M76 55v1M77 3v1M78 50v1M80 48v1M81 12v1M82 9v1M84 1v1M84 55v1M85 1v1M86 41v1M86 48v1M86 53v1M87 19v1M87 24v3M87 44v1M88 25v1M88 30v1M88 55v1M89 28v1M89 33v1M89 38v1M89 43v1M89 55v1M90 21v1M92 2v1M92 25v1M93 1v1M93 32v1M94 51v1M95 2v1M95 32v1M96 27v1M97 21v1M97 26v5M97 43v1M98 9v1M98 24v4M99 15v1M100 28v2M101 20v2M101 26v4M101 39v2M101 48v1M102 31v1M102 43v5M103 25v1M105 37v1M105 53v1M106 2v1M106 18v1M106 28v1M106 37v1M107 9v1M107 19v1M107 50v1M108 14v1M108 48v1M109 17v3M110 4v1M110 21v3M110 31v1M110 38v1M112 8v1M113 3v1M113 31v1M114 3v1M114 14v1M115 34v1M116 24v1M116 27v2M116 35v2M117 2v1M117 9v1M117 12v1M117 24v1M118 16v1M118 25v1M119 17v2M120 11v1M121 14v1M122 2v1M122 12v1M124 6v1M124 16v1M125 4v1M125 14v1M126 15v1M127 32v1M127 40v1M129 21v1M130 15v1M130 28v2M133 11v1M133 20v2M135 4v1M135 9v1M136 39v4M138 6v2M139 10v4M140 9v1M140 18v1M141 8v1M142 3v1M142 14v1M159 12v1M159 17v1M179 14v2M179 18v1"/>
<path stroke="#25838e" d="M60 20v2M62 49v1M65 54v1M67 6v3M67 10v1M67 45v2M68 49v1M69 39v1M71 0v1M71 16v2M71 19v1M71 36v3M71 47v1M72 35v1M73 4v1M73 32v3M73 37v2M73 42v1M73 48v1M74 25v1M74 33v1M74 41v1M75 50v1M77 54v1M78 3v1M78 43v3M79 52v1M80 0v1M81 50v1M82 10v1M83 53v1M84 13v1M85 2v1M85 55v1M86 49v4M87 18v1M87 27v2M87 31v4M89 18v3M89 27v1M89 34v4M89 44v1M90 50v1M91 3v1M91 46v1M92 24v1M93 27v5M94 16v2M94 24v1M94 34v1M95 26v6M95 33v1M96 0v1M97 3v1M97 31v1M97 42v1M98 8v1M98 16v1M98 23v1M98 28v1M98 40v1M100 22v6M100 30v1M101 9v1M101 41v1M101 47v1M102 1v1M103 11v3M105 2v1M105 25v1M105 38v1M106 29v1M106 36v1M107 3v1M107 37v1M108 3v1M108 34v1M108 45v3M109 16v1M109 48v1M110 20v1M110 24v2M110 29v2M110 39v1M110 46v1M111 2v1M111 22v1M112 9v1M114 4v1M114 8v1M114 33v1M115 33v1M116 29v2M116 33v2M117 3v1M117 8v1M118 17v2M118 23v2M119 19v1M119 25v1M120 23v1M124 7v2M125 13v1M126 16v1M126 23v1M127 33v1M127 39v1M129 10v1M133 12v1M133 19v1M135 5v4M141 9v2M141 12v2M159 13v4M179 16v2"/>
<path stroke="#228c8d" d="M60 0v2M60 19v1M61 42v1M62 47v2M63 50v1M65 29v2M66 7v1M66 52v1M67 11v2M67 43v2M69 4v1M69 38v1M70 1v1M70 16v1M71 1v1M71 15v1M71 20v1M71 35v1M71 39v4M71 45v2M72 8v1M73 5v1M73 13v1M73 35v2M73 43v1M74 5v1M74 40v1M78 42v1M78 46v4M79 51v1M80 47v1M81 13v1M82 11v1M82 53v1M83 0v1M84 12v1M84 54v1M86 40v1M87 29v2M88 24v1M88 31v1M88 54v1M89 21v2M89 26v1M89 54v1M90 18v1M90 32v2M90 49v1M91 45v1M93 26v1M94 15v1M94 18v1M95 3v1M95 34v1M96 26v1M97 20v1M97 32v1M97 41v1M98 0v2M98 7v1M98 17v1M98 22v1M98 29v1M99 9v1M99 39v1M100 0v1M100 21v1M100 49v1M101 10v1M101 18v2M101 42v1M101 46v1M102 30v1M104 25v1M105 24v1M105 39v2M105 52v1M106 17v1M106 30v1M106 35v1M107 8v1M107 38v1M107 49v1M108 13v1M108 43v2M109 6v1M109 15v1M109 20v1M110 5v1M110 18v2M110 26v3M110 40v1M110 45v1M112 28v1M113 4v1M114 5v3M115 2v1M115 24v4M115 32v1M116 23v1M116 31v2M117 4v4M117 13v1M118 19v4M119 20v2M119 24v1M120 12v1M121 0v1M121 13v1M122 3v1M124 9v1M124 14v2M125 5v1M126 22v1M127 34v1M127 38v1M129 11v1M129 20v1M130 16v1M130 27v1M133 13v2M133 17v2M140 10v1M140 17v1M141 11v1M142 13v1"/>
<path stroke="#1f948c" d="M60 2v1M60 18v1M64 53v1M65 0v1M65 28v1M65 31v1M67 13v1M67 42v1M68 4v1M69 30v8M70 14v2M70 17v1M71 14v1M71 21v1M71 43v2M72 34v1M73 6v1M73 11v2M73 31v1M73 44v4M74 24v1M74 34v1M77 53v1M78 41v1M83 52v1M84 2v1M84 14v1M85 3v1M87 17v1M87 35v1M87 43v1M88 23v1M88 32v2M89 17v1M89 23v3M89 45v1M90 0v1M90 22v1M90 34v1M92 3v1M92 23v1M93 2v1M94 19v1M94 23v1M94 50v1M95 48v1M96 1v1M97 33v1M97 40v1M98 2v1M98 5v2M98 18v1M98 21v1M99 16v1M100 1v1M100 31v1M101 11v7M101 43v3M103 24v1M104 0v1M105 41v1M106 3v1M106 31v4M107 4v1M107 7v1M107 48v1M108 4v1M108 12v1M108 35v1M109 14v1M110 13v5M110 41v1M110 44v1M111 3v1M111 21v1M112 10v1M113 30v1M114 15v1M115 23v1M115 28v1M115 31v1M117 23v1M119 22v2M120 22v1M122 11v1M124 10v4M125 12v1M126 17v2M126 21v1M127 35v3M129 12v1M129 19v1M130 26v1M133 15v2M140 11v1M140 16v1M142 4v1"/>
<path stroke="#1e9d89" d="M60 3v1M60 16v2M61 32v1M61 41v1M62 0v1M62 46v1M63 0v1M65 27v1M65 32v1M65 53v1M66 8v1M66 51v1M67 14v2M67 41v1M69 5v1M69 13v2M70 13v1M70 18v1M70 36v1M71 2v1M71 13v1M72 9v1M73 7v4M73 14v1M73 30v1M74 35v1M74 39v1M77 22v1M79 50v1M81 49v1M82 12v1M82 40v1M83 1v1M84 53v1M86 39v1M87 16v1M87 36v1M88 22v1M88 34v2M89 46v1M90 31v1M90 48v1M91 4v1M91 24v5M91 44v1M93 25v1M94 14v1M94 20v3M95 25v1M96 25v1M97 4v1M97 34v1M97 39v1M98 3v2M98 19v2M98 30v1M98 39v1M99 0v1M99 8v1M100 20v1M102 2v1M102 29v1M103 14v1M104 24v1M105 3v1M105 23v1M105 42v1M105 51v1M107 5v2M107 39v1M108 42v1M109 7v1M109 21v1M109 47v1M110 6v1M110 12v1M110 42v2M112 27v1M113 5v1M113 29v1M115 21v2M115 29v2M116 22v1M120 13v1M122 4v1M122 10v1M125 6v1M126 19v2M129 13v1M129 18v1M130 17v1M130 25v1M140 12v4"/>
<path stroke="#21a585" d="M60 4v1M60 14v2M61 33v2M61 40v1M62 1v1M63 49v1M64 52v1M65 1v1M65 33v1M67 16v1M67 38v3M68 48v1M69 12v1M69 15v1M70 2v1M70 12v1M71 3v1M71 12v1M71 34v1M72 33v1M73 15v1M73 19v2M74 6v1M74 36v3M75 49v1M76 54v1M78 4v1M78 40v1M79 49v1M81 14v1M81 30v1M82 39v1M82 41v2M82 52v1M83 51v1M84 3v1M84 11v1M84 15v1M85 4v1M87 15v1M87 42v1M88 0v1M88 36v1M88 53v1M89 53v1M90 23v1M90 35v1M91 23v1M91 43v1M92 13v3M92 22v1M93 15v1M94 0v1M94 35v1M94 49v1M95 4v1M95 35v1M97 19v1M97 35v4M99 1v1M99 17v1M99 38v1M100 32v1M100 48v1M103 10v1M105 22v1M105 43v1M105 50v1M107 47v1M108 5v1M108 11v1M109 13v1M110 11v1M112 11v1M113 14v1M114 16v1M114 32v1M115 3v1M115 16v5M116 0v1M117 14v1M120 14v1M120 21v1M121 1v1M121 12v1M125 7v1M125 11v1M129 14v4M142 5v1M142 12v1"/>
<path stroke="#28ae80" d="M60 5v9M61 35v1M61 39v1M62 2v1M62 45v1M63 1v1M63 26v1M63 34v1M63 48v1M64 0v1M65 26v1M65 34v1M66 9v1M66 50v1M67 17v1M67 37v1M69 6v1M69 29v1M70 11v1M70 19v1M71 4v1M71 11v1M71 22v1M73 16v3M73 21v1M73 29v1M74 23v1M77 4v1M77 21v1M77 23v1M77 52v1M78 39v1M80 46v1M81 31v1M82 13v1M82 43v1M83 50v1M84 52v1M85 54v1M86 19v1M87 11v4M87 37v1M88 21v1M89 47v1M89 52v1M90 1v1M90 30v1M90 36v1M90 47v1M91 22v1M91 29v1M92 4v1M92 16v1M93 14v1M93 16v1M93 24v1M96 2v1M96 24v1M97 5v1M98 31v1M98 38v1M99 2v1M99 7v1M100 2v1M100 19v1M100 33v1M102 3v1M102 28v1M103 23v1M104 1v1M104 16v2M105 44v1M106 16v1M107 40v1M108 36v1M108 41v1M109 8v1M109 12v1M110 7v1M110 10v1M111 4v1M111 20v1M112 26v1M113 6v1M113 10v4M113 15v1M113 27v2M115 15v1M117 22v1M120 15v1M120 20v1M122 5v1M122 9v1M125 8v3M130 18v1M130 24v1"/>
<path stroke="#34b679" d="M61 31v1M61 36v3M63 27v1M63 33v1M63 41v4M63 47v1M64 1v1M64 50v2M65 35v1M65 38v2M65 52v1M67 18v1M68 5v1M69 11v1M71 5v4M71 10v1M72 32v1M74 7v1M79 48v1M81 29v1M81 32v1M81 48v1M82 38v1M82 44v1M82 51v1M83 49v1M84 4v1M84 10v1M84 26v2M85 5v1M86 18v1M87 38v1M87 41v1M88 20v1M88 52v1M89 48v1M89 50v2M90 17v1M90 46v1M91 5v1M91 30v1M91 42v1M92 12v1M92 17v1M92 21v1M93 3v1M93 17v1M94 1v1M94 13v1M95 47v1M99 28v1M100 34v1M100 37v1M100 47v1M103 15v1M104 15v1M104 23v1M105 4v1M105 21v1M105 45v2M105 48v2M106 4v1M107 41v1M107 46v1M108 6v1M108 10v1M108 37v1M108 40v1M109 9v3M109 22v1M109 46v1M110 8v2M113 7v3M113 16v1M113 24v3M114 17v1M115 14v1M116 1v1M116 21v1M117 15v1M120 16v1M120 19v1M121 2v1M122 6v3M130 19v1M130 23v1M142 6v1M142 11v1"/>
<path stroke="#42be71" d="M62 3v3M63 2v1M63 25v1M63 28v1M63 32v1M63 35v1M63 45v2M64 2v1M64 47v3M65 2v1M65 25v1M65 36v2M65 40v1M66 10v1M66 49v1M67 19v4M67 36v1M68 34v1M68 47v1M69 7v2M69 10v1M69 16v1M69 28v1M70 3v1M70 10v1M70 20v1M71 9v1M71 33v1M72 31v1M73 22v1M73 28v1M75 48v1M77 51v1M78 38v1M80 1v1M81 15v1M82 45v1M83 2v1M83 46v3M84 28v1M85 11v1M86 20v1M86 38v1M87 10v1M87 39v2M88 13v1M89 16v1M89 49v1M90 24v1M90 29v1M90 37v1M92 18v3M93 13v1M93 23v1M94 36v1M94 48v1M95 24v1M96 23v1M97 6v1M97 18v1M98 32v1M98 37v1M99 3v2M99 6v1M99 18v1M99 27v1M100 3v1M100 18v1M100 35v2M100 38v1M102 27v1M103 0v1M104 18v1M104 22v1M105 20v1M105 47v1M107 42v4M108 7v3M108 38v2M109 32v3M111 5v1M111 19v1M112 12v1M113 23v1M115 4v1M115 13v1M117 21v1M120 17v2M121 11v1M130 20v3M142 7v1M142 10v1"/>
<path stroke="#54c568" d="M62 44v1M63 24v1M63 29v3M63 36v1M63 40v1M64 3v5M64 46v1M68 6v1M68 35v1M69 9v1M70 35v1M71 23v1M72 10v1M73 23v1M74 8v1M74 12v2M75 0v1M75 26v2M76 53v1M77 50v1M78 16v1M79 47v1M81 28v1M82 14v1M82 37v1M82 46v1M82 50v1M83 35v2M83 45v1M84 5v1M84 9v1M84 16v1M84 25v1M84 29v1M84 51v1M85 6v1M85 10v1M85 12v2M86 0v1M87 0v1M88 14v2M88 19v1M88 37v1M88 51v1M90 25v1M90 38v1M90 45v1M91 6v1M91 21v1M91 41v1M93 18v1M93 22v1M94 2v1M94 12v1M95 5v1M95 36v1M96 3v1M98 33v1M99 5v1M99 26v1M99 29v1M99 37v1M100 39v1M100 46v1M102 4v1M102 26v1M103 9v1M103 22v1M104 14v1M104 19v3M105 11v4M105 16v4M106 15v1M109 23v1M109 35v2M109 45v1M111 13v1M111 18v1M112 25v1M113 17v1M113 22v1M114 18v1M114 31v1M115 12v1M116 20v1M117 16v1M142 8v2"/>
<path stroke="#67cc5c" d="M61 30v1M62 6v1M63 3v1M63 37v1M63 39v1M65 24v1M65 41v1M66 11v1M66 32v1M66 48v1M67 23v1M67 35v1M68 13v3M68 33v1M68 36v1M70 4v1M70 9v1M70 21v1M72 29v2M73 24v1M73 27v1M74 9v3M74 14v1M74 22v1M75 1v1M75 25v1M75 28v1M77 48v2M78 5v1M78 15v1M78 17v1M78 28v1M78 37v1M80 45v1M81 47v1M82 47v3M83 34v1M83 37v1M84 6v1M84 8v1M84 34v2M85 7v3M86 17v1M87 1v1M87 9v1M88 1v1M88 12v1M88 16v3M90 27v2M90 39v1M90 44v1M91 31v1M92 5v1M92 11v1M93 19v3M96 22v1M97 7v1M98 36v1M100 17v1M100 40v1M102 25v1M103 1v1M103 16v1M104 2v1M105 5v1M105 15v1M109 31v1M111 6v1M111 12v1M111 14v2M111 17v1M113 18v1M114 19v1M115 11v1M116 2v1M116 19v1M117 20v1"/>
<path stroke="#7cd250" d="M63 38v1M64 8v1M64 45v1M65 51v1M66 30v2M66 47v1M68 12v1M68 46v1M69 17v1M69 27v1M70 8v1M71 32v1M72 28v1M73 25v2M75 24v1M75 29v1M77 20v1M77 24v1M77 47v1M78 26v2M81 16v1M81 33v1M82 15v1M82 36v1M83 33v1M83 38v1M83 44v1M84 7v1M84 24v1M84 30v2M84 33v1M84 36v1M85 53v1M86 1v1M86 21v1M90 2v1M90 16v1M90 26v1M90 40v1M90 43v1M91 40v1M93 4v1M93 12v1M94 37v1M94 47v1M95 46v1M97 17v1M98 34v2M99 19v1M99 25v1M99 30v1M100 4v1M100 13v4M100 41v1M100 45v1M102 23v2M105 6v1M105 10v1M106 5v1M109 24v1M109 30v1M109 37v1M109 44v1M111 7v1M111 11v1M111 16v1M112 13v1M112 24v1M113 19v3M115 5v1M115 10v1M117 17v3M121 3v1M121 10v1"/>
<path stroke="#93d741" d="M61 0v1M62 7v1M63 4v1M63 23v1M64 9v1M64 34v1M65 3v1M65 42v1M66 12v1M66 33v1M66 46v1M68 7v1M68 37v1M70 5v3M70 22v1M71 24v1M74 15v1M74 21v1M75 2v1M75 23v1M75 47v1M77 5v1M78 18v1M78 25v1M78 29v1M78 36v1M79 35v1M81 46v1M83 3v1M83 43v1M84 32v1M84 50v1M87 2v1M87 8v1M88 38v1M88 50v1M90 41v2M91 7v1M91 20v1M91 32v1M92 6v1M92 10v1M94 3v1M94 11v1M95 6v1M96 4v1M96 21v1M97 8v1M99 24v1M99 36v1M100 12v1M100 42v3M102 5v1M102 20v3M103 8v1M103 17v1M103 21v1M104 13v1M105 9v1M106 14v1M109 38v1M111 8v3M114 20v1M116 17v2"/>
<path stroke="#addc30" d="M62 43v1M63 5v1M64 33v1M64 44v1M65 23v1M65 50v1M66 13v1M66 29v1M66 45v1M67 34v1M68 8v1M68 10v2M68 16v1M68 32v1M72 11v1M75 21v2M75 30v1M77 46v1M78 14v1M78 24v1M79 0v1M79 34v1M79 36v1M79 46v1M81 27v1M82 16v1M82 35v1M83 32v1M83 39v1M83 42v1M84 17v1M85 14v1M86 2v1M86 16v1M86 37v1M88 11v1M95 23v1M95 37v1M99 20v1M99 23v1M99 31v1M99 35v1M100 5v1M100 11v1M102 19v1M103 2v1M103 20v1M105 7v2M109 25v1M109 29v1M109 43v1M114 30v1M115 6v1M115 9v1M116 16v1M121 4v1"/>
<path stroke="#c5e021" d="M63 6v3M63 22v1M64 10v1M64 32v1M64 35v1M65 43v1M66 14v1M66 28v1M66 34v1M66 44v1M67 24v1M68 9v1M68 45v1M69 26v1M71 25v1M71 31v1M72 27v1M74 16v1M75 3v1M75 31v1M77 38v1M78 19v1M78 22v2M78 30v1M78 35v1M80 44v1M81 17v1M82 17v4M83 40v2M84 23v1M87 7v1M88 49v1M89 0v1M91 8v1M91 33v1M91 39v1M92 7v3M94 38v1M94 46v1M96 5v1M97 9v1M97 16v1M99 21v2M100 6v1M100 10v1M102 6v1M103 18v2M104 12v1M109 26v3M109 39v1M109 42v1M112 14v1M112 23v1M114 21v1M115 7v2M116 3v1M116 15v1M121 9v1"/>
<path stroke="#dde318" d="M61 29v1M63 9v1M64 31v1M65 4v1M65 44v1M66 15v1M66 43v1M67 33v1M68 17v1M68 31v1M68 38v1M69 18v1M70 34v1M74 17v1M74 20v1M75 20v1M76 52v1M77 39v1M77 45v1M78 6v1M78 20v2M82 34v1M84 49v1M85 52v1M86 22v1M87 3v1M88 39v1M88 48v1M91 38v1M93 5v1M93 11v1M94 4v1M94 10v1M95 7v1M95 45v1M96 6v1M96 20v1M97 10v1M99 32v3M100 7v3M102 18v1M103 3v1M103 7v1M104 3v1M106 6v1M109 40v2M116 14v1M121 5v1M121 8v1"/>
<path stroke="#f4e61e" d="M61 1v28M62 8v35M63 10v12M64 11v20M64 36v8M65 5v18M65 45v5M66 16v12M66 35v8M67 25v8M68 18v13M68 39v6M69 19v7M70 23v11M71 26v5M72 12v15M74 18v2M75 4v16M75 32v15M76 0v52M77 6v14M77 25v13M77 40v5M78 7v7M78 31v4M79 1v33M79 37v9M80 2v42M81 18v9M81 34v12M82 21v13M83 4v28M84 18v5M84 37v12M85 15v37M86 3v13M86 23v14M87 4v3M88 2v9M88 40v8M89 1v15M90 3v13M91 9v11M91 34v4M93 6v5M94 5v5M94 39v7M95 8v15M95 38v7M96 7v13M97 11v5M102 7v11M103 4v3M104 4v8M106 7v7M112 15v8M114 22v8M116 4v10M121 6v2"/>
</g></g>
<rect x="313" y="4.3" width="229" height="61.1" fill="none" stroke="#222" stroke-width="0.75"/>
<line x1="313" x2="313" y1="65.4" y2="68.1" stroke="#222" stroke-width="0.7"/>
<text x="313" y="76.7" font-size="7.6" text-anchor="middle">0</text>
<line x1="351.17" x2="351.17" y1="65.4" y2="68.1" stroke="#222" stroke-width="0.7"/>
<text x="351.17" y="76.7" font-size="7.6" text-anchor="middle">5</text>
<line x1="389.33" x2="389.33" y1="65.4" y2="68.1" stroke="#222" stroke-width="0.7"/>
<text x="389.33" y="76.7" font-size="7.6" text-anchor="middle">10</text>
<line x1="427.5" x2="427.5" y1="65.4" y2="68.1" stroke="#222" stroke-width="0.7"/>
<text x="427.5" y="76.7" font-size="7.6" text-anchor="middle">15</text>
<line x1="465.67" x2="465.67" y1="65.4" y2="68.1" stroke="#222" stroke-width="0.7"/>
<text x="465.67" y="76.7" font-size="7.6" text-anchor="middle">20</text>
<line x1="503.83" x2="503.83" y1="65.4" y2="68.1" stroke="#222" stroke-width="0.7"/>
<text x="503.83" y="76.7" font-size="7.6" text-anchor="middle">25</text>
<line x1="542" x2="542" y1="65.4" y2="68.1" stroke="#222" stroke-width="0.7"/>
<text x="542" y="76.7" font-size="7.6" text-anchor="middle">30</text>
<line x1="310.3" x2="313" y1="16.52" y2="16.52" stroke="#222" stroke-width="0.7"/>
<text x="307.6" y="19.22" font-size="7.6" text-anchor="end">40</text>
<line x1="310.3" x2="313" y1="40.96" y2="40.96" stroke="#222" stroke-width="0.7"/>
<text x="307.6" y="43.66" font-size="7.6" text-anchor="end">20</text>
<line x1="310.3" x2="313" y1="65.4" y2="65.4" stroke="#222" stroke-width="0.7"/>
<text x="307.6" y="68.1" font-size="7.6" text-anchor="end">0</text>
<rect x="321.5" y="8.3" width="15" height="11.4" rx="1.9" fill="#fff" stroke="#111" stroke-width="0.9"/>
<text x="329" y="16.3" font-size="6.7" font-weight="bold" stroke-width="0.1" text-anchor="middle">(b)</text>
<clipPath id="cr1"><rect x="313" y="78" width="229" height="61.7"/></clipPath>
<g clip-path="url(#cr1)">
<rect x="313" y="77" width="229" height="63.7" fill="#440154" stroke="none"/>
<g transform="translate(313.5 139.7) scale(1 -1)" shape-rendering="crispEdges" fill="none" stroke-width="1">
<path stroke="#481467" d="M4 12v4M5 2v6M5 26v12M6 7v9M6 26v3M6 41v3M6 45v10M7 6v13M7 22v3M7 44v8M8 4v13M8 44v2M8 48v10M9 13v1M9 20v6M9 46v2M9 58v2M10 58v2M11 48v8M12 59v4M13 59v4M14 9v1M14 60v3M15 16v4M15 59v4M16 12v2M16 53v3M17 50v9M18 55v3M19 47v12M20 58v3M21 12v12M21 56v2M22 57v4M23 56v7M24 12v6M24 20v1M24 50v3M24 56v5M25 57v3M26 55v2M27 17v4M27 53v3M28 56v4M29 51v5M30 49v6M31 9v3M31 56v2M32 57v2M33 24v2M33 56v3M34 9v2M34 14v3M34 49v9M35 14v2M35 56v3M36 54v3M37 53v3M38 12v7M38 49v11M39 55v5M40 15v1M40 46v12M41 52v3M42 57v3M43 13v3M43 58v2M44 59v4M45 59v4M46 56v5M47 49v5M48 55v5M49 12v4M49 53v6M50 46v2M51 57v2M52 56v2M53 13v4M53 56v3M54 13v1M54 51v7M55 56v3M56 49v10M57 51v10M58 58v2M59 55v3M60 50v3M61 54v2M62 59v4M64 60v1M65 61v2M68 60v3M69 59v2M70 58v3M71 57v3M72 58v5M73 59v4M74 57v2M75 60v3M76 60v3M77 60v3M78 59v4M79 59v4M80 61v2M82 59v4M83 61v2M84 62v1M85 60v1M86 60v1M87 59v2M88 61v2M90 58v3M91 55v4M92 58v2M93 57v2M94 57v1M95 58v2M96 55v4M97 58v5M98 61v2M99 59v4M100 56v3M101 58v2M102 57v1M103 58v1M104 57v3M105 58v1M106 58v2M107 55v4M108 57v2M109 57v4M110 58v1M111 61v2M112 61v2M114 57v6M115 51v5M116 57v4M117 58v5M118 56v4M119 44v14M120 52v9M121 59v2M122 58v2M123 59v1M124 46v1M124 59v2M125 58v2M126 59v4M127 56v2M128 56v2M129 56v2M130 53v4M131 54v1M132 58v3M133 59v4M134 55v5M135 56v4M136 54v5M137 48v6M138 58v2M139 59v2M140 49v5M140 57v4M141 46v14M142 56v3M143 53v3M144 56v1M145 47v12M146 55v4M147 57v4M148 18v3M148 59v2M149 57v3M150 59v4M151 50v13M152 52v7M153 58v3M154 59v4M155 57v2M156 49v6M157 52v2M158 55v3M159 58v3M160 60v1M161 54v9M162 47v11M163 52v6M164 54v4M165 57v4M166 14v7M166 56v5M167 22v2M167 59v2M168 54v4M169 0v1M169 52v1M170 54v5M171 58v3M172 50v2M173 52v1M174 57v3M175 51v9M176 56v3M177 57v3M178 54v5M179 57v4M180 56v4M181 57v2M182 54v6M183 11v2M183 52v3M184 13v7M184 49v2M184 55v2M185 58v2M186 59v2M187 57v1M188 11v5M188 57v2M189 56v7M190 58v2M191 56v2M192 45v14M193 50v12M194 58v5M195 57v3M196 54v2M197 50v3M198 48v10M199 46v2M199 51v8M200 57v2M201 55v3M202 59v4M203 59v4M204 49v11M205 46v1M205 56v3M206 53v3M207 48v1M207 56v3M208 57v2M209 58v3M210 20v3M210 48v4M210 54v3M211 57v3M212 58v2M213 17v4M213 54v6M214 59v4M215 0v5M215 54v6M216 4v11M216 57v2M217 57v2M218 57v3M219 48v10M220 58v2M221 55v4M222 20v5M222 55v4M223 47v3M223 58v3M224 58v3M225 54v4M226 57v3M227 51v12"/>
<path stroke="#482071" d="M5 0v2M6 5v2M6 29v2M6 39v2M7 4v2M7 25v3M7 41v3M8 17v5M8 43v1M9 10v3M9 14v6M9 26v1M9 44v2M9 48v3M9 55v3M10 6v7M10 18v5M10 46v4M10 55v3M11 10v10M11 46v2M12 8v5M12 57v2M13 13v3M13 56v3M14 8v1M14 10v3M14 23v1M14 57v3M15 9v7M15 20v2M15 57v2M16 10v2M16 14v7M16 44v2M16 50v3M17 10v3M17 44v6M18 48v7M19 46v1M20 11v2M20 56v2M21 11v1M21 24v1M21 54v2M22 11v1M22 16v2M22 55v2M23 11v4M23 51v5M24 10v2M24 18v2M24 21v1M24 48v2M24 53v3M25 11v1M25 55v2M26 11v1M26 41v6M26 53v2M27 11v6M27 21v1M27 51v2M28 10v4M28 49v7M29 11v5M29 26v2M29 49v2M30 47v2M31 8v1M31 12v1M31 55v1M32 56v1M33 10v3M33 22v2M33 26v1M33 53v3M34 17v1M34 48v1M35 9v5M35 16v4M35 55v1M36 5v3M36 14v4M36 47v7M37 51v2M38 9v3M38 19v2M38 47v2M39 10v3M39 47v8M40 12v3M40 16v4M40 45v1M41 7v10M41 50v2M42 48v9M43 11v2M43 16v4M43 47v4M43 55v3M44 11v7M44 22v1M44 58v1M45 47v12M46 10v5M46 52v4M47 45v4M48 53v2M49 11v1M49 16v4M49 50v3M50 11v6M51 45v3M51 55v2M52 55v1M53 9v4M53 17v1M53 46v10M54 10v3M54 14v2M54 48v3M55 13v6M55 47v2M55 52v4M56 22v3M56 47v2M57 48v3M58 13v2M58 17v6M58 52v6M59 44v4M59 52v3M60 48v2M61 50v4M62 58v1M63 59v4M64 59v1M65 60v1M67 61v2M68 58v2M69 58v1M70 56v2M71 56v1M72 55v3M73 56v3M74 55v2M75 59v1M76 59v1M77 59v1M78 57v2M79 58v1M80 60v1M81 59v4M82 58v1M83 60v1M84 61v1M85 59v1M86 59v1M87 58v1M88 60v1M89 61v2M90 57v1M91 54v1M92 56v2M93 56v1M94 56v1M95 57v1M96 53v2M97 52v6M98 59v2M99 57v2M100 54v2M101 56v2M102 56v1M103 56v2M104 54v3M105 57v1M106 57v1M107 54v1M108 56v1M109 54v3M110 56v2M111 59v2M112 60v1M113 46v3M113 59v4M114 55v2M115 44v7M116 48v9M117 54v4M118 0v1M118 51v5M120 46v6M121 22v1M121 57v2M122 56v2M123 57v2M124 44v2M124 47v5M124 56v3M125 57v1M126 55v4M127 55v1M128 55v1M129 46v1M129 54v2M130 51v2M131 53v1M132 57v1M133 47v2M133 57v2M134 52v3M135 51v5M136 12v12M136 51v3M137 18v4M137 28v2M137 47v1M138 57v1M139 58v1M140 48v1M140 54v3M141 43v3M142 44v12M143 51v2M144 54v2M145 45v2M146 48v7M147 54v3M148 16v2M148 21v2M148 57v2M149 55v2M150 47v12M151 9v1M151 44v6M152 48v4M153 48v10M154 55v4M155 42v4M155 55v2M156 15v1M156 45v4M157 51v1M158 53v2M159 46v1M159 56v2M160 18v3M160 58v2M161 51v3M162 46v1M163 49v3M164 46v8M165 55v2M166 9v5M166 21v2M166 53v3M167 12v10M167 24v3M167 57v2M168 48v6M169 1v4M169 50v2M170 52v2M171 57v1M172 48v2M173 50v2M174 12v6M174 55v2M175 7v6M175 47v4M176 52v4M177 51v6M178 52v2M179 45v12M180 46v10M181 44v4M181 55v2M182 51v3M183 0v2M183 9v2M183 13v2M183 50v2M184 12v1M184 20v1M184 48v1M185 56v2M186 57v2M187 13v7M187 55v2M188 0v11M188 16v3M188 44v1M188 55v2M189 54v2M190 45v6M190 55v3M191 19v1M191 54v2M192 43v2M193 48v2M194 10v8M194 55v3M195 44v7M195 53v4M196 9v1M196 52v2M197 15v1M197 48v2M198 20v4M198 46v2M199 19v8M199 45v1M200 54v3M201 51v4M202 56v3M203 57v2M204 11v2M204 18v3M204 47v2M205 45v1M205 47v9M206 48v5M207 46v2M207 49v7M208 55v2M209 10v3M209 56v2M210 19v1M210 23v1M210 46v2M211 54v3M212 55v3M213 15v2M213 21v1M213 46v2M213 49v5M214 57v2M215 5v9M215 52v2M216 0v4M216 15v9M216 55v2M217 12v11M217 56v1M218 50v7M219 19v1M219 46v2M220 56v2M221 52v3M222 8v7M222 16v4M222 25v2M222 48v7M223 14v5M223 46v1M223 50v8M224 10v4M224 18v4M224 43v6M224 56v2M225 10v11M225 52v2M226 11v1M226 54v3M227 46v5"/>
<path stroke="#472d7b" d="M6 3v2M6 31v2M6 37v2M7 0v4M7 28v6M7 39v2M8 22v2M8 42v1M9 8v2M9 27v1M9 51v4M10 5v1M10 13v5M10 23v1M10 45v1M10 50v5M11 9v1M11 20v4M12 7v1M12 13v8M12 46v6M12 54v3M13 8v5M13 16v8M13 54v2M14 7v1M14 13v1M14 22v1M14 24v1M14 55v2M15 22v1M15 40v4M15 51v6M16 9v1M16 21v1M16 43v1M16 46v4M17 8v2M17 13v2M17 42v2M18 11v1M18 45v3M19 11v6M19 45v1M20 10v1M20 13v9M20 46v3M20 53v3M21 45v9M22 12v4M22 18v2M22 38v6M22 53v2M23 10v1M23 15v7M23 49v2M24 9v1M24 22v1M24 46v2M25 10v1M25 12v5M25 19v2M25 42v5M25 51v4M26 12v12M26 39v2M26 47v6M27 10v1M27 22v1M27 48v3M28 9v1M28 14v6M28 47v2M29 9v2M29 16v3M29 23v3M29 28v1M29 47v2M30 16v10M30 46v1M31 7v1M31 13v1M31 54v1M32 21v1M32 55v1M33 9v1M33 13v9M33 48v5M34 8v1M34 18v2M34 47v1M35 7v2M35 20v2M35 42v3M35 53v2M36 3v2M36 8v6M36 18v2M36 43v4M37 24v2M37 49v2M38 8v1M38 21v1M38 45v2M39 7v3M39 13v4M39 46v1M40 10v2M40 20v1M40 44v1M41 5v2M41 17v2M41 48v2M42 9v11M42 46v2M43 10v1M43 20v4M43 46v1M43 51v4M44 18v4M44 23v1M44 56v2M45 11v6M45 20v3M45 44v3M46 9v1M46 15v2M46 48v4M47 11v1M47 22v2M47 44v1M48 18v5M48 50v3M49 10v1M49 20v2M49 47v3M50 17v4M50 45v1M51 17v1M51 44v1M51 48v7M52 53v2M53 8v1M53 18v1M53 43v3M54 8v2M54 16v2M54 46v2M55 11v2M55 19v5M55 46v1M55 49v3M56 20v2M56 25v2M56 46v1M57 12v3M57 44v4M58 9v4M58 15v2M58 23v1M58 48v4M59 9v13M59 43v1M59 48v4M60 45v3M61 48v2M62 57v1M63 57v2M65 59v1M66 60v3M67 60v1M68 54v4M69 57v1M70 54v2M71 55v1M72 53v2M73 52v4M74 54v1M75 56v3M77 58v1M79 57v1M80 59v1M81 55v4M84 60v1M87 57v1M88 59v1M89 60v1M90 56v1M91 53v1M92 55v1M93 55v1M95 55v2M96 52v1M97 50v2M98 58v1M99 54v3M101 55v1M102 55v1M103 55v1M104 53v1M105 56v1M106 56v1M107 53v1M108 55v1M109 53v1M110 54v2M111 0v1M111 56v3M112 59v1M113 44v2M113 49v2M113 57v2M114 53v2M115 42v2M116 44v4M117 50v4M118 1v1M118 45v6M119 43v1M120 44v2M121 17v5M121 23v2M121 55v2M122 50v6M123 43v4M123 56v1M124 42v2M124 52v4M125 55v2M126 52v3M127 54v1M128 53v2M129 0v2M129 45v1M129 47v7M130 46v5M131 52v1M132 13v4M132 55v2M133 45v2M133 49v8M134 41v6M134 49v3M135 48v3M136 11v1M136 24v1M136 50v1M137 16v2M137 22v6M137 30v1M137 46v1M138 0v1M138 13v3M138 55v2M139 46v1M139 56v2M140 47v1M141 0v2M141 40v3M142 43v1M143 46v5M144 53v1M145 44v1M146 47v1M147 46v8M148 14v2M148 46v4M148 55v2M149 53v2M150 45v2M151 7v2M151 10v2M152 45v3M153 20v1M153 45v3M154 10v2M154 52v3M155 41v1M155 46v3M155 53v2M156 13v2M156 16v1M156 43v2M157 12v3M157 49v2M158 0v5M158 44v9M159 45v1M159 47v2M159 54v2M160 16v2M160 21v1M160 57v1M161 49v2M163 41v8M164 11v13M164 44v2M165 53v2M166 7v2M166 23v1M166 38v6M166 48v5M167 11v1M167 27v1M167 56v1M168 0v2M168 11v10M168 45v3M169 5v3M169 13v1M169 48v2M170 51v1M171 55v2M172 45v3M173 49v1M174 11v1M174 18v4M174 52v3M175 5v2M175 13v3M175 46v1M176 12v11M176 45v7M177 44v7M178 10v7M178 51v1M179 44v1M180 44v2M181 48v7M182 24v1M182 50v1M183 2v3M183 6v3M183 15v2M183 48v2M184 10v2M184 21v1M184 46v2M185 53v3M186 55v2M187 10v3M187 20v1M187 54v1M188 19v2M188 45v3M188 52v3M189 15v4M189 52v2M190 18v4M190 44v1M190 51v4M191 17v2M191 20v1M191 44v5M191 50v4M192 13v4M192 41v2M193 8v1M193 46v2M194 8v2M194 18v3M194 46v9M195 8v9M195 42v2M195 51v2M196 8v1M196 10v2M196 20v2M196 50v2M197 13v2M197 16v3M197 47v1M198 17v3M198 24v1M198 45v1M199 11v8M199 27v1M199 44v1M200 13v4M200 44v10M201 11v2M201 48v3M202 19v3M202 48v8M203 16v5M203 54v3M204 10v1M204 13v5M204 21v1M204 46v1M205 16v8M205 44v1M206 18v2M206 44v4M208 11v3M208 52v3M209 9v1M209 13v2M209 46v3M209 53v3M210 17v2M210 24v1M211 10v4M211 51v3M212 11v8M212 51v4M213 13v2M213 22v1M213 45v1M213 48v1M214 8v5M214 56v1M215 14v2M215 51v1M216 24v1M216 47v8M217 9v3M217 23v1M217 55v1M218 10v15M218 49v1M219 17v2M219 20v2M220 47v2M220 53v3M221 45v7M222 6v2M222 15v1M222 27v1M222 47v1M223 5v9M223 19v2M223 29v2M223 45v1M224 9v1M224 14v4M224 22v1M224 41v2M224 49v7M225 9v1M225 21v1M225 50v2M226 9v2M226 12v3M226 52v2M227 17v1M227 44v2M228 17v4M228 54v9"/>
<path stroke="#453882" d="M6 0v3M6 33v4M7 34v5M8 24v1M8 41v1M9 7v1M9 28v1M9 43v1M10 4v1M10 44v1M11 8v1M11 24v1M12 6v1M12 21v1M12 52v2M13 0v8M13 24v2M13 53v1M14 6v1M14 14v3M14 20v2M14 25v1M14 41v5M14 52v3M15 8v1M15 23v2M15 39v1M15 44v7M16 8v1M16 22v1M16 42v1M17 7v1M17 15v2M17 41v1M18 10v1M18 12v3M18 20v2M18 43v2M19 10v1M19 17v5M20 22v1M20 44v2M20 49v4M21 10v1M21 25v1M21 43v2M22 10v1M22 20v1M22 37v1M22 44v9M23 9v1M23 22v1M23 47v2M24 44v2M25 17v2M25 21v1M25 41v1M25 47v4M26 10v1M26 24v2M26 38v1M27 42v6M28 20v3M28 43v4M29 8v1M29 19v4M29 29v2M29 42v5M30 4v12M31 14v1M31 52v2M32 9v4M32 17v4M32 22v4M32 54v1M33 8v1M33 27v1M33 46v2M34 20v1M35 4v3M35 22v1M35 41v1M35 45v3M35 50v3M36 0v3M36 20v1M36 42v1M37 7v3M37 21v3M37 26v1M37 46v3M38 7v1M38 22v1M38 44v1M39 17v5M39 45v1M40 9v1M40 21v1M40 43v1M41 0v5M41 19v2M41 47v1M42 8v1M42 20v2M42 43v3M43 9v1M43 24v1M43 44v2M44 10v1M44 43v4M44 54v2M45 10v1M45 17v3M45 23v1M46 17v8M46 44v4M47 9v2M47 12v10M47 24v1M47 43v1M48 11v7M48 47v3M49 22v1M49 46v1M50 21v1M51 13v4M51 18v3M51 43v1M52 13v6M52 44v1M52 51v2M53 6v2M53 19v1M53 42v1M54 6v2M54 18v5M54 45v1M55 9v2M55 24v1M55 45v1M56 18v2M56 45v1M57 10v2M57 15v9M57 42v2M58 8v1M58 47v1M59 7v2M59 22v1M59 42v1M60 44v1M61 46v2M62 55v2M63 55v2M64 58v1M66 58v2M67 58v2M68 53v1M69 56v1M70 53v1M71 54v1M72 51v2M73 51v1M74 42v1M74 53v1M75 55v1M76 58v1M78 56v1M80 58v1M81 54v1M82 57v1M83 59v1M84 59v1M85 58v1M86 58v1M87 48v2M87 55v2M89 59v1M90 55v1M91 52v1M92 53v2M93 54v1M94 55v1M95 53v2M96 51v1M97 48v2M98 57v1M99 52v2M100 53v1M101 54v1M102 54v1M103 54v1M104 51v2M105 55v1M106 55v1M108 54v1M109 52v1M110 53v1M111 52v4M112 57v2M113 43v1M113 51v6M114 52v1M115 40v2M116 43v1M117 47v3M118 2v1M118 44v1M119 0v2M119 42v1M120 43v1M121 48v7M122 17v5M122 49v1M123 42v1M123 47v2M123 54v2M125 53v2M126 50v2M127 53v1M128 46v7M129 2v2M130 11v1M130 44v2M131 15v2M131 50v2M132 12v1M132 17v1M132 54v1M133 44v1M134 18v2M134 39v2M134 47v2M135 0v1M135 17v2M135 46v2M136 10v1M136 25v1M136 49v1M137 15v1M137 31v1M138 1v1M138 12v1M138 16v1M138 53v2M139 3v2M139 44v2M139 47v1M139 55v1M141 2v1M141 19v3M142 42v1M143 28v4M143 44v2M144 52v1M146 46v1M147 44v2M148 12v2M148 23v1M148 45v1M148 50v5M149 18v4M149 46v7M150 44v1M151 6v1M151 12v1M151 43v1M152 44v1M153 18v2M153 21v2M153 44v1M154 9v1M154 12v2M154 49v3M155 17v1M155 40v1M155 49v4M156 12v1M156 17v1M156 42v1M157 10v2M157 15v2M157 48v1M158 5v3M158 26v1M158 42v2M159 7v1M159 49v5M160 14v2M160 44v4M160 56v1M161 17v6M161 45v4M162 9v3M162 45v1M163 40v1M164 9v2M164 24v2M165 7v4M165 51v2M166 6v1M166 24v2M166 36v2M166 44v4M167 9v2M167 28v1M167 55v1M168 2v2M168 10v1M168 21v1M168 44v1M169 8v5M169 14v3M169 46v2M170 16v4M170 49v2M171 9v6M171 53v2M172 44v1M173 10v4M173 48v1M174 10v1M174 22v1M174 48v4M175 3v2M175 16v6M175 45v1M176 10v2M176 23v1M176 44v1M177 17v2M177 43v1M178 9v1M178 17v3M178 49v2M179 43v1M180 23v2M181 5v3M181 22v3M181 43v1M182 11v1M182 22v2M182 25v1M182 49v1M183 5v1M183 17v8M183 42v6M184 9v1M184 22v1M185 45v8M186 46v9M187 0v10M187 21v1M187 44v4M187 52v2M188 21v1M188 48v4M189 13v2M189 19v2M189 45v2M189 49v3M190 9v2M190 16v2M190 22v1M190 43v1M191 7v2M191 16v1M191 43v1M191 49v1M192 8v5M192 17v4M192 40v1M193 7v1M193 9v2M193 44v2M194 7v1M194 21v2M194 44v2M195 7v1M195 17v7M195 41v1M196 7v1M196 12v3M196 17v3M196 22v1M196 48v2M197 9v4M197 19v1M197 45v2M198 15v2M198 44v1M199 9v2M199 28v1M199 43v1M200 11v2M200 17v5M200 42v2M201 10v1M201 13v1M201 45v3M202 17v2M202 47v1M203 13v3M203 21v1M203 49v5M204 9v1M204 22v1M204 45v1M205 14v2M205 24v1M205 43v1M206 17v1M206 20v1M206 43v1M207 11v2M207 45v1M208 10v1M208 14v2M208 46v6M209 15v3M209 45v1M209 49v4M210 11v6M210 45v1M211 8v2M211 14v2M211 20v3M211 40v2M211 50v1M212 9v2M212 19v3M212 49v2M213 10v3M213 23v1M213 44v1M214 6v2M214 13v6M214 24v3M214 54v2M215 16v1M215 49v2M216 25v1M216 44v3M217 8v1M217 54v1M218 8v2M218 25v1M218 48v1M219 7v2M219 16v1M219 45v1M220 45v2M220 49v4M221 14v3M221 44v1M222 5v1M222 28v1M222 46v1M223 3v2M223 21v2M223 26v3M223 31v2M223 44v1M224 8v1M224 23v1M224 40v1M225 22v1M225 44v6M226 15v4M226 20v3M226 44v2M226 49v3M227 15v2M227 18v4M228 15v2M228 21v2M228 53v1"/>
<path stroke="#414287" d="M8 25v2M8 40v1M9 5v2M9 42v1M10 3v1M10 24v1M11 7v1M11 25v1M11 45v1M12 5v1M12 22v2M12 45v1M13 52v1M14 5v1M14 17v3M14 40v1M14 46v6M15 25v4M16 7v1M16 23v1M17 6v1M17 17v3M18 9v1M18 15v5M18 22v1M18 42v1M19 44v1M20 9v1M20 23v1M21 42v1M22 9v1M22 21v1M23 8v1M23 46v1M24 8v1M24 42v2M25 9v1M25 22v1M25 40v1M26 26v1M26 36v2M27 9v1M27 23v1M27 41v1M28 8v1M28 23v1M28 42v1M29 7v1M29 31v1M29 41v1M30 2v2M30 26v1M30 45v1M31 6v1M31 15v1M31 51v1M32 8v1M32 13v4M32 26v1M32 52v2M34 7v1M34 21v3M34 46v1M35 0v4M35 23v1M35 40v1M35 48v2M36 21v1M36 41v1M37 5v2M37 10v11M37 27v1M37 44v2M38 23v1M39 6v1M40 8v1M40 22v1M41 21v1M41 45v2M42 7v1M42 22v1M42 37v6M43 25v1M43 43v1M44 9v1M44 24v1M44 41v2M44 47v7M45 43v1M47 8v1M47 25v1M48 9v2M48 23v1M48 41v6M49 9v1M49 23v1M49 45v1M50 10v1M50 44v1M51 11v2M51 42v1M52 11v2M52 19v1M52 42v2M52 45v6M53 0v6M53 20v1M53 41v1M54 5v1M54 23v1M54 44v1M55 8v1M55 25v1M55 44v1M56 16v2M56 27v1M56 44v1M57 8v2M57 24v1M57 41v1M58 7v1M58 24v1M58 45v2M59 23v1M60 43v1M63 54v1M65 58v1M66 57v1M67 57v1M69 55v1M70 52v1M71 53v1M72 46v5M73 50v1M74 41v1M74 43v2M74 51v2M75 54v1M77 0v2M77 57v1M78 55v1M79 56v1M80 57v1M86 57v1M87 47v1M87 50v5M88 58v1M89 58v1M92 48v5M93 52v2M94 54v1M95 52v1M96 50v1M97 47v1M98 0v1M98 42v1M98 55v2M99 51v1M101 53v1M102 53v1M103 53v1M104 42v3M104 50v1M106 54v1M107 52v1M108 22v3M110 51v2M111 1v1M111 51v1M112 55v2M114 50v2M115 39v1M116 42v1M117 44v3M118 43v1M119 2v1M120 0v6M121 16v1M121 25v1M121 47v1M122 16v1M122 48v1M123 16v4M123 41v1M123 49v5M124 21v1M124 41v1M125 43v10M126 49v1M127 40v4M127 52v1M128 45v1M129 4v2M129 44v1M130 10v1M130 12v1M131 12v3M131 17v2M131 49v1M132 11v1M132 18v1M132 36v7M132 53v1M133 42v2M134 17v1M134 20v1M134 38v1M135 1v1M135 15v2M135 19v3M135 45v1M136 9v1M136 48v1M137 14v1M137 32v1M137 45v1M138 2v1M138 11v1M138 17v1M138 46v7M139 0v3M139 5v1M139 48v3M139 53v2M140 4v2M140 46v1M141 3v1M141 18v1M141 39v1M143 24v4M143 43v1M144 18v4M144 51v1M145 21v2M145 43v1M146 45v1M147 9v2M148 11v1M148 44v1M149 17v1M151 5v1M151 13v3M151 42v1M152 13v1M152 43v1M153 11v1M153 16v2M153 23v1M153 43v1M154 14v2M154 46v3M155 14v3M155 18v1M155 39v1M156 11v1M156 18v1M156 40v2M157 9v1M157 17v2M157 46v2M158 8v1M158 25v1M158 27v1M159 0v7M159 8v2M159 44v1M160 0v3M160 13v1M160 22v1M160 43v1M160 48v2M160 54v2M161 13v4M161 23v1M161 44v1M162 8v1M162 12v1M162 44v1M163 9v1M164 8v1M164 43v1M165 5v2M165 11v2M165 18v4M165 49v2M166 4v2M166 35v1M167 8v1M167 29v1M167 54v1M168 4v6M168 22v2M169 17v6M169 44v2M170 0v1M170 15v1M170 20v5M170 48v1M171 7v2M171 15v5M171 51v2M173 8v2M173 14v1M173 46v2M174 9v1M174 47v1M175 1v2M175 22v1M175 44v1M176 9v1M177 15v2M177 19v2M177 42v1M178 8v1M178 20v1M178 48v1M179 42v1M180 21v2M180 25v1M180 43v1M181 4v1M181 8v2M181 14v2M181 20v2M181 25v1M181 42v1M182 10v1M182 12v3M182 21v1M182 47v2M183 41v1M184 8v1M184 45v1M185 4v2M185 44v1M186 44v2M187 22v1M187 48v4M188 22v1M188 43v1M189 0v7M189 11v2M189 21v1M189 44v1M189 47v2M190 8v1M190 11v5M191 6v1M191 9v2M191 14v2M191 21v1M191 42v1M192 7v1M192 21v2M192 39v1M193 6v1M193 11v2M193 20v2M193 42v2M194 23v1M194 43v1M195 6v1M195 40v1M196 15v2M196 23v1M196 44v4M197 8v1M197 20v3M197 44v1M198 0v2M198 14v1M198 25v1M198 43v1M199 29v1M199 41v2M200 10v1M200 22v2M200 39v3M201 14v2M201 40v5M202 15v2M202 22v1M202 46v1M203 11v2M203 22v1M203 45v4M204 8v1M204 23v1M204 44v1M205 12v2M205 25v1M206 16v1M206 21v1M207 10v1M207 13v2M207 44v1M208 9v1M208 16v2M208 45v1M209 18v5M209 44v1M210 9v2M210 25v1M210 44v1M211 7v1M211 16v4M211 23v1M211 42v2M211 48v2M212 8v1M212 22v1M212 48v1M213 9v1M214 5v1M214 19v5M214 27v2M214 46v8M215 17v9M215 48v1M216 43v1M217 7v1M217 24v1M217 53v1M218 7v1M218 47v1M219 9v2M219 14v2M219 22v1M220 10v3M220 44v1M221 9v5M221 17v2M221 43v1M222 0v5M222 45v1M223 0v3M223 23v3M223 33v1M223 43v1M224 24v1M224 36v4M225 23v1M225 43v1M226 19v1M226 23v1M226 43v1M226 46v3M227 13v2M227 22v1M227 43v1M228 11v4M228 52v1"/>
<path stroke="#3d4d8a" d="M8 27v1M8 39v1M9 3v2M9 29v1M10 2v1M10 43v1M12 4v1M12 24v4M13 26v1M13 44v3M13 50v2M14 26v1M15 7v1M15 29v1M15 38v1M16 6v1M16 41v1M17 5v1M17 20v2M17 40v1M18 23v1M18 41v1M19 9v1M19 22v1M20 43v1M21 9v1M21 26v1M22 22v1M22 36v1M23 7v1M23 45v1M24 23v1M24 41v1M26 9v1M26 27v1M26 35v1M27 40v1M28 24v1M28 41v1M29 6v1M29 32v1M29 40v1M30 0v2M30 27v1M30 44v1M31 16v1M31 22v4M31 46v5M32 27v2M32 46v6M33 7v1M33 28v1M33 45v1M34 24v4M34 45v1M35 39v1M36 22v1M37 4v1M37 28v1M37 42v2M38 6v1M38 43v1M39 22v1M39 44v1M40 7v1M40 42v1M41 22v1M41 44v1M42 23v1M42 36v1M43 42v1M44 40v1M45 9v1M45 24v1M45 42v1M46 8v1M46 25v1M46 43v1M47 42v1M48 40v1M49 24v1M49 44v1M50 22v1M51 10v1M51 21v1M51 41v1M52 9v2M52 20v1M53 21v1M54 4v1M54 24v1M54 43v1M55 7v1M55 26v1M56 6v4M56 14v2M57 7v1M57 25v1M58 6v1M58 43v2M59 6v1M59 41v1M60 42v1M61 45v1M62 54v1M63 53v1M64 57v1M65 57v1M66 56v1M67 54v3M68 0v1M68 52v1M69 54v1M70 51v1M71 52v1M72 45v1M73 49v1M74 45v6M76 57v1M79 55v1M80 56v1M81 53v1M82 5v1M82 56v1M83 58v1M84 58v1M90 54v1M91 51v1M92 47v1M93 44v2M93 50v2M97 46v1M98 1v1M98 41v1M98 43v2M98 54v1M99 50v1M100 52v1M101 52v1M103 46v4M103 51v2M104 45v1M104 49v1M105 54v1M106 53v1M108 21v1M108 25v1M108 53v1M109 51v1M110 50v1M111 49v2M112 52v3M113 42v1M114 49v1M116 40v2M117 42v2M118 3v1M118 42v1M119 3v1M120 6v1M120 42v1M121 15v1M121 46v1M122 15v1M122 22v1M122 46v2M123 15v1M123 20v1M124 20v1M124 22v1M124 40v1M125 22v2M125 42v1M126 48v1M127 38v2M127 44v2M127 51v1M128 44v1M129 6v5M130 0v2M130 9v1M130 13v1M131 0v1M131 11v1M131 19v1M131 48v1M132 19v1M132 43v1M132 52v1M133 41v1M134 15v2M134 21v1M135 14v1M135 22v1M135 44v1M136 8v1M136 26v1M136 47v1M137 13v1M137 44v1M138 3v1M138 10v1M138 18v1M138 45v1M139 6v1M139 51v2M140 3v1M140 6v1M141 4v1M141 17v1M142 41v1M143 21v3M143 32v1M143 42v1M144 13v5M144 50v1M145 11v2M145 20v1M146 15v1M147 11v1M147 43v1M148 24v1M148 43v1M149 16v1M149 22v1M149 45v1M150 15v1M150 43v1M151 4v1M151 16v1M152 11v2M152 14v2M153 10v1M153 12v4M153 42v1M154 16v6M154 44v2M155 12v2M155 19v1M157 8v1M157 19v1M157 40v6M158 9v1M158 24v1M158 41v1M159 10v1M160 3v1M160 11v2M160 42v1M160 50v4M161 11v2M161 24v1M161 43v1M162 7v1M162 13v1M163 7v2M163 10v8M163 39v1M164 7v1M164 26v1M165 4v1M165 13v5M165 22v2M165 47v2M166 3v1M166 26v2M166 33v2M167 7v1M167 30v1M167 39v4M167 53v1M168 24v1M168 43v1M169 23v1M169 43v1M170 1v2M170 13v2M170 25v1M170 46v2M171 6v1M171 20v2M171 45v6M172 43v1M173 7v1M173 15v2M173 21v1M173 45v1M174 8v1M174 23v1M174 46v1M175 0v1M175 43v1M176 8v1M176 24v1M176 43v1M177 14v1M177 21v1M177 41v1M178 7v1M178 21v1M178 45v3M179 23v2M180 11v6M180 18v3M181 3v1M181 10v4M181 16v4M182 9v1M182 15v2M182 18v3M182 26v1M182 46v1M183 25v1M183 40v1M184 23v1M184 44v1M185 1v3M185 6v5M185 17v6M185 43v1M186 0v5M186 15v3M186 42v2M187 23v1M187 43v1M188 23v1M189 7v4M189 22v1M189 43v1M190 7v1M190 23v1M190 42v1M191 11v3M192 38v1M193 5v1M193 13v7M193 22v2M193 41v1M194 6v1M194 42v1M195 5v1M195 24v1M196 6v1M196 43v1M197 7v1M197 23v1M198 2v6M198 12v2M199 8v1M199 30v2M199 40v1M200 24v1M200 35v4M201 9v1M201 16v2M201 39v1M202 11v4M202 45v1M203 10v1M203 44v1M204 24v1M204 43v1M205 10v2M205 26v1M205 42v1M206 22v1M206 42v1M207 9v1M207 15v1M208 18v5M208 44v1M209 8v1M209 23v1M210 26v1M211 6v1M211 24v1M211 39v1M211 44v4M212 6v2M212 23v1M212 47v1M213 8v1M213 24v1M213 43v1M214 3v2M214 29v1M214 45v1M215 26v1M215 40v8M216 26v1M216 41v2M217 6v1M217 25v1M217 43v3M217 51v2M218 26v1M218 46v1M219 11v3M219 44v1M220 9v1M220 13v2M220 20v3M221 7v2M221 19v8M222 29v1M223 34v1M223 42v1M224 7v1M224 35v1M225 8v1M225 42v1M226 8v1M226 42v1M227 8v5M227 23v1M227 42v1M228 9v2M228 23v1M228 51v1"/>
<path stroke="#39568c" d="M8 28v1M8 38v1M9 0v3M9 30v1M9 41v1M10 0v2M10 25v1M10 42v1M11 6v1M11 26v1M11 44v1M12 28v1M12 44v1M13 43v1M13 47v3M14 4v1M14 39v1M15 30v2M15 37v1M16 5v1M16 24v1M17 3v2M17 22v1M18 8v1M18 24v1M19 43v1M20 42v1M21 41v1M23 6v1M23 23v1M23 44v1M24 40v1M25 23v1M25 39v1M26 28v1M26 34v1M28 40v1M29 4v2M29 33v2M29 39v1M30 28v1M31 5v1M31 17v5M31 26v1M31 45v1M32 7v1M32 45v1M34 6v1M34 28v1M36 23v1M36 40v1M37 3v1M37 29v1M37 41v1M38 5v1M38 24v1M38 42v1M39 5v1M41 23v1M41 43v1M42 6v1M42 35v1M43 8v1M43 26v1M43 41v1M44 25v1M47 7v1M47 26v1M48 8v1M48 39v1M49 25v1M51 9v1M51 40v1M52 8v1M52 21v1M53 40v1M54 2v2M54 25v1M55 6v1M55 27v1M55 43v1M56 5v1M56 10v4M56 28v1M57 26v5M57 40v1M58 39v4M59 5v1M62 53v1M66 55v1M67 52v2M69 53v1M72 44v1M73 38v1M73 48v1M74 40v1M75 53v1M77 2v1M77 56v1M82 6v1M85 57v1M86 56v1M87 46v1M88 57v1M89 57v1M91 0v1M92 27v1M92 46v1M93 43v1M93 46v4M94 53v1M95 0v1M95 51v1M96 49v1M98 2v1M98 13v1M98 40v1M98 45v1M98 53v1M99 13v1M99 48v2M102 52v1M103 45v1M103 50v1M104 46v3M106 52v1M107 51v1M108 20v1M108 26v1M110 49v1M111 2v1M111 25v4M111 46v3M112 50v2M114 38v2M114 47v2M115 38v1M117 41v1M118 4v1M119 4v1M119 41v1M120 7v1M122 42v4M123 40v1M124 23v1M125 20v2M125 24v2M125 41v1M126 46v2M127 20v3M127 36v2M127 46v2M127 49v2M128 43v1M129 11v1M129 43v1M130 2v1M130 8v1M130 43v1M131 1v2M131 9v2M131 44v4M132 10v1M132 20v6M132 35v1M132 44v2M132 50v2M133 38v3M134 0v1M134 14v1M134 22v1M135 2v1M135 13v1M135 23v1M135 43v1M136 27v1M137 11v2M137 33v1M138 4v1M138 19v1M139 7v1M139 43v1M140 0v3M140 45v1M141 5v1M141 22v1M142 17v3M142 22v1M142 40v1M143 14v3M143 18v3M143 33v1M144 12v1M144 22v1M144 49v1M145 9v2M145 13v3M145 18v2M145 23v1M145 42v1M146 12v3M146 16v8M147 8v1M147 12v2M147 22v2M147 42v1M148 10v1M148 42v1M149 14v2M149 44v1M150 11v4M150 16v6M151 2v2M151 17v1M152 10v1M152 16v1M152 42v1M153 9v1M153 24v1M154 22v2M155 10v2M155 20v1M155 38v1M156 10v1M156 19v1M156 39v1M157 7v1M157 20v3M157 24v1M157 39v1M158 10v1M158 23v1M158 28v1M158 40v1M159 11v1M159 43v1M160 4v2M160 9v2M160 23v1M160 41v1M161 9v2M161 42v1M162 14v1M162 20v3M162 43v1M163 18v2M163 24v3M164 42v1M165 2v2M165 46v1M166 0v3M166 28v1M166 32v1M167 6v1M167 31v1M167 37v2M167 43v1M167 52v1M168 25v1M169 24v1M169 42v1M170 3v1M170 12v1M170 26v1M170 43v3M171 5v1M171 22v3M172 8v6M173 17v4M173 22v2M173 44v1M174 45v1M175 23v1M176 0v1M176 6v2M177 13v1M177 22v1M177 40v1M178 44v1M179 22v1M179 25v1M180 8v3M180 17v1M180 26v1M180 42v1M181 2v1M182 8v1M182 17v1M182 44v2M184 7v1M184 43v1M185 0v1M185 11v6M185 23v1M185 42v1M186 5v2M186 14v1M187 24v1M188 24v1M188 42v1M189 23v1M191 5v1M192 6v1M192 23v1M193 24v1M194 5v1M194 24v1M196 24v1M196 42v1M197 6v1M197 24v1M198 8v4M198 26v1M198 42v1M199 7v1M199 32v1M199 37v3M200 9v1M200 25v1M200 34v1M201 18v5M202 10v1M202 23v1M202 43v2M203 9v1M203 43v1M204 7v1M204 41v2M205 9v1M206 15v1M207 16v1M208 23v1M209 24v1M209 43v1M210 8v1M210 43v1M211 5v1M211 25v1M212 5v1M212 46v1M213 7v1M213 25v1M214 0v3M214 30v1M215 27v1M215 37v3M216 39v2M217 5v1M217 42v1M217 46v5M218 6v1M218 45v1M219 6v1M220 15v5M220 23v1M220 43v1M221 6v1M221 27v1M221 42v1M222 30v1M222 44v1M223 35v1M223 41v1M224 25v1M224 34v1M226 24v1M227 7v1M227 24v1M227 41v1M228 0v1M228 8v1M228 50v1"/>
<path stroke="#34608d" d="M8 29v2M8 37v1M9 40v1M10 41v1M12 3v1M14 3v1M14 27v1M15 6v1M15 32v1M15 36v1M16 4v1M16 40v1M17 0v3M17 23v1M17 39v1M18 40v1M20 24v1M22 8v1M22 23v1M22 35v1M23 5v1M24 7v1M25 38v1M26 29v1M26 32v2M27 24v1M28 7v1M28 25v1M29 0v4M29 35v4M30 43v1M31 44v1M32 44v1M34 44v1M35 24v1M35 38v1M36 24v1M37 2v1M37 30v1M37 39v2M39 23v1M39 43v1M40 6v1M40 23v1M40 41v1M41 42v1M42 24v1M43 40v1M44 39v1M46 26v1M46 42v1M47 6v1M48 24v1M49 26v1M50 9v1M50 23v1M50 43v1M51 22v1M51 39v1M52 7v1M52 22v1M52 41v1M53 22v1M54 0v2M54 42v1M55 5v1M56 43v1M57 6v1M57 31v3M57 39v1M58 5v1M58 25v1M58 38v1M59 4v1M59 24v1M61 44v1M62 52v1M63 52v1M64 56v1M65 56v1M67 51v1M68 1v1M68 51v1M69 50v3M70 42v1M70 50v1M71 51v1M72 43v1M73 37v1M73 39v4M73 47v1M78 0v1M78 54v1M79 54v1M80 54v2M81 9v1M81 52v1M82 4v1M82 7v1M82 55v1M83 57v1M84 57v1M86 55v1M90 21v1M90 53v1M91 1v1M92 26v1M92 28v1M95 1v1M96 48v1M98 11v2M98 14v1M98 46v2M98 51v2M99 12v1M99 44v4M100 51v1M101 51v1M102 51v1M104 41v1M105 53v1M106 21v3M106 50v2M108 19v1M108 52v1M109 50v1M111 44v2M112 48v2M113 27v1M113 41v1M114 37v1M114 40v2M114 45v2M116 39v1M117 40v1M118 41v1M119 5v10M120 8v1M120 41v1M121 26v1M121 45v1M122 14v1M122 23v1M122 40v2M123 14v1M123 21v1M124 19v1M124 39v1M125 18v2M125 26v1M125 40v1M126 26v2M126 44v2M127 14v6M127 23v2M127 35v1M127 48v1M128 42v1M129 12v1M130 3v5M130 14v1M131 3v6M131 20v1M131 42v2M132 9v1M132 26v1M132 34v1M132 46v4M133 8v2M133 23v3M133 36v2M134 1v2M134 13v1M134 37v1M135 42v1M136 7v1M136 46v1M137 10v1M137 43v1M138 5v2M138 8v2M138 20v3M138 44v1M140 7v1M141 16v1M141 38v1M142 16v1M142 20v2M142 23v2M143 13v1M143 17v1M143 41v1M144 10v2M144 23v1M144 48v1M145 16v2M146 9v3M146 24v1M146 44v1M147 14v2M147 19v3M147 24v2M148 25v1M148 40v2M149 12v2M149 23v1M150 10v1M150 22v1M150 42v1M151 0v2M151 18v1M151 41v1M152 9v1M152 17v2M153 41v1M154 24v3M154 43v1M155 21v1M156 20v2M156 38v1M157 23v1M157 25v1M157 38v1M158 22v1M159 19v3M160 6v3M160 40v1M161 25v1M162 15v5M162 23v1M162 42v1M163 6v1M163 20v4M163 27v1M163 38v1M164 6v1M165 0v2M165 24v1M165 44v2M166 29v3M167 0v2M167 4v2M167 32v5M167 44v1M167 50v2M168 26v1M170 4v1M170 11v1M170 27v4M170 41v2M171 25v3M171 44v1M172 7v1M172 14v1M172 22v2M173 6v1M174 7v1M174 44v1M175 42v1M176 1v5M177 12v1M177 23v4M177 39v1M178 6v1M178 22v1M178 43v1M179 8v3M179 41v1M180 7v1M181 1v1M181 26v1M181 41v1M182 7v1M182 43v1M183 26v1M183 39v1M184 6v1M184 42v1M185 24v1M186 7v1M186 12v2M186 18v1M186 41v1M187 42v1M189 24v1M189 42v1M190 6v1M190 24v1M190 41v1M191 22v1M191 41v1M192 5v1M193 4v1M193 25v1M193 30v1M193 40v1M194 41v1M195 4v1M195 25v1M195 39v1M196 5v1M197 5v1M197 43v1M199 33v4M200 26v1M200 32v2M201 23v2M201 38v1M202 9v1M202 42v1M203 23v1M204 6v1M204 25v1M204 40v1M205 27v1M205 41v1M206 14v1M206 23v1M206 41v1M207 17v3M207 43v1M208 8v1M208 24v1M208 43v1M209 7v1M209 25v1M210 7v1M210 42v1M211 38v1M212 4v1M212 24v1M212 45v1M213 6v1M214 44v1M215 28v1M215 34v3M216 27v1M216 38v1M217 4v1M218 44v1M219 23v1M220 8v1M220 24v1M221 28v1M223 36v1M223 40v1M224 26v1M224 33v1M225 7v1M225 24v1M226 7v1M228 1v2M228 7v1M228 24v1M228 49v1"/>
<path stroke="#30698e" d="M8 31v6M9 31v1M9 39v1M10 26v1M10 40v1M11 5v1M11 27v1M12 1v2M12 29v1M13 27v1M14 2v1M14 38v1M15 33v3M16 3v1M18 25v1M18 39v1M19 23v1M19 42v1M21 27v1M21 40v1M23 0v5M23 43v1M25 8v1M25 24v1M26 30v2M27 39v1M28 39v1M30 29v1M31 4v1M32 29v1M33 6v1M33 44v1M34 5v1M34 29v1M34 43v1M36 25v1M37 1v1M37 31v1M37 37v2M38 4v1M38 25v1M38 41v1M39 4v1M40 5v1M41 40v2M42 5v1M42 34v1M43 39v1M44 8v1M44 38v1M45 41v1M46 7v1M47 41v1M48 7v1M48 38v1M49 8v1M49 43v1M53 39v1M54 26v1M55 4v1M55 28v1M55 42v1M56 4v1M56 29v1M57 5v1M57 34v2M57 37v2M59 40v1M60 41v1M62 51v1M66 54v1M67 3v5M67 49v2M69 0v1M69 48v2M70 41v1M70 43v2M70 48v2M71 17v3M71 50v1M72 30v2M73 36v1M73 43v4M75 52v1M76 56v1M78 1v1M80 52v2M81 10v2M82 8v1M86 54v1M87 45v1M88 56v1M89 19v2M90 20v1M90 22v1M90 52v1M91 50v1M92 45v1M93 42v1M94 52v1M95 2v1M96 47v1M97 45v1M98 3v1M98 10v1M98 15v1M98 24v2M98 39v1M98 48v3M99 11v1M99 14v1M99 43v1M102 39v2M103 44v1M106 20v1M106 46v4M107 11v2M107 24v1M107 50v1M108 18v1M108 27v1M110 23v3M110 48v1M111 24v1M111 29v1M112 45v3M113 26v1M113 28v1M114 13v1M114 42v3M117 0v1M117 39v1M118 5v1M118 40v1M119 15v1M119 40v1M120 9v1M121 14v1M123 13v1M125 16v2M125 27v1M125 39v1M126 12v4M126 25v1M126 28v1M127 9v5M127 25v1M127 34v1M128 22v4M128 41v1M129 13v1M129 24v1M132 8v1M132 27v1M132 33v1M133 0v8M133 10v2M133 22v1M133 26v1M134 3v1M134 12v1M134 23v1M135 3v1M135 12v1M135 24v1M136 28v1M136 45v1M137 6v4M137 34v1M138 7v1M138 23v2M139 8v1M139 20v2M140 19v4M140 44v1M141 6v1M142 0v2M142 15v1M142 25v1M143 12v1M143 34v1M144 9v1M144 46v2M145 8v1M146 7v2M146 25v1M147 16v3M147 26v1M147 41v1M148 9v1M148 39v1M149 9v3M149 43v1M150 9v1M150 23v1M151 19v1M152 8v1M152 19v2M153 40v1M154 27v1M154 42v1M155 9v1M155 22v5M155 37v1M156 9v1M156 22v3M157 26v1M158 11v2M158 21v1M158 29v1M158 39v1M159 12v1M159 18v1M159 22v1M159 42v1M160 24v1M160 38v2M161 8v1M161 41v1M162 6v1M163 5v1M164 27v1M165 43v1M167 2v2M167 45v5M168 27v1M168 42v1M169 25v1M170 5v6M170 31v3M170 40v1M171 4v1M171 28v3M172 15v2M172 18v4M172 24v1M172 42v1M173 24v1M174 6v1M176 25v1M176 42v1M177 4v2M177 11v1M177 27v2M177 38v1M179 7v1M179 11v2M179 21v1M180 6v1M180 27v1M181 0v1M182 6v1M182 27v1M182 42v1M184 5v1M184 24v1M184 41v1M185 25v1M185 41v1M186 8v4M186 19v1M187 25v1M189 25v1M191 4v1M192 24v1M192 37v1M193 26v4M193 31v2M193 39v1M194 4v1M194 25v1M195 3v1M196 25v1M196 41v1M197 25v1M198 27v1M198 41v1M199 6v1M200 27v5M203 42v1M204 5v1M204 26v1M204 38v2M205 8v1M205 28v1M205 40v1M206 12v2M207 20v4M208 42v1M209 26v1M209 42v1M210 6v1M210 27v1M211 4v1M212 3v1M212 44v1M213 5v1M213 42v1M214 31v1M215 29v1M215 32v2M216 28v1M216 36v2M217 3v1M217 26v1M217 41v1M218 5v1M218 27v1M218 43v1M219 5v1M219 43v1M220 42v1M221 5v1M221 41v1M222 31v1M222 43v1M223 37v3M224 6v1M224 27v1M224 31v2M225 41v1M227 6v1M227 25v1M227 40v1M228 3v4M228 48v1"/>
<path stroke="#2c728e" d="M9 32v1M10 39v1M11 4v1M12 0v1M12 43v1M13 42v1M14 1v1M16 2v1M16 25v1M17 24v1M17 38v1M18 7v1M18 38v1M19 41v1M20 25v1M20 41v1M22 24v1M22 34v1M23 42v1M24 24v1M27 8v1M27 25v1M28 26v1M30 30v1M30 42v1M31 27v1M32 6v1M33 29v1M35 25v1M35 37v1M36 39v1M37 0v1M37 32v5M40 40v1M41 24v1M41 38v2M42 25v1M42 33v1M43 7v1M43 27v1M44 26v1M45 8v1M45 25v1M47 5v1M47 27v1M49 27v1M51 8v1M51 38v1M52 6v1M53 23v1M54 41v1M55 3v1M55 29v1M56 42v1M57 36v1M58 4v1M58 26v1M58 37v1M59 3v1M62 0v2M62 50v1M63 51v1M67 1v2M67 8v2M67 48v1M68 2v1M69 1v1M69 47v1M70 40v1M70 45v3M71 20v1M72 32v1M72 41v2M77 3v1M77 55v1M78 53v1M79 53v1M80 50v2M81 8v1M82 3v1M83 56v1M85 56v1M86 45v4M89 21v1M89 56v1M90 0v1M91 2v1M92 25v1M92 29v1M93 15v1M94 25v3M95 50v1M98 4v1M98 9v1M98 23v1M99 15v1M99 42v1M101 50v1M102 38v1M102 41v1M102 50v1M103 27v3M105 52v1M106 24v1M106 44v2M107 13v1M107 22v2M108 17v1M108 51v1M111 3v1M111 43v1M112 43v2M113 40v1M114 12v1M114 36v1M115 37v1M116 24v3M116 38v1M117 1v1M117 11v1M117 38v1M118 6v1M118 39v1M119 16v1M120 10v1M120 40v1M121 44v1M122 39v1M123 7v6M123 22v1M123 39v1M124 18v1M124 24v1M124 38v1M125 15v1M125 38v1M126 9v3M126 16v2M126 24v1M126 43v1M127 8v1M127 26v1M128 13v1M128 21v1M128 26v1M128 40v1M129 22v2M129 25v1M130 15v1M130 42v1M131 21v1M131 41v1M132 7v1M132 28v1M132 32v1M133 12v1M133 35v1M134 4v1M134 10v2M134 36v1M135 4v1M135 11v1M135 25v1M135 41v1M136 6v1M136 29v1M137 5v1M137 42v1M138 25v1M139 19v1M139 22v1M139 42v1M140 8v1M140 18v1M141 15v1M141 23v1M142 2v2M142 39v1M143 11v1M143 35v1M143 40v1M144 7v2M144 44v2M145 7v1M145 24v1M145 41v1M146 6v1M146 43v1M147 7v1M147 27v1M148 26v1M148 38v1M150 24v1M151 20v1M151 40v1M152 21v2M152 41v1M153 8v1M153 25v1M154 8v1M154 28v1M154 41v1M155 27v1M156 25v1M156 37v1M157 6v1M157 27v1M157 37v1M158 13v1M158 19v2M159 13v5M159 23v2M161 7v1M162 24v1M162 41v1M163 28v1M163 37v1M164 5v1M164 41v1M165 25v1M165 42v1M169 41v1M170 34v2M170 39v1M171 31v1M171 43v1M172 6v1M172 17v1M173 5v1M173 43v1M174 24v1M174 43v1M175 24v1M175 41v1M177 2v2M177 6v5M177 29v1M178 5v1M178 23v1M178 42v1M179 13v1M179 20v1M182 5v1M183 27v1M183 38v1M184 4v1M184 40v1M185 40v1M188 25v1M189 26v1M190 5v1M190 25v1M191 23v1M192 4v1M193 3v1M193 33v1M193 38v1M194 3v1M194 40v1M195 2v1M195 38v1M196 4v1M197 4v1M197 42v1M198 40v1M201 25v1M201 37v1M202 24v1M202 41v1M204 0v5M204 37v1M206 10v2M206 24v1M206 40v1M207 24v1M207 42v1M208 25v1M209 27v1M210 5v1M211 3v1M211 26v1M212 25v1M212 43v1M213 26v1M214 43v1M215 30v2M216 29v1M216 35v1M217 1v2M217 40v1M220 7v1M220 41v1M221 29v1M224 28v3M225 25v1M226 25v1M226 41v1M227 39v1M228 46v2"/>
<path stroke="#297b8e" d="M9 33v1M9 38v1M10 27v1M10 38v1M11 43v1M13 28v1M14 0v1M14 28v1M14 37v1M15 5v1M16 0v2M16 39v1M18 26v1M18 37v1M19 8v1M20 8v1M21 8v1M21 28v1M21 39v1M23 24v1M24 6v1M24 39v1M25 25v1M25 37v1M30 31v1M31 3v1M31 43v1M32 30v1M32 43v1M34 4v1M34 30v1M34 42v1M36 26v1M38 3v1M38 26v1M39 3v1M39 24v1M39 42v1M40 4v1M40 24v1M41 37v1M42 4v1M42 26v1M43 38v1M44 37v1M47 4v1M47 40v1M48 6v1M48 25v1M50 24v1M50 42v1M51 23v1M52 23v1M52 40v1M53 38v1M54 27v1M55 30v5M55 41v1M56 3v1M57 4v1M59 1v2M59 25v1M60 40v1M61 43v1M62 2v1M62 48v2M64 55v1M65 55v1M66 53v1M67 0v1M67 46v2M68 50v1M69 46v1M71 16v1M71 21v1M71 49v1M72 29v1M72 33v1M72 39v2M73 35v1M74 39v1M78 2v1M80 49v1M81 7v1M81 12v1M81 51v1M82 9v1M82 54v1M84 56v1M86 43v2M86 49v2M86 52v2M88 55v1M89 18v1M90 19v1M90 23v1M90 51v1M91 3v1M91 49v1M92 44v1M93 14v1M94 24v1M94 28v1M94 51v1M95 3v1M96 46v1M97 44v1M98 5v4M98 16v1M98 22v1M98 26v1M98 38v1M99 10v1M100 50v1M101 0v2M101 6v2M101 23v1M102 29v3M102 36v2M102 42v1M103 13v1M103 26v1M103 30v1M103 43v1M104 26v2M105 26v2M107 10v1M107 14v1M107 25v1M107 49v1M108 15v2M108 50v1M109 49v1M110 22v1M110 26v1M110 47v1M111 23v1M112 42v1M113 29v1M113 39v1M114 11v1M114 14v1M116 27v1M117 10v1M117 12v1M118 7v1M118 12v3M119 17v1M120 11v1M120 32v2M120 39v1M122 13v1M122 24v1M124 0v2M125 14v1M125 28v1M126 18v1M126 23v1M126 29v1M127 27v1M127 33v1M128 11v2M128 14v3M128 19v2M128 27v1M129 14v1M129 26v1M129 42v1M132 6v1M132 29v3M133 13v2M133 21v1M133 27v1M133 34v1M134 5v2M134 8v2M134 24v1M135 10v1M135 26v1M136 5v1M136 43v2M137 4v1M137 35v1M137 41v1M138 26v1M138 43v1M139 9v1M139 18v1M139 23v1M140 17v1M140 23v1M140 43v1M141 7v1M141 37v1M142 14v1M143 10v1M143 36v1M143 39v1M144 24v1M144 42v2M146 0v6M146 26v1M147 28v1M147 40v1M149 24v1M149 42v1M150 41v1M151 21v4M152 7v1M152 23v1M153 39v1M154 29v1M154 40v1M155 28v1M155 36v1M156 26v1M158 14v5M158 30v1M158 38v1M159 25v2M160 37v1M161 26v1M161 40v1M162 25v1M162 40v1M165 41v1M168 28v1M170 36v3M171 3v1M171 32v1M172 25v1M174 5v1M177 0v2M177 37v1M179 6v1M179 14v2M179 18v2M179 26v1M180 5v1M180 41v1M182 4v1M182 41v1M184 3v1M185 26v1M186 20v1M186 40v1M187 41v1M188 41v1M189 27v2M189 41v1M190 40v1M191 3v1M191 40v1M192 25v1M192 36v1M193 2v1M193 34v2M193 37v1M195 1v1M196 26v1M196 40v1M197 3v1M197 26v1M198 28v1M200 8v1M201 8v1M202 40v1M203 8v1M204 27v1M204 36v1M205 7v1M205 29v1M205 39v1M206 9v1M207 8v1M208 41v1M209 28v1M210 4v1M210 28v1M210 41v1M211 2v1M211 37v1M212 2v1M212 41v2M213 4v1M216 30v1M216 34v1M217 0v1M217 27v1M218 42v1M220 25v1M221 4v1M221 40v1M222 42v1M225 40v1M227 5v1M227 26v1M227 37v2M228 25v1M228 45v1"/>
<path stroke="#25838e" d="M9 34v4M10 37v1M11 3v1M11 28v1M16 26v1M17 25v1M17 37v1M18 36v1M19 24v1M19 40v1M22 7v1M22 25v1M22 33v1M23 41v1M26 8v1M27 38v1M28 6v1M28 27v1M28 38v1M30 32v1M30 41v1M31 2v1M33 5v1M33 43v1M34 31v1M34 41v1M38 2v1M38 40v1M42 3v1M42 32v1M43 28v1M45 40v1M46 27v1M47 3v1M48 37v1M49 28v1M49 42v1M52 5v1M53 24v1M53 37v1M54 40v1M55 1v2M55 35v2M55 40v1M56 2v1M56 30v1M58 3v1M58 27v1M58 36v1M59 0v1M59 39v1M60 0v2M62 3v1M66 5v3M67 10v1M69 2v1M69 45v1M70 16v2M70 39v1M71 15v1M71 22v1M71 48v1M72 7v1M72 34v5M73 4v2M75 51v1M79 52v1M82 2v1M82 10v1M83 55v1M86 38v5M86 51v1M87 20v2M87 44v1M89 22v1M89 55v1M92 24v1M93 13v1M93 16v1M94 17v4M94 22v2M96 44v2M97 21v1M98 17v1M100 23v5M101 2v4M101 8v2M101 22v1M101 49v1M102 28v1M102 32v4M102 43v1M102 49v1M103 25v1M103 31v1M104 0v1M104 28v1M104 40v1M105 25v1M105 28v1M106 19v1M106 25v1M106 43v1M107 15v1M107 21v1M107 48v1M108 49v1M109 36v1M110 21v1M111 30v1M111 42v1M113 25v1M114 35v1M116 23v1M116 37v1M117 2v1M117 9v1M117 13v1M117 37v1M118 8v4M118 15v2M118 22v4M118 38v1M119 18v6M120 12v1M120 24v4M120 30v2M120 34v2M120 38v1M121 13v1M121 27v1M122 38v1M123 23v1M123 38v1M124 2v1M124 17v1M125 13v1M125 29v1M125 37v1M126 8v1M126 19v4M126 42v1M127 7v1M127 28v1M127 32v1M128 10v1M128 17v2M128 28v1M128 39v1M129 15v1M129 21v1M130 16v1M131 22v1M131 40v1M132 5v1M133 15v1M133 20v1M133 28v1M133 33v1M134 7v1M135 5v2M135 9v1M135 40v1M136 30v1M136 38v2M136 41v2M137 3v1M137 36v1M139 10v1M139 16v2M140 9v1M141 8v1M141 14v1M142 4v1M142 13v1M142 26v1M142 38v1M143 6v4M143 37v2M144 6v1M144 41v1M145 6v1M147 29v1M148 27v1M148 37v1M149 8v1M150 8v1M150 25v1M151 25v1M153 26v1M153 38v1M154 30v1M155 29v1M156 8v1M156 27v1M156 36v1M157 5v1M157 28v1M157 36v1M159 27v6M159 41v1M160 25v1M161 6v1M162 5v1M162 26v1M162 34v6M163 4v1M163 29v1M163 36v1M164 4v1M164 28v1M165 26v1M165 40v1M168 41v1M169 26v1M171 2v1M171 33v1M171 42v1M172 5v1M173 25v1M173 42v1M174 4v1M174 42v1M175 40v1M177 30v1M177 36v1M178 4v1M178 24v1M178 41v1M179 16v2M179 40v1M181 27v1M181 40v1M182 28v1M184 0v3M184 39v1M185 39v1M186 21v2M187 26v1M189 29v1M190 4v1M190 26v1M190 39v1M192 3v1M193 1v1M193 36v1M194 2v1M194 26v1M195 0v1M195 26v1M196 3v1M197 1v2M197 41v1M198 39v1M199 5v1M201 26v1M202 8v1M203 24v1M203 41v1M204 28v2M204 34v2M205 30v1M206 8v1M206 25v1M206 39v1M207 25v1M207 41v1M208 7v1M208 40v1M209 6v1M209 41v1M210 0v4M211 0v2M212 0v2M212 38v3M213 3v1M213 27v1M214 32v1M216 31v3M217 39v1M218 4v1M218 28v1M218 41v1M219 4v1M219 24v1M219 42v1M220 6v1M220 40v1M221 30v1M222 32v1M224 5v1M225 6v1M226 6v1M227 34v3M228 44v1"/>
<path stroke="#228c8d" d="M10 28v1M10 36v1M11 2v1M12 30v1M13 41v1M14 29v1M15 4v1M18 27v1M18 35v1M19 39v1M20 40v1M25 7v1M25 36v1M27 26v1M30 33v1M30 40v1M31 1v1M31 28v1M32 5v1M33 30v1M34 3v1M34 40v1M35 26v1M35 36v1M36 38v1M38 1v1M39 2v1M40 3v1M40 39v1M41 25v1M41 36v1M42 27v1M42 31v1M43 37v1M44 27v1M45 26v1M46 6v1M46 41v1M47 0v3M47 28v1M49 7v1M50 8v1M51 37v1M53 25v1M54 28v1M55 0v1M55 37v3M56 1v1M56 41v1M57 3v1M60 2v1M60 39v1M62 4v1M62 47v1M63 50v1M66 4v1M66 8v1M67 11v1M67 45v1M68 3v1M69 3v1M69 36v4M69 43v2M70 15v1M70 18v1M71 47v1M72 8v1M73 3v1M73 6v8M76 55v1M77 54v1M78 44v1M78 52v1M80 48v1M82 1v1M82 11v1M84 55v1M87 19v1M87 22v1M89 42v3M90 1v1M90 24v1M90 50v1M93 17v1M93 41v1M94 21v1M94 29v1M94 50v1M97 22v1M98 18v1M98 20v2M98 27v1M98 37v1M99 9v1M99 16v1M99 41v1M100 49v1M101 10v3M101 21v1M101 24v1M101 40v1M102 48v1M103 12v1M103 42v1M105 29v1M105 51v1M107 16v1M107 20v1M108 14v1M108 28v1M108 48v1M109 18v2M110 46v1M111 4v1M112 7v2M113 30v1M113 38v1M114 10v1M114 15v1M115 21v3M117 3v1M117 8v1M117 24v2M118 17v5M119 24v2M119 39v1M120 13v2M120 22v2M120 28v2M120 36v2M121 43v1M123 6v1M124 3v2M124 16v1M124 37v1M126 30v1M127 29v3M128 9v1M128 29v1M129 16v1M129 19v2M129 27v1M130 26v3M132 4v1M133 16v4M133 29v1M133 32v1M134 25v1M134 35v1M135 7v2M135 27v1M136 4v1M136 31v1M136 37v1M136 40v1M137 0v3M137 37v1M137 39v2M138 27v1M139 11v2M139 14v2M139 24v1M140 10v1M140 16v1M140 24v1M140 42v1M141 13v1M141 24v1M143 5v1M144 40v1M145 40v1M146 27v1M146 42v1M147 30v3M147 39v1M149 25v1M151 26v1M151 39v1M152 6v1M152 24v1M152 40v1M153 7v1M154 39v1M155 8v1M155 35v1M158 31v1M158 37v1M159 33v1M160 36v1M161 39v1M163 30v1M164 40v1M168 29v1M169 40v1M171 1v1M172 41v1M173 4v1M174 25v1M175 39v1M176 26v1M176 41v1M177 31v1M177 35v1M179 5v1M180 4v1M180 28v1M182 3v1M182 40v1M183 28v1M183 37v1M184 25v1M184 38v1M185 27v1M186 23v2M188 26v1M190 27v1M191 2v1M193 0v1M194 0v2M194 39v1M196 39v1M197 0v1M197 27v1M201 36v1M202 25v1M202 39v1M204 30v4M205 31v1M205 38v1M208 26v1M208 39v1M209 29v1M210 40v1M211 27v1M212 26v1M212 37v1M213 41v1M214 42v1M217 28v1M218 40v1M220 39v1M221 3v1M221 39v1M222 41v1M226 40v1M227 4v1M227 27v1M227 33v1"/>
<path stroke="#1f948c" d="M11 1v1M12 42v1M14 36v1M16 38v1M17 26v1M17 36v1M18 6v1M18 34v1M20 26v1M21 29v1M21 38v1M22 26v1M23 40v1M24 5v1M24 25v1M25 26v1M28 37v1M30 34v1M30 39v1M31 0v1M32 42v1M34 32v1M34 39v1M36 27v1M38 0v1M38 27v1M38 39v1M39 0v2M40 2v1M40 25v1M42 1v2M42 28v3M43 29v1M44 7v1M44 36v1M45 7v1M48 5v1M48 26v1M51 7v1M53 36v1M54 29v1M54 39v1M56 0v1M57 2v1M58 2v1M58 28v1M58 35v1M60 3v1M61 42v1M63 49v1M64 54v1M65 29v1M65 54v1M66 3v1M66 9v1M66 52v1M67 12v1M69 33v3M69 40v3M70 14v1M70 19v1M70 38v1M71 14v1M71 23v1M71 46v1M72 6v1M72 9v1M73 2v1M73 34v1M78 3v1M78 43v1M78 45v1M79 51v1M81 13v1M81 50v1M82 0v1M82 53v1M84 13v1M87 43v1M88 54v1M89 17v1M89 23v1M89 54v1M90 25v1M91 4v1M91 48v1M92 23v1M92 30v1M92 43v1M94 0v1M94 16v1M95 4v1M95 49v1M96 43v1M97 20v1M97 23v1M97 43v1M98 19v1M100 22v1M100 28v1M101 13v2M101 20v1M101 38v2M101 41v2M101 48v1M102 27v1M102 44v4M103 11v1M103 14v1M103 32v1M104 25v1M105 24v1M106 18v1M106 42v1M107 9v1M107 17v3M107 26v1M107 47v1M108 13v1M108 46v2M109 16v2M109 20v1M109 35v1M109 37v1M109 48v1M110 20v1M110 27v1M111 22v1M112 9v1M112 41v1M113 37v1M115 18v3M115 24v1M115 36v1M116 22v1M116 28v1M116 36v1M117 4v1M117 14v1M117 26v1M117 36v1M118 26v1M118 37v1M119 26v1M120 15v1M120 20v2M122 12v1M122 25v1M122 37v1M124 5v5M124 25v1M125 12v1M125 30v1M125 36v1M128 30v1M128 38v1M129 17v2M129 41v1M130 17v1M130 25v1M130 41v1M131 39v1M132 3v1M133 30v2M135 39v1M136 3v1M136 32v1M136 35v2M137 38v1M138 42v1M139 13v1M140 11v1M140 15v1M141 9v2M141 12v1M142 5v1M142 12v1M142 27v1M142 37v1M144 5v1M144 25v1M145 5v1M145 25v1M147 33v1M147 38v1M148 8v1M148 28v1M148 36v1M149 41v1M150 26v1M150 40v1M153 27v1M153 37v1M154 31v1M154 38v1M155 30v1M155 34v1M156 28v1M156 35v1M157 29v1M157 35v1M158 32v1M158 36v1M159 40v1M161 5v1M161 27v1M162 27v1M162 33v1M163 3v1M163 35v1M164 3v1M165 39v1M171 0v1M171 34v1M171 41v1M172 26v1M173 41v1M174 3v1M175 25v1M175 38v1M177 32v3M178 3v1M180 40v1M182 1v2M185 38v1M186 25v2M186 39v1M187 40v1M189 30v1M189 40v1M190 3v1M190 37v2M191 0v2M191 24v1M191 39v1M192 2v1M192 26v1M192 35v1M195 37v1M196 2v1M196 27v1M198 29v1M198 38v1M199 4v1M201 27v1M202 37v2M203 7v1M205 32v1M205 37v1M208 36v3M210 29v1M211 36v1M212 36v1M213 1v2M214 33v1M217 38v1M218 3v1M218 29v1M218 39v1M220 26v1M220 38v1M221 31v1M222 33v1M224 4v1M225 26v1M226 26v1M227 28v1M227 32v1M228 26v1M228 43v1"/>
<path stroke="#1e9d89" d="M10 29v1M10 35v1M11 0v1M11 29v1M11 42v1M13 29v1M14 30v1M14 35v1M15 3v1M16 27v1M18 28v1M19 38v1M22 32v1M23 25v1M24 38v1M25 35v1M27 7v1M27 37v1M28 5v1M28 28v1M30 35v4M31 42v1M32 31v1M33 4v1M34 2v1M34 33v1M34 38v1M35 35v1M39 25v1M39 41v1M40 0v2M40 38v1M41 35v1M42 0v1M43 6v1M43 36v1M47 39v1M49 29v1M50 25v1M50 41v1M52 4v1M52 24v1M53 26v1M53 32v4M56 31v1M56 40v1M58 1v1M58 34v1M59 26v1M60 4v1M60 20v2M62 5v1M62 46v1M65 28v1M65 30v1M66 0v3M67 13v1M67 44v1M68 4v1M68 49v1M69 4v1M69 13v2M70 13v1M71 35v11M72 28v1M73 0v2M73 14v1M74 38v1M75 50v1M77 4v1M77 53v1M78 42v1M78 51v1M79 50v1M81 6v1M83 54v1M84 54v1M85 55v1M86 37v1M87 18v1M89 41v1M89 45v1M90 18v1M90 49v1M93 18v1M93 25v1M94 1v1M94 30v1M94 49v1M96 42v1M98 36v1M99 8v1M99 40v1M101 15v5M101 25v1M101 43v1M101 47v1M102 26v1M103 24v1M103 41v1M104 29v1M105 0v3M105 23v1M105 50v1M106 26v1M107 46v1M109 15v1M109 21v1M110 19v1M110 45v1M111 31v1M111 41v1M112 10v1M113 24v1M113 31v1M113 36v1M114 34v1M115 17v1M116 29v1M117 5v3M117 23v1M119 27v1M120 16v4M123 5v1M123 24v1M123 37v1M124 10v1M124 15v1M125 11v1M125 31v1M125 35v1M126 7v1M126 41v1M128 8v1M128 31v1M129 28v1M130 24v1M130 29v1M131 23v1M134 26v1M135 28v1M136 2v1M136 33v2M139 25v1M139 41v1M140 12v3M140 41v1M141 11v1M141 36v1M142 6v1M143 4v1M144 39v1M146 28v1M146 41v1M147 6v1M147 34v4M148 29v1M148 34v2M150 27v1M151 27v1M151 38v1M152 5v1M153 36v1M154 7v1M154 32v1M154 36v2M155 31v3M157 4v1M157 30v1M158 33v1M158 35v1M159 34v1M159 39v1M160 26v1M160 35v1M161 4v1M161 38v1M162 4v1M162 28v2M162 31v2M163 31v4M164 29v1M165 27v1M165 38v1M168 30v1M168 40v1M169 27v1M172 4v1M173 3v1M173 26v1M174 2v1M174 41v1M175 37v1M178 25v1M178 40v1M179 27v1M180 3v1M182 0v1M182 29v1M185 28v1M186 27v1M188 40v1M190 28v2M190 31v6M192 0v2M194 27v1M196 1v1M196 38v1M197 40v1M198 37v1M200 7v1M201 35v1M202 36v1M203 25v1M205 6v1M205 33v4M206 7v1M206 26v1M206 38v1M207 26v1M207 40v1M208 27v1M208 34v2M209 40v1M211 28v1M212 27v1M213 0v1M213 28v1M214 41v1M217 29v1M218 38v1M219 3v1M219 41v1M220 5v1M221 2v1M221 38v1M222 40v1M225 39v1M226 5v1M227 29v3"/>
<path stroke="#21a585" d="M10 34v1M13 40v1M14 31v1M17 35v1M18 29v1M18 32v2M19 7v1M19 25v1M19 37v1M20 39v1M21 37v1M22 6v1M22 27v1M22 31v1M25 27v1M27 27v1M32 4v1M33 42v1M34 1v1M34 34v4M35 27v1M38 28v1M38 38v1M40 37v1M41 26v1M43 30v1M43 35v1M44 28v1M44 35v1M45 39v1M47 29v1M48 4v1M48 36v1M49 41v1M51 24v1M52 39v1M53 27v1M53 30v2M54 30v1M54 38v1M57 0v2M58 0v1M58 29v1M59 38v1M60 5v1M60 19v1M60 22v1M60 38v1M63 48v1M64 4v4M64 53v1M65 31v1M66 10v1M66 51v1M67 14v1M69 15v1M69 32v1M70 12v1M70 20v1M71 13v1M71 24v1M71 34v1M72 5v1M73 21v1M73 33v1M74 5v1M78 46v1M82 12v1M82 52v1M84 14v1M84 53v1M87 23v1M87 42v1M88 0v1M88 53v1M89 24v1M89 46v1M89 53v1M90 26v1M90 48v1M91 5v1M91 25v2M91 47v1M92 13v2M92 22v1M93 12v1M93 24v1M93 26v1M94 15v1M97 19v1M97 24v1M98 28v1M99 17v1M100 0v1M100 21v1M100 29v1M100 48v1M101 37v1M101 44v3M102 25v1M103 33v1M104 1v1M104 39v1M105 3v1M105 30v1M105 49v1M107 45v1M108 12v1M108 45v1M109 38v1M110 18v1M110 42v3M112 6v1M112 11v1M113 32v1M113 35v1M114 9v1M114 16v1M115 16v1M115 25v1M116 35v1M117 27v1M117 35v1M118 27v1M118 36v1M119 38v1M121 12v1M121 28v1M122 36v1M124 11v4M124 36v1M125 7v4M125 32v3M126 31v1M128 32v1M128 37v1M130 18v1M132 1v2M134 34v1M136 1v1M138 28v1M142 11v1M142 28v1M145 4v1M146 29v1M148 30v4M149 7v1M149 40v1M150 7v1M150 28v2M151 28v1M152 25v1M152 39v1M154 33v3M156 7v1M156 29v1M156 34v1M157 31v1M157 33v2M158 34v1M159 35v1M162 30v1M163 2v1M164 2v1M171 35v1M171 40v1M172 40v1M173 40v1M174 1v1M175 36v1M178 2v1M179 4v1M180 2v1M181 28v1M181 39v1M182 39v1M183 29v1M183 36v1M184 26v1M184 37v1M185 29v1M185 37v1M186 28v1M187 27v1M189 31v1M190 2v1M190 30v1M194 38v1M195 27v1M196 0v1M196 28v1M196 37v1M197 28v1M198 30v1M198 36v1M199 3v1M201 28v1M202 26v1M203 40v1M207 7v1M207 39v1M209 5v1M209 30v1M210 39v1M212 35v1M213 40v1M214 34v1M217 37v1M218 2v1M218 37v1M219 25v1M221 1v1M221 32v1M221 37v1M222 34v1M225 5v1M227 3v1M228 42v1"/>
<path stroke="#28ae80" d="M10 30v2M10 33v1M12 31v1M14 32v3M15 2v1M16 37v1M17 27v1M18 30v2M19 36v1M20 7v1M20 27v1M21 7v1M21 30v1M22 28v3M23 39v1M24 4v1M25 34v1M26 7v1M28 29v1M28 36v1M33 31v1M34 0v1M36 28v1M36 37v1M43 31v1M43 34v1M45 27v1M46 28v1M46 40v1M51 36v1M52 3v1M53 28v2M54 31v1M54 37v1M58 30v1M58 33v1M60 6v1M60 18v1M60 23v1M60 37v1M61 41v1M63 43v5M64 3v1M65 27v1M65 32v1M65 53v1M66 11v1M67 15v3M67 43v1M69 5v1M69 12v1M70 37v1M71 3v3M71 33v1M73 15v1M73 20v1M74 3v2M74 6v1M74 23v2M76 54v1M77 22v1M78 47v1M78 49v2M79 49v1M80 47v1M81 14v1M81 49v1M82 42v3M83 53v1M84 12v1M87 17v1M90 27v1M91 24v1M91 27v1M92 15v1M92 42v1M93 19v1M93 23v1M94 2v1M94 48v1M96 24v4M97 1v4M97 42v1M98 35v1M99 0v1M99 7v1M100 1v1M101 26v1M101 36v1M102 21v4M103 15v1M103 23v1M104 24v1M105 22v1M105 48v1M106 17v1M106 27v1M106 41v1M107 41v4M108 44v1M109 14v1M110 13v5M110 41v1M111 5v1M111 21v1M112 40v1M113 14v2M113 33v2M115 15v1M115 35v1M116 21v1M116 30v1M117 15v1M117 22v1M119 28v1M121 42v1M122 11v1M122 26v1M123 36v1M124 26v1M125 6v1M126 40v1M128 7v1M128 33v1M128 35v2M129 29v1M130 19v1M130 23v1M130 30v1M131 24v1M131 38v1M132 0v1M135 29v1M135 38v1M136 0v1M140 25v1M140 40v1M141 25v1M142 7v2M142 10v1M142 36v1M143 3v1M144 4v1M144 38v1M146 30v1M146 40v1M149 26v1M150 30v1M150 39v1M151 37v1M152 4v1M153 28v1M153 35v1M155 7v1M156 30v1M156 33v1M157 3v1M157 32v1M159 36v3M161 3v1M161 28v1M161 37v1M164 1v1M164 39v1M165 28v1M165 37v1M168 31v1M168 39v1M169 39v1M171 36v1M171 39v1M172 3v1M172 27v1M173 2v1M173 27v1M174 0v1M174 26v1M175 26v1M176 27v1M176 40v1M178 1v1M179 39v1M180 1v1M180 29v1M186 29v1M186 38v1M188 27v1M189 39v1M190 0v2M191 38v1M192 27v1M192 34v1M195 36v1M197 39v1M198 31v1M198 35v1M201 7v1M201 34v1M202 7v1M202 35v1M206 27v1M206 37v1M208 6v1M208 28v1M208 33v1M210 30v1M211 35v1M214 40v1M217 30v1M217 36v1M218 1v1M218 30v1M220 4v1M220 27v1M220 37v1M221 0v1M221 33v1M221 36v1M222 35v1M222 39v1M224 3v1M225 27v1M226 39v1"/>
<path stroke="#34b679" d="M10 32v1M12 41v1M13 30v1M16 28v1M17 34v1M18 5v1M25 28v1M27 36v1M31 29v1M32 3v1M32 41v1M33 3v1M35 28v1M35 34v1M38 37v1M39 40v1M40 26v1M40 36v1M41 34v1M43 32v2M44 29v1M46 5v1M48 3v1M48 27v1M54 32v2M54 35v2M56 32v1M56 39v1M58 31v2M60 7v2M60 17v1M60 32v2M60 36v1M62 45v1M63 42v1M65 33v1M67 18v2M67 22v1M68 5v1M68 32v2M68 48v1M69 31v1M70 11v1M70 21v1M71 1v2M71 6v1M71 12v1M71 25v1M71 31v2M72 10v1M73 16v1M73 19v1M73 22v1M74 2v1M74 7v1M74 25v1M75 49v1M77 21v1M77 23v1M77 52v1M78 4v1M78 48v1M79 48v1M80 0v1M82 13v1M82 45v1M82 51v1M83 52v1M84 15v1M84 52v1M86 19v2M86 36v1M87 41v1M88 24v1M88 52v1M89 40v1M89 47v1M89 52v1M90 2v1M90 47v1M91 23v1M91 28v1M91 46v1M92 16v1M92 21v1M92 31v1M93 0v2M93 20v3M93 40v1M94 14v1M95 5v1M95 25v1M95 48v1M96 23v1M96 28v1M96 41v1M97 0v1M97 5v2M99 1v1M99 39v1M100 2v1M100 47v1M103 10v1M103 40v1M105 4v1M105 44v4M107 8v1M107 27v1M107 38v3M108 11v1M108 29v1M109 8v1M109 13v1M109 34v1M109 47v1M110 12v1M110 28v1M110 40v1M111 32v1M111 40v1M113 11v3M113 23v1M114 17v1M115 14v1M116 20v1M116 31v1M116 34v1M117 28v1M117 34v1M118 28v1M118 35v1M125 5v1M127 6v1M128 34v1M129 40v1M130 20v3M130 40v1M134 27v1M134 33v1M138 41v1M140 39v1M142 9v1M142 29v1M142 35v1M143 2v1M144 26v1M145 3v1M145 26v1M145 39v1M146 31v4M150 31v1M151 29v1M152 3v1M152 26v1M156 31v2M160 27v1M160 34v1M161 2v1M162 3v1M163 0v2M164 0v1M169 28v1M171 37v2M173 1v1M173 34v3M173 39v1M174 40v1M175 35v1M178 0v1M178 39v1M179 3v1M180 0v1M180 39v1M182 30v1M182 38v1M183 30v1M183 35v1M185 30v1M185 36v1M189 32v1M191 25v1M194 28v1M196 29v1M196 36v1M197 29v1M198 32v3M199 2v1M201 29v1M201 33v1M202 34v1M203 6v1M207 27v1M207 38v1M208 29v1M208 32v1M209 31v1M209 39v1M210 38v1M211 29v1M212 28v1M212 34v1M213 29v1M214 35v1M214 39v1M218 0v1M218 36v1M219 2v1M221 34v2M222 36v3M225 38v1M226 27v1M227 2v1M228 27v1"/>
<path stroke="#42be71" d="M11 41v1M13 39v1M15 0v2M16 36v1M17 28v1M17 33v1M20 38v1M21 31v1M21 36v1M24 26v1M25 6v1M25 33v1M27 28v1M28 4v1M28 30v1M28 35v1M31 41v1M32 32v1M33 41v1M38 29v1M39 26v1M41 27v1M43 5v1M44 6v1M44 34v1M47 38v1M48 2v1M48 35v1M49 6v1M49 30v1M50 7v1M50 40v1M54 34v1M59 27v1M60 9v1M60 15v2M60 24v1M60 31v1M60 34v2M62 6v1M63 41v1M64 2v1M64 8v1M64 52v1M65 26v1M65 34v1M66 12v1M66 30v1M66 50v1M67 20v2M67 23v1M67 42v1M68 13v1M68 30v2M68 34v2M69 6v1M69 11v1M69 16v1M71 0v1M71 7v1M71 11v1M71 30v1M72 4v1M73 17v2M73 32v1M74 0v2M74 8v6M74 22v1M78 41v1M81 5v1M81 48v1M82 46v1M83 0v1M85 54v1M86 21v1M87 11v1M87 16v1M87 24v1M88 22v2M88 25v1M89 25v1M89 48v2M89 51v1M90 28v2M91 6v1M91 45v1M92 12v1M92 17v1M92 20v1M93 2v1M93 11v1M93 27v1M94 31v1M95 26v1M96 29v3M97 7v1M97 18v1M97 25v1M98 29v1M98 34v1M99 2v1M99 6v1M99 18v1M100 20v1M100 30v1M101 35v1M102 0v4M102 20v1M103 16v1M103 34v1M103 39v1M104 16v2M104 23v1M104 30v1M105 21v1M105 31v1M105 43v1M107 36v2M109 7v1M109 9v2M109 12v1M109 22v1M112 5v1M112 12v1M112 27v2M113 10v1M113 16v1M114 8v1M114 33v1M115 13v1M115 26v1M116 32v2M117 16v1M117 21v1M117 29v1M117 33v1M119 29v1M119 37v1M121 11v1M122 10v1M122 35v1M123 4v1M123 25v1M124 35v1M126 32v1M126 39v1M131 25v1M131 37v1M134 28v1M135 37v1M138 29v1M139 26v1M140 36v3M141 35v1M142 30v1M143 1v1M144 3v1M145 2v1M146 35v1M146 39v1M147 5v1M149 39v1M151 30v1M151 36v1M152 2v1M152 38v1M153 6v1M153 29v1M153 34v1M157 2v1M161 0v2M161 29v1M161 36v1M164 30v1M165 36v1M172 2v1M173 0v1M173 28v1M173 33v1M173 37v2M178 26v1M181 29v1M184 36v1M185 31v1M185 35v1M186 30v1M187 39v1M189 38v1M192 28v1M192 33v1M194 37v1M195 28v1M196 30v1M196 34v2M197 38v1M201 30v1M201 32v1M202 27v1M203 39v1M205 5v1M206 36v1M207 37v1M208 30v2M210 31v1M211 30v1M211 34v1M214 36v3M217 31v1M217 35v1M218 31v1M219 1v1M219 40v1M220 36v1M224 2v1M226 4v1M227 1v1M228 41v1"/>
<path stroke="#54c568" d="M11 30v1M17 29v1M17 32v1M19 26v1M19 35v1M21 32v1M21 35v1M23 26v1M23 38v1M24 3v1M24 37v1M25 29v4M27 35v1M28 31v1M28 34v1M32 2v1M33 2v1M35 29v1M35 33v1M36 29v1M36 36v1M38 36v1M40 35v1M41 33v1M44 30v1M44 33v1M45 6v1M45 38v1M47 30v1M48 1v1M49 40v1M50 26v1M51 6v1M52 2v1M52 25v1M56 33v1M56 38v1M59 37v1M60 10v3M60 14v1M60 25v1M60 30v1M61 40v1M63 25v2M63 34v3M64 1v1M64 51v1M65 0v1M65 35v1M65 39v2M66 29v1M67 41v1M68 6v1M68 14v1M68 36v1M69 7v1M69 10v1M70 10v1M70 36v1M71 8v3M71 26v2M71 29v1M72 27v1M74 14v1M77 51v1M82 47v1M82 50v1M83 46v3M83 50v2M84 0v3M84 11v1M84 51v1M85 13v1M86 18v1M87 9v2M87 12v1M87 40v1M88 13v1M88 21v1M88 51v1M89 16v1M89 39v1M89 50v1M90 17v1M90 30v1M90 46v1M91 22v1M92 18v2M92 41v1M93 3v1M94 3v1M94 13v1M94 47v1M95 24v1M95 27v1M96 0v2M96 22v1M96 32v1M97 41v1M98 33v1M99 3v1M99 5v1M100 3v1M100 46v1M101 27v1M102 19v1M103 22v1M103 35v1M104 2v1M104 15v1M104 18v1M104 38v1M105 20v1M106 16v1M106 28v1M106 40v1M108 10v1M109 11v1M109 39v1M110 11v1M110 39v1M111 6v1M111 20v1M112 26v1M112 39v1M113 8v2M114 18v1M115 11v2M115 34v1M116 19v1M117 17v1M117 20v1M118 29v1M122 27v1M123 35v1M124 27v1M125 4v1M128 6v1M129 30v1M130 31v1M134 32v1M135 30v1M139 40v1M140 26v1M140 35v1M142 31v1M142 33v2M143 0v1M144 37v1M145 1v1M146 36v3M148 7v1M149 27v1M150 32v1M150 38v1M151 31v2M151 35v1M152 0v2M153 30v1M153 33v1M157 1v1M160 28v1M160 33v1M164 38v1M165 29v1M168 32v1M168 38v1M172 39v1M173 32v1M175 27v1M175 34v1M179 2v1M179 28v1M181 38v1M182 31v1M182 37v1M183 31v1M183 33v2M184 27v1M185 32v3M186 37v1M187 28v1M188 39v1M189 33v1M195 35v1M196 31v3M197 30v1M197 37v1M199 0v2M200 6v1M201 31v1M203 26v1M206 28v1M207 36v1M209 4v1M210 37v1M211 31v1M211 33v1M212 29v1M212 33v1M213 39v1M217 32v3M218 35v1M219 0v1M220 3v1M220 28v1M225 4v1M227 0v1"/>
<path stroke="#67cc5c" d="M12 32v1M13 31v1M16 29v1M17 30v2M20 28v1M21 33v2M22 5v1M27 6v1M27 29v1M28 32v2M33 32v1M35 30v3M38 30v1M38 35v1M39 39v1M40 27v1M41 28v1M44 31v2M46 29v1M48 0v1M48 28v1M51 25v1M52 1v1M52 38v1M56 34v1M56 37v1M60 13v1M60 26v1M60 29v1M63 24v1M63 27v1M63 37v1M63 39v2M64 0v1M64 9v1M64 47v4M65 1v1M65 25v1M65 36v3M65 52v1M66 13v1M66 28v1M66 31v1M66 49v1M68 12v1M68 15v1M68 29v1M68 37v1M68 47v1M69 8v2M69 30v1M70 0v3M70 22v1M71 28v1M72 3v1M73 23v1M74 37v1M75 25v2M77 48v3M79 47v1M80 46v1M81 15v1M82 14v1M82 41v1M82 48v2M83 1v1M83 45v1M83 49v1M84 3v1M85 12v1M87 13v3M87 39v1M88 1v1M88 12v1M88 14v1M88 20v1M88 26v1M90 31v1M90 45v1M91 7v1M91 29v1M91 44v1M92 11v1M93 10v1M95 6v1M96 2v1M96 33v1M96 40v1M97 8v1M97 17v1M98 30v2M99 4v1M99 38v1M100 40v2M101 34v1M102 4v1M103 36v3M104 19v1M104 22v1M105 5v1M105 11v3M105 19v1M105 42v1M107 28v1M107 35v1M109 46v1M110 5v3M110 10v1M110 29v1M111 33v1M111 39v1M112 29v1M113 7v1M113 17v1M113 22v1M115 27v1M116 17v2M117 18v2M117 30v3M118 34v1M119 36v1M121 29v1M121 41v1M122 34v1M126 6v1M126 33v1M126 38v1M131 26v1M134 29v3M135 31v1M135 36v1M141 26v1M142 32v1M144 2v1M144 27v1M145 0v1M150 6v1M150 33v1M150 37v1M151 33v2M152 27v1M153 31v2M156 6v1M157 0v1M161 30v1M161 35v1M162 2v1M165 35v1M168 33v1M169 29v1M169 38v1M172 1v1M172 28v1M173 29v3M174 27v1M174 39v1M178 38v1M180 30v1M183 32v1M186 31v1M188 28v1M189 37v1M191 26v1M191 37v1M192 29v1M192 31v2M194 29v1M197 31v1M197 35v2M202 33v1M206 6v1M206 35v1M207 28v1M207 35v1M209 32v1M209 38v1M210 32v1M211 32v1M212 30v3M213 30v1M218 32v3M219 26v1M220 35v1M224 0v2M225 28v1M225 37v1M226 38v1M228 28v1"/>
<path stroke="#7cd250" d="M12 40v1M16 35v1M19 34v1M20 37v1M31 30v1M32 1v1M32 33v1M32 40v1M33 1v1M36 30v1M36 35v1M38 31v1M38 34v1M40 34v1M41 29v1M41 32v1M45 28v1M46 4v1M46 39v1M47 37v1M48 34v1M51 35v1M52 0v1M56 35v2M60 27v2M61 39v1M62 44v1M63 33v1M63 38v1M64 46v1M65 41v1M66 48v1M67 40v1M68 7v1M68 11v1M69 17v1M70 3v1M70 9v1M73 31v1M74 15v1M74 21v1M74 26v1M75 23v2M75 48v1M77 5v1M77 24v1M78 15v1M78 40v1M80 1v1M81 4v1M83 44v1M84 4v1M84 16v1M84 27v2M84 50v1M85 11v1M86 22v1M87 8v1M87 38v1M88 36v1M88 50v1M89 26v1M90 32v1M90 44v1M92 32v1M93 4v1M94 4v1M94 12v1M94 46v1M95 47v1M96 3v1M98 32v1M99 19v1M100 19v1M100 31v1M100 42v2M100 45v1M101 28v1M101 33v1M102 18v1M103 0v1M103 17v1M103 21v1M104 14v1M104 20v2M104 31v1M105 14v5M107 7v1M108 9v1M108 43v1M109 23v1M109 33v1M110 8v2M111 7v1M111 19v1M112 4v1M112 13v1M113 6v1M113 18v1M114 7v1M114 19v1M115 10v1M118 30v1M118 33v1M119 30v1M121 10v1M122 9v1M122 28v1M123 26v1M124 34v1M125 3v1M126 34v1M126 37v1M129 39v1M130 39v1M131 36v1M140 34v1M145 38v1M149 38v1M152 37v1M160 29v1M160 31v2M161 31v1M161 33v2M164 31v1M165 30v1M168 37v1M172 0v1M176 28v1M176 39v1M179 0v2M179 38v1M180 38v1M182 36v1M184 35v1M186 36v1M189 34v3M192 30v1M194 36v1M195 29v1M197 32v3M202 28v1M202 32v1M206 29v1M206 34v1M207 6v1M207 34v1M208 5v1M210 36v1M220 2v1M226 3v1M226 28v1M228 40v1"/>
<path stroke="#93d741" d="M13 38v1M16 30v1M16 34v1M18 4v1M19 27v1M23 37v1M24 2v1M24 27v1M27 30v1M27 34v1M28 3v1M31 40v1M32 0v1M33 0v1M33 40v1M38 32v2M40 28v1M41 30v2M45 37v1M47 31v1M48 29v1M49 31v1M50 39v1M59 28v1M59 36v1M62 7v1M63 23v1M63 28v1M65 2v1M66 14v1M66 27v1M66 47v1M67 24v1M68 8v1M68 10v1M68 16v1M68 28v1M68 38v1M70 4v1M70 8v1M70 35v1M72 2v1M72 11v1M73 24v1M75 22v1M75 27v1M76 53v1M77 47v1M78 5v1M78 16v2M78 24v3M81 47v1M83 42v2M84 10v1M84 25v2M84 29v1M84 34v1M85 10v1M85 14v1M86 17v1M86 35v1M87 25v1M88 11v1M88 15v1M88 19v1M88 37v1M89 38v1M90 3v1M90 43v1M91 8v1M91 21v1M91 43v1M92 10v1M93 5v1M93 28v1M93 39v1M95 28v1M96 4v1M96 21v1M96 34v1M96 39v1M97 9v1M97 26v1M97 40v1M100 4v1M100 39v1M100 44v1M102 5v1M103 9v1M103 18v1M103 20v1M104 37v1M105 6v1M105 10v1M106 29v1M106 39v1M107 29v1M107 34v1M108 8v1M108 30v1M109 6v1M109 40v1M109 45v1M110 4v1M110 38v1M111 13v1M111 18v1M111 34v1M111 38v1M112 25v1M112 30v1M113 21v1M114 32v1M115 33v1M116 16v1M118 31v2M119 31v1M119 35v1M122 8v1M122 33v1M123 3v1M123 34v1M124 28v1M126 35v2M128 5v1M129 31v1M131 27v1M135 32v1M135 35v1M138 30v1M138 40v1M139 27v1M140 27v1M141 34v1M144 1v1M144 36v1M145 27v1M149 6v1M149 28v1M150 34v3M152 28v1M154 6v1M160 30v1M161 32v1M162 1v1M164 37v1M165 31v1M165 34v1M168 34v3M175 28v1M175 33v1M178 27v1M181 30v1M181 37v1M182 32v1M184 28v1M186 32v2M186 35v1M195 34v1M202 29v1M202 31v1M203 5v1M203 38v1M205 4v1M206 30v1M206 33v1M207 29v1M209 3v1M209 33v1M209 37v1M210 33v3M213 31v1M213 38v1M219 39v1M220 29v1"/>
<path stroke="#addc30" d="M11 31v1M11 40v1M12 33v1M13 32v1M16 31v1M16 33v1M19 6v1M20 29v1M21 6v1M23 27v1M24 36v1M27 31v1M27 33v1M33 33v1M36 31v1M36 34v1M39 27v1M39 38v1M40 33v1M43 4v1M47 36v1M48 33v1M49 39v1M61 38v1M63 29v1M63 32v1M64 10v1M64 32v1M64 45v1M65 24v1M65 42v1M65 51v1M66 32v1M66 46v1M68 9v1M68 27v1M69 29v1M70 5v3M70 23v1M73 30v1M74 16v1M74 20v1M75 21v1M77 20v1M81 16v1M82 15v1M83 2v1M83 41v1M84 5v1M84 30v1M84 33v1M85 9v1M85 53v1M87 7v1M87 37v1M88 16v3M88 27v1M88 35v1M88 49v1M90 42v1M92 1v4M92 40v1M93 6v1M93 8v2M94 11v1M94 32v1M96 5v1M97 16v1M99 20v1M99 28v2M99 37v1M101 29v4M102 17v1M103 19v1M105 7v3M105 32v1M105 41v1M106 15v1M107 33v1M110 30v1M111 8v1M111 11v2M111 14v1M111 35v1M111 37v1M112 3v1M112 38v1M113 5v1M113 19v2M114 20v1M115 9v1M115 28v1M116 15v1M122 29v1M124 33v1M127 5v1M130 32v1M131 35v1M135 33v2M140 33v1M141 27v1M144 0v1M144 28v1M147 4v1M149 37v1M152 29v1M152 36v1M155 6v1M162 0v1M164 32v1M165 32v2M169 30v1M169 37v1M172 29v1M172 38v1M174 38v1M180 31v1M182 33v3M186 34v1M187 38v1M191 36v1M194 30v1M194 35v1M195 30v1M202 6v1M202 30v1M203 27v1M206 31v2M207 30v1M207 33v1M209 34v1M209 36v1M220 0v2M220 34v1M225 3v1M225 29v1M225 36v1"/>
<path stroke="#c5e021" d="M12 39v1M13 37v1M16 32v1M19 33v1M20 6v1M20 36v1M22 4v1M24 1v1M25 5v1M26 6v1M27 32v1M32 39v1M36 32v2M40 29v1M44 5v1M45 29v1M47 32v1M48 30v1M49 5v1M50 27v1M62 43v1M63 22v1M63 30v2M64 31v1M64 33v1M65 3v1M66 26v1M68 17v1M68 24v3M68 46v1M69 18v1M72 0v2M73 25v1M74 17v1M75 47v1M78 14v1M78 18v1M78 23v1M78 39v1M79 46v1M80 45v1M82 40v1M83 40v1M84 6v1M84 9v1M84 24v1M84 31v2M84 35v1M84 49v1M85 8v1M86 16v1M88 38v1M89 27v1M89 37v1M90 16v1M90 33v1M91 9v1M91 30v1M92 0v1M92 5v1M92 9v1M93 7v1M94 5v1M94 45v1M95 7v1M95 23v1M95 29v1M96 6v2M96 35v1M96 38v1M97 10v1M97 39v1M99 27v1M99 30v1M100 5v1M100 18v1M100 32v1M100 38v1M102 6v1M102 16v1M103 1v1M104 3v1M104 13v1M104 32v1M107 30v1M108 7v1M109 24v1M109 41v1M109 44v1M110 3v1M110 37v1M111 9v2M111 15v3M111 36v1M112 24v1M119 32v3M121 9v1M121 40v1M122 7v1M122 32v1M123 27v1M124 29v1M125 2v1M129 32v1M129 38v1M131 28v1M131 34v1M139 39v1M144 35v1M149 29v1M152 30v1M152 35v1M153 5v1M164 36v1M174 28v1M175 29v1M175 32v1M178 37v1M179 29v1M184 29v1M184 34v1M187 29v1M188 29v1M188 38v1M191 27v1M195 31v1M195 33v1M201 6v1M207 31v2M209 35v1M220 30v1M220 33v1M226 2v1M226 37v1M228 29v1"/>
<path stroke="#dde318" d="M13 33v1M19 28v1M24 0v1M28 2v1M31 31v1M32 34v1M33 39v1M40 32v1M46 30v1M47 33v1M47 35v1M48 31v2M50 6v1M51 5v1M52 26v1M59 29v1M59 35v1M61 30v3M61 37v1M64 16v2M64 30v1M65 43v1M66 15v1M66 33v1M66 45v1M67 25v1M67 39v1M68 23v1M68 39v1M70 34v1M72 26v1M73 29v1M74 18v2M74 27v1M74 36v1M75 28v1M77 46v1M78 27v1M81 3v1M81 46v1M82 16v1M82 19v3M84 8v1M84 17v1M84 36v1M85 7v1M85 15v1M86 23v1M87 6v1M87 36v1M88 2v1M88 34v1M88 48v1M90 41v1M91 20v1M91 42v1M92 6v3M92 33v1M94 6v1M94 10v1M95 38v1M96 8v2M96 20v1M96 36v2M97 11v1M97 15v1M97 27v1M99 21v1M99 26v1M99 31v1M99 36v1M100 6v1M100 10v3M104 33v1M104 36v1M106 30v1M106 38v1M107 31v2M109 32v1M109 42v2M110 31v1M110 36v1M112 2v1M112 14v1M112 31v1M112 37v1M114 21v1M115 8v1M115 29v1M115 32v1M116 14v1M121 30v1M122 5v2M122 30v2M123 2v1M123 33v1M124 30v3M125 1v1M130 38v1M131 29v1M131 33v1M138 31v1M138 39v1M140 28v1M140 32v1M141 33v1M144 29v1M150 5v1M152 31v4M164 33v1M164 35v1M175 30v2M176 29v1M176 38v1M179 37v1M180 37v1M181 31v1M184 33v1M194 31v1M194 34v1M195 32v1M200 5v1M203 37v1M209 2v1M213 32v1M213 37v1M219 27v1M220 31v2M225 30v1M225 35v1M226 29v1M228 39v1"/>
<path stroke="#f4e61e" d="M11 32v8M12 34v5M13 34v3M18 0v4M19 0v6M19 29v4M20 0v6M20 30v6M21 0v6M22 0v4M23 28v9M24 28v8M25 0v5M26 0v6M27 0v6M28 0v2M31 32v8M32 35v4M33 34v5M39 28v10M40 30v2M43 0v4M44 0v5M45 0v6M45 30v7M46 0v4M46 31v8M47 34v1M49 0v5M49 32v7M50 0v6M50 28v11M51 0v5M51 26v9M52 27v11M59 30v5M61 0v30M61 33v4M62 8v35M63 0v22M64 11v5M64 18v12M64 34v11M65 4v20M65 44v7M66 16v10M66 34v11M67 26v13M68 18v5M68 40v6M69 19v10M70 24v10M72 12v14M73 26v3M74 28v8M75 0v21M75 29v18M76 0v53M77 6v14M77 25v21M78 6v8M78 19v4M78 28v11M79 0v46M80 2v43M81 0v3M81 17v29M82 17v2M82 22v18M83 3v37M84 7v1M84 18v6M84 37v12M85 0v7M85 16v37M86 0v16M86 24v11M87 0v6M87 26v10M88 3v8M88 28v6M88 39v9M89 0v16M89 28v9M90 4v12M90 34v7M91 10v10M91 31v11M92 34v6M93 29v10M94 7v3M94 33v12M95 8v15M95 30v8M95 39v8M96 10v10M97 12v3M97 28v11M99 22v4M99 32v4M100 7v3M100 13v5M100 33v5M102 7v9M103 2v7M104 4v9M104 34v2M105 33v8M106 0v15M106 31v7M107 0v7M108 0v7M108 31v12M109 0v6M109 25v7M110 0v3M110 32v4M112 0v2M112 15v9M112 32v5M113 0v5M114 0v7M114 22v10M115 0v8M115 30v2M116 0v14M121 0v9M121 31v9M122 0v5M123 0v2M123 28v5M125 0v1M126 0v6M127 0v5M128 0v5M129 33v5M130 33v5M131 30v3M138 32v7M139 28v11M140 29v3M141 28v5M144 30v5M145 28v10M147 0v4M148 0v7M149 0v6M149 30v7M150 0v5M153 0v5M154 0v6M155 0v6M156 0v6M164 34v1M169 31v6M172 30v8M174 29v9M176 30v8M178 28v9M179 30v7M180 32v5M181 32v5M184 30v3M187 30v8M188 30v8M191 28v8M194 32v2M200 0v5M201 0v6M202 0v6M203 0v5M203 28v9M205 0v4M206 0v6M207 0v6M208 0v5M209 0v2M213 33v4M219 28v11M225 0v3M225 31v4M226 0v2M226 30v7M228 30v9"/>
</g></g>
<rect x="313" y="78" width="229" height="61.7" fill="none" stroke="#222" stroke-width="0.75"/>
<line x1="313" x2="313" y1="139.7" y2="142.4" stroke="#222" stroke-width="0.7"/>
<text x="313" y="150.8" font-size="7.6" text-anchor="middle">0</text>
<line x1="351.17" x2="351.17" y1="139.7" y2="142.4" stroke="#222" stroke-width="0.7"/>
<text x="351.17" y="150.8" font-size="7.6" text-anchor="middle">5</text>
<line x1="389.33" x2="389.33" y1="139.7" y2="142.4" stroke="#222" stroke-width="0.7"/>
<text x="389.33" y="150.8" font-size="7.6" text-anchor="middle">10</text>
<line x1="427.5" x2="427.5" y1="139.7" y2="142.4" stroke="#222" stroke-width="0.7"/>
<text x="427.5" y="150.8" font-size="7.6" text-anchor="middle">15</text>
<line x1="465.67" x2="465.67" y1="139.7" y2="142.4" stroke="#222" stroke-width="0.7"/>
<text x="465.67" y="150.8" font-size="7.6" text-anchor="middle">20</text>
<line x1="503.83" x2="503.83" y1="139.7" y2="142.4" stroke="#222" stroke-width="0.7"/>
<text x="503.83" y="150.8" font-size="7.6" text-anchor="middle">25</text>
<line x1="542" x2="542" y1="139.7" y2="142.4" stroke="#222" stroke-width="0.7"/>
<text x="542" y="150.8" font-size="7.6" text-anchor="middle">30</text>
<line x1="310.3" x2="313" y1="90.34" y2="90.34" stroke="#222" stroke-width="0.7"/>
<text x="307.6" y="93.04" font-size="7.6" text-anchor="end">40</text>
<line x1="310.3" x2="313" y1="115.02" y2="115.02" stroke="#222" stroke-width="0.7"/>
<text x="307.6" y="117.72" font-size="7.6" text-anchor="end">20</text>
<line x1="310.3" x2="313" y1="139.7" y2="139.7" stroke="#222" stroke-width="0.7"/>
<text x="307.6" y="142.4" font-size="7.6" text-anchor="end">0</text>
<rect x="321.5" y="82" width="15" height="11.4" rx="1.9" fill="#fff" stroke="#111" stroke-width="0.9"/>
<text x="329" y="90" font-size="6.7" font-weight="bold" stroke-width="0.1" text-anchor="middle">(d)</text>
<clipPath id="cr2"><rect x="313" y="151.6" width="229" height="61.9"/></clipPath>
<g clip-path="url(#cr2)">
<rect x="313" y="150.6" width="229" height="63.9" fill="#440154" stroke="none"/>
<g transform="translate(313.5 213.5) scale(1 -1)" shape-rendering="crispEdges" fill="none" stroke-width="1">
<path stroke="#481467" d="M60 44v6M61 51v4M62 56v2M63 56v1M64 58v1M65 58v1M66 56v2M67 55v2M68 54v1M69 54v3M70 54v2M71 55v1M72 53v2M73 55v1M74 54v3M75 57v6M76 59v4M77 58v1M78 56v2M79 57v1M80 55v3M81 55v2M82 57v2M83 57v2M84 58v2M85 58v1M86 57v3M87 50v6M88 58v1M89 58v2M90 56v2M91 53v3M92 50v2M93 51v4M94 56v1M95 54v4M96 54v2M97 53v2M98 54v2M99 53v2M100 55v1M101 54v2M102 54v2M103 54v3M104 53v2M105 57v1M106 55v3M107 55v2M108 55v1M109 0v1M109 54v2M110 54v3M111 53v2M112 52v3M113 36v11M114 50v3M115 44v4M116 45v6M117 52v2M118 0v2M118 47v3M119 36v4M119 47v3M120 34v4M120 45v4M121 48v4M122 49v3M123 0v1M123 46v4M124 43v3M125 36v16M126 46v2M127 47v1M128 43v6M129 33v16M130 40v4M131 40v10M132 44v7M133 46v3M134 44v3M135 48v4M136 0v2M136 51v3M137 0v2M137 37v5M138 45v3M139 48v2M140 3v1M140 47v3M141 20v7M141 43v4M142 35v3M143 0v1M143 33v3M144 0v2M144 46v4M145 0v3M145 19v8M145 44v2M146 0v3M146 24v6M146 47v1M147 28v5M147 42v7M148 18v3M148 25v4M148 45v2M149 15v4M149 20v4M149 34v2M149 44v4M150 15v2M150 44v4M151 33v4M152 0v5M152 28v15M153 0v3M153 18v10M153 32v11M154 0v3M154 8v4M154 16v2M154 37v3M155 4v14M155 41v3M156 0v1M156 12v6M156 29v12M157 0v2M157 36v5M158 0v3M158 31v12M159 0v6M159 27v12M160 0v1M160 17v4M160 43v2M161 0v2M161 18v3M161 26v3M161 41v3M162 0v5M162 21v12M162 44v3M163 22v5M163 40v7M164 5v16M164 26v3M164 38v6M165 13v15M165 33v16M166 0v7M166 12v3M166 42v5M167 12v11M167 27v4M168 0v29M169 0v32M170 0v4M170 23v21M171 5v9M171 28v7M171 42v3M172 0v3M172 23v15M172 43v5M173 4v3M173 20v6M174 3v18M174 27v18M175 0v9M175 14v8M175 28v12M176 20v9M176 36v3M177 1v2M177 33v4M178 4v42M179 5v3M179 26v3M180 2v4M180 32v5M181 0v8M181 15v10M181 33v5M182 0v25M182 34v15M183 0v48M184 0v11M184 15v18M185 2v16M185 22v7M186 4v4M186 13v6M186 34v9M187 2v11M187 17v4M187 26v4M187 36v7M188 19v4M188 26v3M188 36v5M189 3v15M189 29v5M190 5v35M191 2v10M191 18v4M191 25v15M192 13v3M192 23v4M192 38v8M193 8v5M193 18v5M193 38v10M194 4v12M194 19v22M195 7v2M195 20v14M196 31v3M198 3v12M199 36v9M200 2v4M200 14v5M201 0v22M202 3v4M202 16v6M203 0v4M203 8v4M204 2v12M205 4v12M205 25v5M206 6v16M206 26v6M207 4v9M207 19v2M208 1v10M208 15v6M209 19v12M211 7v4M213 1v12M214 5v4M215 28v12M216 31v8M219 9v12M220 12v8M221 20v9M224 19v10M227 11v11M228 6v14"/>
<path stroke="#482071" d="M60 38v6M61 48v3M62 55v1M63 55v1M64 57v1M65 57v1M67 54v1M68 53v1M69 0v1M69 52v2M70 52v2M71 53v2M72 50v3M73 54v1M74 52v2M75 55v2M76 58v1M77 57v1M78 55v1M79 55v2M80 52v3M81 54v1M83 56v1M84 57v1M86 55v2M87 49v1M88 57v1M89 57v1M90 55v1M91 52v1M92 48v2M93 40v3M93 48v3M94 55v1M95 53v1M96 52v2M97 51v2M98 53v1M99 51v2M100 54v1M101 53v1M102 53v1M103 48v6M104 51v2M105 55v2M106 53v2M107 54v1M108 54v1M109 1v1M109 53v1M110 0v1M110 52v2M111 29v2M111 51v2M112 50v2M114 48v2M115 43v1M116 43v2M117 50v2M118 2v1M118 33v14M119 32v4M119 40v7M120 32v2M120 38v7M121 25v4M121 47v1M122 47v2M123 1v2M123 36v10M124 23v11M124 40v3M125 34v2M126 0v6M126 29v2M126 45v1M127 0v6M127 46v1M128 40v3M129 0v3M129 27v6M130 38v2M131 0v3M131 36v4M132 0v2M132 13v15M132 40v4M133 0v2M133 44v2M134 21v11M134 42v2M135 42v6M136 2v4M136 8v8M136 50v1M137 2v2M137 18v19M138 13v5M138 42v3M139 0v4M139 42v6M140 4v1M140 46v1M141 19v1M141 27v3M141 40v3M142 19v16M143 1v1M143 16v11M143 29v4M144 2v2M144 20v5M144 42v4M145 3v2M145 13v6M145 27v2M145 43v1M146 3v3M146 16v8M146 30v2M146 45v2M147 25v3M147 33v9M148 0v6M148 17v1M148 29v2M148 43v2M149 0v3M149 13v2M149 24v10M149 36v8M150 12v3M150 17v27M151 0v3M151 8v2M151 30v3M152 5v10M152 25v3M153 3v3M153 15v3M154 3v5M154 18v3M154 35v2M155 18v2M155 30v11M156 1v4M156 8v4M156 18v3M156 26v3M157 2v1M157 14v4M157 22v14M158 3v5M158 25v6M159 6v2M159 23v4M160 1v3M160 10v7M160 21v5M160 39v4M161 2v1M161 16v2M161 29v12M162 5v16M162 33v4M162 40v4M163 0v2M163 19v3M163 27v3M163 38v2M164 0v5M164 29v9M165 0v4M165 10v3M165 28v5M166 7v5M167 0v3M167 9v3M170 4v19M171 14v3M171 21v7M171 35v7M172 3v20M172 38v5M173 7v13M174 21v6M176 0v3M176 16v4M176 29v7M177 3v2M177 29v4M179 8v1M179 24v2M180 6v8M180 23v9M181 8v7M181 25v8M185 18v4M186 8v5M186 19v3M186 29v5M187 21v5M189 18v11M191 12v6M192 16v7M193 13v5M200 6v8M202 7v9M203 4v4"/>
<path stroke="#472d7b" d="M60 35v3M61 47v1M62 53v2M63 54v1M64 56v1M65 56v1M66 55v1M67 53v1M68 0v1M69 49v3M70 40v3M70 49v3M71 52v1M72 47v3M73 53v1M74 49v3M75 54v1M76 57v1M77 56v1M78 54v1M79 54v1M80 51v1M82 0v1M82 56v1M83 55v1M84 56v1M85 57v1M86 49v6M87 48v1M88 56v1M89 56v1M90 53v2M91 51v1M92 47v1M93 38v2M93 43v5M94 54v1M95 52v1M96 51v1M97 50v1M98 52v1M99 44v7M100 53v1M101 2v2M101 52v1M102 52v1M103 32v6M103 46v2M104 49v2M106 50v3M107 53v1M108 23v1M108 53v1M109 2v1M109 52v1M110 1v1M110 50v2M111 27v2M111 31v3M111 50v1M112 0v3M112 48v2M113 35v1M114 46v2M115 42v1M116 42v1M117 48v2M118 3v1M118 31v2M119 0v3M119 31v1M120 30v2M121 22v3M121 29v2M121 46v1M122 26v3M122 40v7M123 3v1M123 17v1M123 30v6M124 0v1M124 22v1M124 34v6M125 32v2M126 6v1M126 28v1M126 31v1M126 44v1M127 6v4M127 45v1M128 0v2M128 37v3M129 3v3M129 25v2M130 37v1M131 3v3M131 8v7M131 34v2M132 2v3M132 10v3M132 28v12M133 2v2M133 28v2M133 43v1M134 0v1M134 19v2M134 32v2M134 40v2M135 40v2M136 6v2M136 16v7M136 48v2M137 4v2M137 15v3M138 12v1M138 18v2M138 25v5M138 40v2M139 4v2M139 21v1M139 40v2M140 5v1M140 32v2M140 45v1M141 0v3M141 18v1M141 30v10M142 0v1M142 17v2M143 2v1M143 15v1M143 27v2M144 4v1M144 13v7M144 25v3M144 31v11M145 5v8M145 29v2M145 42v1M146 6v10M146 32v1M146 44v1M147 0v2M147 20v5M148 6v3M148 15v2M148 31v3M148 41v2M149 3v2M149 10v3M150 0v3M150 10v2M151 3v5M151 10v5M151 16v3M151 28v2M152 15v10M153 6v9M154 21v3M154 32v3M155 20v2M155 28v2M156 5v3M156 21v5M157 3v2M157 12v2M157 18v4M158 8v2M158 22v3M159 8v1M159 22v1M160 4v6M160 26v13M161 3v2M161 14v2M162 37v3M163 2v4M163 17v2M163 30v8M165 4v6M167 3v6M171 17v4M176 3v2M176 11v5M177 5v3M177 12v6M177 26v3M179 9v2M179 22v2M180 14v2M180 21v2M186 22v7"/>
<path stroke="#453882" d="M60 33v2M61 46v1M62 52v1M63 53v1M64 55v1M65 55v1M66 54v1M67 0v1M67 52v1M68 52v1M69 1v1M69 47v2M70 43v6M71 51v1M72 45v2M73 52v1M74 47v2M76 56v1M79 53v1M80 50v1M81 53v1M82 1v3M82 55v1M83 54v1M84 55v1M85 56v1M86 47v2M88 55v1M89 55v1M90 52v1M91 50v1M92 45v2M94 28v3M94 53v1M95 51v1M96 36v4M96 49v2M97 49v1M98 50v2M99 43v1M100 52v1M101 0v2M101 4v2M102 51v1M103 31v1M103 38v4M103 43v3M104 44v5M105 54v1M106 49v1M107 29v4M107 52v1M108 20v3M108 24v5M108 30v1M108 52v1M109 51v1M111 26v1M111 34v1M111 44v6M112 3v2M112 33v5M112 46v2M113 0v1M113 34v1M114 45v1M115 41v1M116 41v1M117 45v3M118 4v1M118 30v1M119 3v2M119 30v1M120 29v1M121 21v1M121 31v1M121 45v1M122 24v2M122 29v2M122 37v3M123 4v2M123 15v2M123 18v3M123 28v2M124 1v1M124 21v1M125 0v1M125 21v1M125 30v2M126 7v1M126 27v1M126 32v2M126 43v1M127 10v10M127 44v1M128 2v1M128 36v1M129 6v1M129 24v1M130 0v2M130 9v4M130 36v1M131 6v2M131 15v6M131 31v3M132 5v5M133 4v1M133 26v2M133 30v2M133 40v3M134 1v2M134 18v1M134 34v6M135 16v6M135 30v10M136 23v3M136 31v4M136 47v1M137 6v9M138 0v2M138 11v1M138 20v5M138 30v10M139 6v1M139 18v3M139 22v7M139 39v1M140 6v1M140 30v2M140 34v2M140 43v2M141 3v2M141 17v1M143 3v1M143 13v2M144 5v2M144 10v3M144 28v3M145 31v2M145 40v2M146 33v2M146 43v1M147 2v2M147 17v3M148 9v6M148 34v7M149 5v5M150 3v7M151 15v1M151 19v3M151 25v3M154 24v8M155 22v6M157 5v7M158 10v2M158 19v3M159 9v1M159 21v1M161 5v2M161 12v2M163 6v11M176 5v6M177 8v4M177 18v8M179 11v2M179 21v1M180 16v5"/>
<path stroke="#414287" d="M60 31v2M62 51v1M64 54v1M66 53v1M67 1v1M67 51v1M68 1v1M69 44v3M70 39v1M71 50v1M72 44v1M73 0v1M73 51v1M74 0v2M74 45v2M75 53v1M77 55v1M78 53v1M79 52v1M81 52v1M82 4v1M82 54v1M83 53v1M86 46v1M87 47v1M88 54v1M89 53v2M91 0v1M92 0v1M92 44v1M93 37v1M94 31v2M94 52v1M96 35v1M96 40v2M96 48v1M97 48v1M98 49v1M99 42v1M101 51v1M102 35v5M102 49v2M103 29v2M103 42v1M104 29v9M104 42v2M105 53v1M106 0v1M106 21v3M106 47v2M107 0v1M107 26v3M107 33v2M107 51v1M108 19v1M108 29v1M108 31v1M108 51v1M109 3v1M110 2v1M110 49v1M111 25v1M111 35v1M111 42v2M112 5v1M112 32v1M112 38v3M112 43v3M113 1v1M114 36v9M115 40v1M116 40v1M117 27v1M117 40v5M118 5v1M118 29v1M119 5v2M119 29v1M120 0v1M120 28v1M121 20v1M121 32v1M121 44v1M122 15v9M122 31v6M123 6v1M123 13v2M123 21v2M123 26v2M124 2v1M124 20v1M125 1v1M125 17v4M125 22v3M125 28v2M126 8v2M126 34v1M126 41v2M127 20v2M127 43v1M128 3v2M128 11v4M128 34v2M130 2v2M130 8v1M130 13v1M130 35v1M131 21v2M131 30v1M133 5v3M133 25v1M133 32v8M134 3v2M134 17v1M135 0v2M135 13v3M135 22v8M136 26v5M136 35v2M136 46v1M138 2v1M139 7v1M139 17v1M139 29v3M139 37v2M140 7v1M140 29v1M140 36v2M140 42v1M141 5v2M141 16v1M142 1v1M142 16v1M143 4v1M143 12v1M144 7v3M145 33v3M145 37v3M146 35v2M146 41v2M147 4v13M151 22v3M158 12v7M159 10v1M159 20v1M161 7v5M179 13v4M179 18v3"/>
<path stroke="#3d4d8a" d="M60 29v2M61 45v1M62 49v2M63 52v1M64 53v1M65 54v1M66 0v2M67 50v1M68 51v1M69 2v1M69 43v1M71 49v1M72 0v1M72 43v1M73 1v1M73 50v1M74 2v1M74 44v1M75 52v1M76 55v1M77 54v1M78 0v1M78 51v2M79 51v1M80 49v1M81 0v2M81 6v5M82 5v1M82 53v1M84 54v1M85 55v1M86 45v1M89 42v2M89 52v1M90 51v1M91 1v1M91 49v1M92 43v1M93 36v1M94 27v1M96 33v2M96 42v2M96 45v3M97 0v1M97 46v2M98 12v2M98 43v6M99 13v1M100 51v1M101 6v1M101 50v1M102 34v1M102 40v2M102 48v1M103 28v1M104 28v1M104 38v4M105 0v1M105 52v1M106 24v1M106 44v3M107 12v3M107 25v1M107 35v1M108 0v1M108 18v1M108 32v1M108 50v1M109 50v1M110 36v1M110 48v1M111 24v1M111 36v6M112 6v1M112 31v1M112 41v2M113 33v1M114 0v1M114 11v1M115 0v1M115 39v1M116 39v1M117 26v1M117 28v2M117 38v2M118 6v1M118 28v1M119 7v2M119 13v1M119 28v1M120 1v8M120 27v1M121 17v3M121 33v2M121 42v2M122 0v1M123 7v6M123 23v3M124 3v1M124 19v1M125 2v1M125 16v1M125 25v3M126 10v2M126 26v1M126 35v2M126 39v2M127 22v2M127 42v1M128 5v2M128 8v3M128 15v2M128 33v1M129 7v1M129 23v1M130 4v4M130 14v1M130 33v2M131 23v2M131 28v2M133 8v1M133 24v1M134 5v2M134 15v2M135 2v1M135 11v2M136 37v1M136 44v2M138 3v1M138 9v2M139 8v1M139 16v1M139 32v5M140 23v6M140 38v4M141 7v1M141 15v1M142 2v1M142 15v1M143 5v1M143 11v1M145 36v1M146 37v4M159 11v2M159 18v2M179 17v1"/>
<path stroke="#39568c" d="M60 28v1M62 48v1M63 51v1M64 51v2M66 2v1M66 52v1M67 2v1M67 48v2M68 2v1M69 42v1M71 48v1M72 1v2M72 42v1M73 2v1M73 49v1M74 29v3M74 43v1M77 0v1M77 53v1M78 1v1M78 46v1M78 49v2M81 2v4M81 11v1M81 51v1M82 6v1M83 52v1M86 44v1M87 46v1M88 53v1M89 41v1M89 44v2M89 50v2M90 50v1M91 48v1M92 1v1M92 32v3M92 42v1M93 35v1M94 33v1M94 51v1M95 0v1M95 50v1M96 30v3M96 44v1M97 1v1M98 11v1M98 14v1M98 42v1M99 12v1M99 41v1M101 7v1M101 49v1M102 33v1M102 42v6M103 27v1M105 29v7M105 51v1M106 1v1M106 20v1M106 25v1M106 40v4M107 1v1M107 11v1M107 15v1M107 24v1M107 36v1M107 50v1M108 1v1M108 17v1M108 33v1M108 48v2M109 4v1M109 49v1M110 3v1M110 34v2M110 37v1M111 0v1M113 2v1M114 1v1M114 12v2M114 35v1M115 37v2M116 38v1M117 0v1M117 30v2M117 35v3M118 7v7M118 27v1M119 9v4M119 14v2M120 9v1M120 26v1M121 15v2M121 35v2M121 40v2M122 1v1M122 14v1M124 4v1M124 18v1M125 3v1M125 15v1M126 12v2M126 25v1M126 37v2M127 24v7M127 41v1M128 7v1M128 17v10M128 31v2M129 8v1M129 22v1M130 31v2M131 25v3M133 9v1M133 22v2M134 7v8M135 3v1M135 10v1M136 38v6M138 4v2M138 8v1M139 9v1M139 14v2M140 8v1M140 20v3M141 8v1M141 14v1M143 6v5M159 13v2M159 16v2"/>
<path stroke="#34608d" d="M60 26v2M61 44v1M64 49v2M65 53v1M66 3v1M67 3v1M67 46v2M68 50v1M69 41v1M70 38v1M71 47v1M72 3v1M72 39v3M73 41v3M73 48v1M74 3v1M74 27v2M74 32v1M77 1v1M77 52v1M78 2v1M78 45v1M78 47v2M79 50v1M81 50v1M82 7v1M82 52v1M83 51v1M84 53v1M86 43v1M88 27v2M89 30v3M89 40v1M89 46v4M90 49v1M91 2v1M91 47v1M92 30v2M92 35v2M92 40v2M93 0v1M94 26v1M95 1v1M96 29v1M97 23v1M97 45v1M98 15v1M99 11v1M99 14v1M100 50v1M101 23v2M101 32v4M101 39v3M101 48v1M103 26v1M104 27v1M105 1v1M105 27v2M105 36v1M105 50v1M106 19v1M106 26v1M106 39v1M107 16v1M107 22v2M107 49v1M108 15v2M108 46v2M110 33v1M110 38v1M110 47v1M111 1v1M111 23v1M112 7v1M112 30v1M113 32v1M114 2v1M114 10v1M115 1v1M115 36v1M116 25v2M116 37v1M117 1v1M117 10v2M117 25v1M117 32v3M118 14v2M118 26v1M119 16v1M119 27v1M120 10v1M120 25v1M121 37v3M122 13v1M124 5v1M124 17v1M126 14v1M126 24v1M127 31v2M128 27v4M129 9v1M130 15v1M130 29v2M133 10v2M133 21v1M135 4v1M135 9v1M138 6v2M139 10v4M140 9v1M140 18v2M141 9v1M141 13v1M142 3v1M142 14v1M159 15v1"/>
<path stroke="#30698e" d="M60 25v1M62 47v1M63 50v1M64 48v1M66 4v2M66 51v1M67 4v1M67 45v1M69 3v1M69 40v1M71 45v2M72 4v4M72 37v2M73 3v1M73 40v1M73 44v4M74 26v1M74 42v1M75 51v1M76 54v1M77 2v1M77 50v2M78 44v1M80 48v1M81 12v1M82 8v1M82 51v1M83 49v2M84 0v1M85 0v2M85 54v1M86 42v1M87 20v4M87 45v1M88 26v1M88 29v1M88 52v1M89 29v1M89 33v1M89 39v1M90 19v3M92 2v1M92 26v4M92 37v3M93 33v2M94 34v1M94 50v1M95 2v1M96 28v1M97 2v1M97 22v1M97 24v3M97 44v1M98 10v1M98 41v1M99 15v1M101 8v1M101 22v1M101 25v2M101 30v2M101 36v3M101 42v2M101 47v1M102 0v1M102 32v1M105 26v1M105 37v2M105 49v1M106 2v1M106 27v1M106 38v1M107 2v1M107 10v1M107 17v2M107 20v2M107 37v1M108 2v1M108 34v1M108 45v1M109 5v1M109 48v1M110 4v1M110 32v1M110 39v1M110 46v1M112 8v1M113 3v1M114 3v1M114 9v1M114 14v1M114 34v1M115 34v2M116 27v2M116 36v1M117 2v1M117 9v1M117 12v1M118 16v1M118 25v1M119 17v2M119 26v1M120 11v1M120 24v1M121 14v1M122 2v1M122 12v1M124 6v2M124 16v1M125 4v1M125 14v1M126 15v1M127 33v1M127 39v2M129 10v1M129 21v1M130 28v1M133 12v1M133 19v2M135 5v4M140 10v1M140 17v1M141 10v3M142 4v1"/>
<path stroke="#2c728e" d="M60 0v1M60 23v2M61 43v1M63 49v1M65 52v1M66 6v1M66 50v1M67 5v5M67 44v1M68 3v1M68 49v1M69 39v1M70 0v1M71 17v3M71 36v9M72 36v1M73 38v2M74 4v1M74 33v1M77 3v1M77 49v1M78 43v1M79 49v1M81 49v1M82 9v1M82 49v2M83 48v1M84 1v1M84 13v1M84 52v1M86 41v1M87 19v1M87 24v4M87 33v2M88 25v1M88 30v1M88 51v1M89 19v1M89 28v1M89 34v2M89 37v2M90 48v1M91 3v1M91 46v1M92 25v1M93 1v1M93 32v1M94 17v1M94 25v1M95 27v1M95 31v3M95 49v1M96 27v1M97 21v1M97 27v5M97 43v1M98 9v1M98 16v1M98 24v5M99 10v1M99 40v1M100 28v3M100 49v1M101 9v1M101 21v1M101 27v3M101 44v3M103 13v1M104 26v1M105 2v1M105 39v6M105 47v2M106 18v1M106 28v1M106 37v1M107 9v1M107 19v1M107 38v1M107 48v1M108 14v1M108 44v1M109 17v3M110 21v4M110 31v1M110 40v2M110 45v1M111 2v1M112 29v1M113 31v1M114 4v1M114 8v1M115 33v1M116 24v1M116 29v7M117 3v1M117 8v1M117 24v1M118 17v2M118 23v2M119 19v2M119 25v1M120 12v1M120 23v1M122 3v1M124 8v2M124 15v1M125 5v1M125 13v1M126 16v1M126 23v1M127 34v5M129 11v1M129 20v1M130 16v1M130 27v1M133 13v6M140 11v2M140 16v1M142 13v1"/>
<path stroke="#297b8e" d="M60 1v4M60 22v1M63 44v2M63 47v2M66 7v1M67 10v2M67 43v1M69 4v1M69 38v1M71 0v1M71 15v2M71 20v1M72 8v1M73 4v1M73 32v6M74 25v1M74 34v1M74 41v1M75 50v1M78 3v1M78 42v1M80 0v1M81 13v1M82 10v1M82 42v7M85 2v1M85 53v1M86 40v1M87 18v1M87 28v5M87 35v1M87 44v1M88 31v1M89 18v1M89 20v2M89 27v1M89 36v1M90 22v1M91 45v1M93 27v5M94 16v1M94 18v1M94 24v1M95 28v3M95 34v1M96 0v1M97 3v1M97 32v1M97 41v2M98 0v1M98 8v1M98 23v1M98 29v1M100 0v1M100 22v6M100 31v1M101 10v1M101 19v2M102 1v1M102 31v1M103 11v2M103 25v1M105 25v1M105 45v2M106 29v2M106 36v1M107 3v1M107 39v1M107 47v1M108 3v1M108 13v1M108 35v1M109 6v1M109 16v1M109 20v1M110 19v2M110 25v6M110 42v3M111 22v1M112 9v1M113 4v1M114 5v3M114 15v1M115 2v1M115 24v4M115 32v1M116 23v1M117 4v4M117 13v1M118 19v4M119 21v4M121 0v1M121 13v1M122 11v1M124 10v5M126 17v2M126 21v2M129 12v2M129 19v1M130 26v1M140 13v3M142 5v1M142 12v1"/>
<path stroke="#25838e" d="M60 5v2M60 20v2M61 42v1M62 46v1M63 46v1M64 47v1M65 0v1M65 29v3M65 51v1M66 49v1M67 12v1M67 42v1M68 48v1M69 32v6M70 1v1M70 15v3M70 37v1M71 1v1M71 14v1M71 21v1M72 35v1M73 5v1M73 12v2M74 5v1M74 40v1M76 53v1M77 48v1M78 41v1M80 47v1M81 48v1M82 11v1M82 41v1M83 0v1M83 47v1M84 2v1M84 12v1M84 14v1M87 36v1M88 24v1M88 32v2M88 50v1M89 22v2M89 26v1M90 33v2M90 47v1M91 44v1M92 3v1M92 24v1M93 26v1M94 15v1M94 19v1M94 35v1M94 49v1M95 3v1M95 26v1M95 35v1M96 26v1M97 20v1M97 33v1M97 40v1M98 1v2M98 6v2M98 17v1M98 22v1M98 30v1M98 40v1M99 9v1M99 16v1M100 21v1M100 48v1M101 11v1M101 17v2M104 0v1M104 25v1M105 24v1M106 31v1M106 34v2M107 4v1M107 8v1M107 40v1M108 4v1M108 43v1M109 15v1M109 47v1M110 5v1M110 13v6M111 3v1M112 10v1M112 28v1M113 30v1M114 33v1M115 23v1M115 28v4M120 13v1M120 22v1M122 4v1M125 6v1M125 12v1M126 19v2M129 14v1M129 18v1M130 17v1M130 25v1M142 6v1"/>
<path stroke="#228c8d" d="M60 7v2M60 18v2M61 33v1M61 41v1M62 0v1M63 0v1M63 43v1M65 28v1M65 32v2M65 50v1M66 8v1M66 48v1M67 13v2M67 39v3M68 4v1M69 5v1M69 13v2M69 31v1M70 14v1M70 18v1M71 2v1M71 13v1M71 35v1M72 9v1M72 34v1M73 6v2M73 10v2M73 14v1M73 31v1M74 35v1M74 39v1M79 48v1M82 12v1M82 40v1M83 46v1M84 51v1M85 3v1M85 52v1M87 17v1M87 37v1M87 43v1M88 23v1M88 34v3M89 17v1M89 24v2M90 0v1M90 18v1M90 32v1M90 35v1M91 4v1M91 26v3M92 23v1M93 2v1M94 20v1M94 22v2M95 48v1M96 1v1M97 4v1M97 34v2M97 38v2M98 3v3M98 18v4M99 0v1M99 39v1M100 1v1M100 32v1M100 47v1M101 12v5M102 2v1M102 30v1M103 14v1M103 24v1M105 3v1M106 3v1M106 17v1M106 32v2M107 5v3M107 41v1M107 45v2M108 12v1M108 36v1M108 42v1M109 7v1M109 14v1M109 21v1M110 6v1M110 12v1M111 21v1M113 5v1M114 16v1M115 17v1M115 21v2M116 0v1M116 22v1M117 14v1M117 23v1M120 14v1M120 21v1M121 1v1M122 5v1M122 10v1M125 7v2M125 10v2M129 15v3M130 18v1M130 24v1M142 7v1M142 10v2"/>
<path stroke="#1f948c" d="M60 9v9M61 32v1M61 34v2M61 40v1M62 1v1M63 42v1M65 1v1M65 27v1M65 34v1M65 40v2M66 47v1M67 15v2M67 38v1M69 15v1M69 30v1M70 2v1M70 13v1M70 19v1M71 3v1M73 8v2M73 15v1M73 20v1M73 30v1M74 6v1M74 24v1M74 36v3M75 49v1M77 4v1M77 22v2M78 4v1M78 40v1M81 14v1M83 1v1M84 3v1M84 11v1M84 15v1M87 16v1M87 42v1M88 0v1M88 22v1M88 37v1M88 49v1M90 23v1M90 31v1M90 36v1M90 46v1M91 23v3M91 29v1M91 43v1M92 13v3M93 25v1M94 0v1M94 14v1M94 21v1M94 36v1M94 48v1M95 4v1M95 25v1M96 25v1M97 36v2M98 31v1M98 39v1M99 1v1M99 8v1M99 17v1M100 20v1M100 33v1M102 29v1M104 24v1M105 23v1M107 42v3M108 5v1M108 37v1M108 41v1M109 8v1M109 13v1M109 46v1M110 11v1M111 4v1M112 11v1M112 27v1M113 6v1M113 12v4M113 29v1M115 3v1M115 15v2M115 18v3M120 15v1M120 20v1M121 12v1M122 6v1M122 9v1M125 9v1M130 19v1M130 23v1M142 8v2"/>
<path stroke="#1e9d89" d="M61 36v1M61 39v1M62 45v1M63 1v1M63 34v2M64 0v1M64 46v1M65 35v1M65 39v1M65 42v1M65 49v1M66 9v1M66 46v1M67 17v1M68 47v1M69 6v1M69 12v1M69 29v1M70 12v1M71 4v1M71 12v1M71 22v1M71 34v1M72 33v1M73 16v4M73 21v1M77 47v1M78 39v1M81 30v3M81 47v1M82 13v1M82 39v1M83 45v1M85 4v1M86 19v1M86 39v1M87 12v4M87 38v2M87 41v1M88 21v1M90 37v1M90 45v1M92 4v1M92 16v1M92 22v1M93 15v2M93 24v1M95 36v1M96 2v1M97 5v1M97 19v1M99 2v1M100 2v1M100 38v1M100 46v1M102 3v1M103 10v1M104 1v1M104 17v1M105 22v1M108 11v1M108 38v1M109 12v1M109 22v1M110 7v2M110 10v1M111 20v1M113 7v1M113 10v2M113 16v1M113 25v4M114 17v1M114 32v1M115 14v1M116 1v1M116 21v1M117 15v1M117 22v1M120 16v4M121 2v1M122 7v2M130 20v3"/>
<path stroke="#21a585" d="M61 37v2M62 2v1M63 26v2M63 33v1M63 41v1M64 1v1M65 26v1M65 36v3M65 43v2M65 47v2M67 18v1M67 37v1M68 5v1M69 11v1M70 11v1M70 20v1M70 36v1M71 5v4M71 10v2M73 22v1M73 29v1M74 7v1M76 52v1M77 21v1M79 47v1M80 46v1M82 38v1M84 4v1M84 10v1M84 27v2M84 50v1M85 5v1M85 51v1M86 20v1M87 11v1M87 40v1M88 48v1M90 1v1M90 24v1M90 30v1M90 38v1M91 5v1M91 22v1M91 30v1M91 42v1M92 17v1M92 21v1M93 3v1M93 14v1M93 17v1M94 1v1M94 13v1M95 47v1M96 24v1M98 32v1M98 38v1M99 7v1M99 28v1M99 38v1M100 19v1M100 34v4M100 39v3M100 45v1M102 28v1M103 15v1M103 23v1M104 15v2M104 18v1M104 23v1M105 4v1M105 21v1M106 4v1M106 16v1M108 6v1M108 10v1M108 39v2M109 9v3M109 34v2M109 45v1M110 9v1M111 5v1M112 12v1M112 26v1M113 8v2M113 24v1M114 18v1M115 4v1M115 13v1M121 11v1"/>
<path stroke="#28ae80" d="M61 31v1M62 3v3M63 2v1M63 25v1M63 28v2M63 32v1M63 36v1M64 2v1M64 45v1M65 2v1M65 25v1M65 45v2M66 10v1M66 45v1M67 19v4M67 36v1M68 35v2M69 7v2M69 10v1M69 16v1M70 3v1M70 10v1M71 9v1M71 23v1M72 10v1M72 32v1M74 8v1M74 23v1M75 0v1M75 27v1M75 48v1M78 38v1M80 1v1M81 15v1M81 29v1M82 14v1M83 2v1M83 35v4M83 44v1M84 26v1M84 29v1M84 36v1M86 18v1M87 0v1M87 10v1M88 13v1M88 20v1M88 38v1M90 17v1M90 39v1M90 43v2M91 31v1M92 12v1M92 18v3M93 13v1M93 23v1M94 37v1M94 47v1M96 23v1M97 6v1M98 33v1M99 3v2M99 6v1M99 18v1M99 27v1M99 29v1M100 3v1M100 42v3M102 27v1M103 0v1M105 20v1M108 7v3M109 23v1M109 32v2M109 36v2M111 19v1M113 17v1M113 23v1M115 12v1M116 20v1M117 16v1M117 21v1"/>
<path stroke="#34b679" d="M62 6v1M62 44v1M63 30v2M63 37v4M64 3v5M67 23v1M68 6v1M68 13v1M68 34v1M68 37v1M68 46v1M69 9v1M69 28v1M70 21v1M71 33v1M72 31v1M73 23v1M73 28v1M74 11v3M75 1v1M75 26v1M75 28v1M77 24v1M77 46v1M78 16v2M81 33v1M81 46v1M82 37v1M83 34v1M83 39v1M83 43v1M84 5v1M84 9v1M84 16v1M84 25v1M84 35v1M85 6v1M85 10v4M85 50v1M86 0v1M86 21v1M86 38v1M88 14v2M88 19v1M88 47v1M90 25v1M90 29v1M90 40v3M91 6v1M91 41v1M92 5v1M93 18v1M93 22v1M94 2v1M95 5v1M95 24v1M95 37v1M96 3v1M97 7v1M97 18v1M98 37v1M99 5v1M99 26v1M100 18v1M102 4v1M102 26v1M103 9v1M103 16v1M104 14v1M104 19v4M105 5v1M105 11v4M105 16v4M109 38v1M109 44v1M111 6v1M111 13v2M111 18v1M112 25v1M113 18v1M113 22v1M114 19v1M114 31v1M115 5v1M115 11v1M116 2v1M116 19v1M117 17v1M117 20v1M121 3v1M121 10v1"/>
<path stroke="#42be71" d="M63 3v1M63 24v1M64 8v1M65 24v1M66 11v1M66 31v3M66 44v1M67 35v1M68 14v2M69 17v1M70 4v1M70 9v1M72 29v2M73 24v4M74 9v2M74 14v1M74 22v1M75 2v1M75 25v1M75 29v1M78 5v1M78 15v1M78 28v2M78 37v1M79 36v1M79 46v1M80 45v1M81 28v1M83 42v1M84 6v1M84 8v1M84 30v1M84 34v1M84 49v1M85 7v3M85 49v1M87 1v1M87 9v1M88 1v1M88 12v1M88 16v3M88 39v1M89 16v1M90 2v1M90 26v3M91 21v1M91 32v1M92 11v1M93 19v3M94 12v1M94 38v1M94 46v1M95 46v1M96 22v1M98 34v3M99 19v1M99 30v1M99 37v1M100 4v1M100 17v1M102 25v1M103 1v1M103 22v1M104 2v1M105 15v1M106 15v1M109 24v1M109 31v1M109 39v1M109 43v1M111 7v1M111 11v2M111 15v3M112 13v1M113 19v3M114 20v1M115 10v1M116 18v1M117 18v2"/>
<path stroke="#54c568" d="M61 30v1M62 7v1M63 4v1M64 34v1M64 44v1M65 3v1M66 12v1M66 30v1M68 7v1M68 12v1M68 33v1M68 38v1M68 45v1M70 5v1M70 8v1M70 22v1M70 35v1M71 24v1M74 15v1M75 23v2M75 30v1M77 45v1M78 18v1M78 26v2M79 35v1M81 16v1M82 15v1M82 36v1M83 33v1M83 40v2M84 7v1M84 24v1M84 31v3M84 37v1M86 1v1M86 17v1M88 46v1M91 7v1M91 40v1M92 6v1M93 4v1M95 6v1M95 38v1M96 4v1M97 8v1M97 17v1M99 25v1M99 31v1M100 13v4M102 5v1M102 21v4M105 6v1M105 10v1M106 5v1M109 30v1M109 40v3M111 8v3M112 24v1M115 6v1M115 9v1M116 16v2M121 4v1"/>
<path stroke="#67cc5c" d="M61 0v1M62 43v1M63 23v1M64 9v1M64 33v1M64 35v1M66 13v1M66 34v1M66 43v1M68 8v1M68 11v1M68 16v1M69 27v1M70 6v2M71 32v1M72 11v1M72 28v1M75 3v1M75 21v2M75 31v1M75 47v1M76 51v1M77 5v1M78 25v1M78 36v1M79 37v1M81 34v1M82 16v1M83 3v1M84 17v1M85 14v1M85 48v1M87 2v1M87 8v1M88 40v1M90 16v1M91 33v1M92 10v1M93 12v1M94 3v1M94 11v1M94 39v1M94 45v1M96 21v1M99 20v1M99 24v1M99 36v1M100 5v1M100 11v2M102 20v1M103 2v1M103 8v1M103 17v1M103 21v1M104 13v1M105 7v3M109 25v1M109 29v1M112 14v1M114 21v1M115 7v2M116 3v1M116 15v1M121 9v1"/>
<path stroke="#7cd250" d="M63 5v3M64 36v1M64 43v1M65 23v1M66 14v1M66 29v1M66 35v1M67 24v1M67 34v1M68 9v2M68 32v1M68 39v1M68 44v1M69 18v1M71 25v1M74 16v1M74 21v1M77 20v1M77 39v2M78 14v1M78 19v1M78 23v2M78 30v1M79 0v1M79 45v1M80 44v1M81 17v1M81 27v1M81 45v1M82 17v1M82 20v1M82 35v1M84 48v1M85 46v2M86 2v1M86 16v1M86 22v1M88 11v1M88 41v1M88 45v1M89 0v1M91 8v1M91 20v1M91 39v1M92 7v3M95 45v1M96 5v1M97 9v1M99 21v3M99 32v1M99 35v1M100 10v1M102 6v1M102 19v1M103 18v1M103 20v1M106 14v1M109 26v3M114 22v1M114 30v1M116 14v1M121 5v2M121 8v1"/>
<path stroke="#93d741" d="M63 8v2M64 10v1M64 32v1M64 37v1M65 4v1M66 15v1M66 28v1M66 42v1M68 17v1M68 40v1M68 43v1M69 26v1M70 23v1M71 31v1M74 17v1M74 20v1M75 4v1M75 32v1M76 0v1M77 25v1M77 38v1M77 41v1M77 43v2M78 6v1M78 20v1M78 22v1M78 31v1M78 35v1M79 34v1M79 38v1M82 18v2M82 21v1M83 32v1M84 23v1M84 38v1M86 37v1M87 3v1M87 7v1M88 42v3M91 34v1M91 38v1M93 5v1M94 4v1M94 10v1M94 40v1M94 43v2M95 7v1M95 23v1M95 39v1M96 6v1M97 16v1M99 33v2M100 6v1M100 9v1M102 18v1M103 3v1M103 19v1M104 3v1M104 12v1M106 6v1M112 23v1M116 13v1M121 7v1"/>
<path stroke="#addc30" d="M62 8v1M62 42v1M63 22v1M64 31v1M64 42v1M66 16v1M66 27v1M66 36v1M66 41v1M67 33v1M68 31v1M68 41v2M71 26v1M72 27v1M74 18v2M75 20v1M75 33v5M75 46v1M77 42v1M78 21v1M80 2v1M80 38v2M80 43v1M81 18v1M82 34v1M84 18v1M85 15v1M85 45v1M86 3v1M86 9v2M87 4v1M87 6v1M88 2v1M90 3v1M91 9v1M91 35v3M93 11v1M94 41v2M96 7v3M96 20v1M97 10v1M100 7v2M102 7v1M103 7v1M106 13v1M112 15v1M114 23v1M114 29v1M116 4v1M116 12v1"/>
<path stroke="#c5e021" d="M61 1v1M61 29v1M64 11v2M64 15v3M64 30v1M64 38v2M64 41v1M65 22v1M66 17v1M66 26v1M66 37v1M66 40v1M67 25v1M68 18v1M68 24v3M69 19v1M70 34v1M71 27v1M71 30v1M75 5v1M75 38v1M78 13v1M78 32v3M79 1v1M79 39v1M79 44v1M80 37v1M80 40v3M81 26v1M81 35v1M83 4v1M84 22v1M85 44v1M86 8v1M86 11v1M86 15v1M87 5v1M89 15v1M91 10v1M91 19v1M93 6v1M94 5v1M94 9v1M95 8v1M95 40v1M95 44v1M96 10v1M97 11v1M97 15v1M102 17v1M103 4v1M103 6v1M104 11v1M112 22v1M116 11v1"/>
<path stroke="#dde318" d="M62 32v3M63 10v1M63 21v1M64 13v2M64 18v1M64 26v4M64 40v1M66 18v1M66 25v1M66 38v2M67 32v1M68 23v1M68 27v4M69 25v1M70 24v1M71 28v2M72 12v1M75 6v1M75 11v1M76 1v1M79 43v1M81 44v1M82 22v1M84 19v2M84 47v1M86 4v1M86 7v1M86 12v1M86 14v1M86 23v1M88 10v1M90 15v1M93 10v1M94 6v1M94 8v1M95 41v1M95 43v1M96 11v1M97 12v3M102 8v1M102 15v2M103 5v1M104 4v1M106 7v1M106 12v1M112 16v1M114 24v1M114 28v1"/>
<path stroke="#f4e61e" d="M61 2v27M62 9v23M62 35v7M63 11v10M64 19v7M65 5v17M66 19v6M67 26v6M68 19v4M69 20v5M70 25v9M72 13v14M75 7v4M75 12v8M75 39v7M76 2v49M77 6v14M77 26v12M78 7v6M79 2v32M79 40v3M80 3v34M81 19v7M81 36v8M82 23v11M83 5v27M84 21v1M84 39v8M85 16v28M86 5v2M86 13v1M86 24v13M88 3v7M89 1v14M90 4v11M91 11v8M93 7v3M94 7v1M95 9v14M95 42v1M96 12v8M102 9v6M104 5v6M106 8v4M112 17v5M114 25v3M116 5v6"/>
</g></g>
<rect x="313" y="151.6" width="229" height="61.9" fill="none" stroke="#222" stroke-width="0.75"/>
<line x1="313" x2="313" y1="213.5" y2="216.2" stroke="#222" stroke-width="0.7"/>
<text x="313" y="225" font-size="7.6" text-anchor="middle">0</text>
<line x1="351.17" x2="351.17" y1="213.5" y2="216.2" stroke="#222" stroke-width="0.7"/>
<text x="351.17" y="225" font-size="7.6" text-anchor="middle">5</text>
<line x1="389.33" x2="389.33" y1="213.5" y2="216.2" stroke="#222" stroke-width="0.7"/>
<text x="389.33" y="225" font-size="7.6" text-anchor="middle">10</text>
<line x1="427.5" x2="427.5" y1="213.5" y2="216.2" stroke="#222" stroke-width="0.7"/>
<text x="427.5" y="225" font-size="7.6" text-anchor="middle">15</text>
<line x1="465.67" x2="465.67" y1="213.5" y2="216.2" stroke="#222" stroke-width="0.7"/>
<text x="465.67" y="225" font-size="7.6" text-anchor="middle">20</text>
<line x1="503.83" x2="503.83" y1="213.5" y2="216.2" stroke="#222" stroke-width="0.7"/>
<text x="503.83" y="225" font-size="7.6" text-anchor="middle">25</text>
<line x1="542" x2="542" y1="213.5" y2="216.2" stroke="#222" stroke-width="0.7"/>
<text x="542" y="225" font-size="7.6" text-anchor="middle">30</text>
<line x1="310.3" x2="313" y1="163.98" y2="163.98" stroke="#222" stroke-width="0.7"/>
<text x="307.6" y="166.68" font-size="7.6" text-anchor="end">40</text>
<line x1="310.3" x2="313" y1="188.74" y2="188.74" stroke="#222" stroke-width="0.7"/>
<text x="307.6" y="191.44" font-size="7.6" text-anchor="end">20</text>
<line x1="310.3" x2="313" y1="213.5" y2="213.5" stroke="#222" stroke-width="0.7"/>
<text x="307.6" y="216.2" font-size="7.6" text-anchor="end">0</text>
<rect x="321.5" y="155.6" width="15" height="11.4" rx="1.9" fill="#fff" stroke="#111" stroke-width="0.9"/>
<text x="329" y="163.6" font-size="6.7" font-weight="bold" stroke-width="0.1" text-anchor="middle">(f)</text>
<text transform="translate(10.8 109.2) rotate(-90)" font-size="7.85" text-anchor="middle">Amplitude</text>
<text transform="translate(292 109.4) rotate(-90)" font-size="7.9" text-anchor="middle">Frequency (Hz)</text>
<text x="153.3" y="236.5" font-size="7.75" text-anchor="middle">Time (s)</text>
<text x="427.5" y="236.5" font-size="7.75" text-anchor="middle">Time (s)</text>
</g>
<g font-family="'Liberation Serif', 'DejaVu Serif', serif" font-weight="bold" font-size="18" fill="#111">
<text x="44.6" y="264.1" textLength="470.2" lengthAdjust="spacingAndGlyphs">SNR = 0.37 dB, r = 0.7237, RMSE = 0.8911 Before Denoising,</text>
<text x="48.5" y="285.2" textLength="463" lengthAdjust="spacingAndGlyphs">SNR = 11.51 dB, r = 0.9738, RMSE = 0.3516 After Denoising</text>
</g>
</svg>
</body></html>
